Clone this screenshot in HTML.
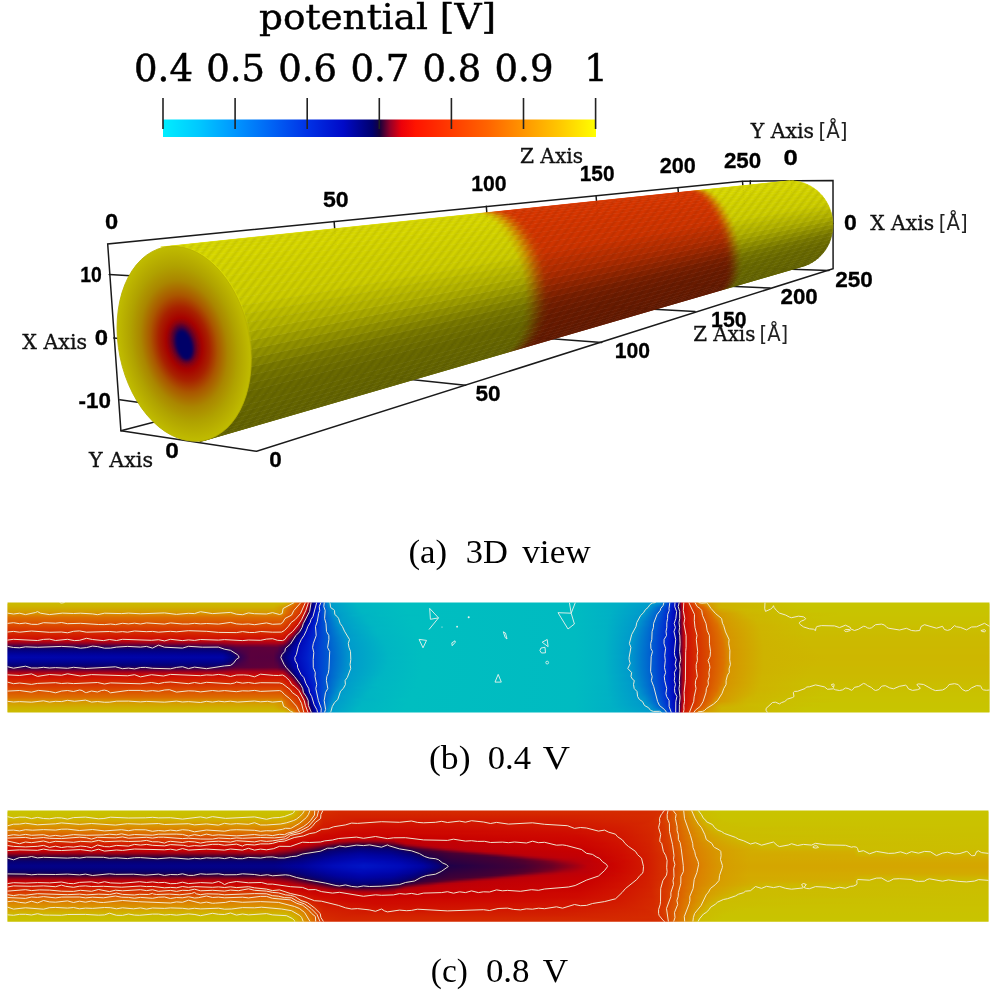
<!DOCTYPE html>
<html><head><meta charset="utf-8"><style>
html,body{margin:0;padding:0;background:#fff;}
body{width:996px;height:992px;overflow:hidden;position:relative;}
svg{position:absolute;left:0;top:0;}
.cap{font-family:"Liberation Serif",serif;}
.cap3{font-family:"Liberation Serif",serif;}
.ser{font-family:"DejaVu Serif",serif;}
.sans{font-family:"Liberation Sans",Arial,sans-serif;font-weight:bold;}
</style></head><body>
<svg width="996" height="992" viewBox="0 0 996 992">
<defs>
<linearGradient id="cb" x1="0" y1="0" x2="1" y2="0"><stop offset="0.00%" stop-color="#00eeff"/><stop offset="8.33%" stop-color="#00c8ff"/><stop offset="16.67%" stop-color="#0096ff"/><stop offset="25.00%" stop-color="#0064f5"/><stop offset="33.33%" stop-color="#0032e6"/><stop offset="41.67%" stop-color="#000ac8"/><stop offset="48.33%" stop-color="#00006e"/><stop offset="50.00%" stop-color="#14003c"/><stop offset="52.50%" stop-color="#960028"/><stop offset="55.00%" stop-color="#eb000a"/><stop offset="58.33%" stop-color="#ff1400"/><stop offset="66.67%" stop-color="#ff3c00"/><stop offset="75.00%" stop-color="#ff6400"/><stop offset="83.33%" stop-color="#ff9600"/><stop offset="91.67%" stop-color="#ffc800"/><stop offset="100.00%" stop-color="#ffff00"/></linearGradient>
<radialGradient id="capg" cx="0.5" cy="0.5" r="0.5">
<stop offset="0" stop-color="#800020"/>
<stop offset="0.18" stop-color="#8c0010"/>
<stop offset="0.27" stop-color="#a60200"/>
<stop offset="0.38" stop-color="#a82200"/>
<stop offset="0.5" stop-color="#aa5600"/>
<stop offset="0.65" stop-color="#aa8600"/>
<stop offset="0.8" stop-color="#b0a200"/>
<stop offset="1" stop-color="#c0bc00"/>
</radialGradient>
<filter id="blb" x="-1" y="-1" width="3" height="3"><feGaussianBlur stdDeviation="3"/></filter><filter id="blb2" x="-1" y="-1" width="3" height="3"><feGaussianBlur stdDeviation="1.6"/></filter>
<linearGradient id="s1" gradientUnits="userSpaceOnUse" x1="172.0" y1="246.0" x2="788.3" y2="181.0"><stop offset="0.0000" stop-color="#d9d900"/><stop offset="0.4884" stop-color="#d9d900"/><stop offset="0.5001" stop-color="#d9be00"/><stop offset="0.5116" stop-color="#d98400"/><stop offset="0.5229" stop-color="#d94d00"/><stop offset="0.5339" stop-color="#d93700"/><stop offset="0.8344" stop-color="#d93700"/><stop offset="0.8407" stop-color="#d93e00"/><stop offset="0.8469" stop-color="#d95e00"/><stop offset="0.8531" stop-color="#d99000"/><stop offset="0.8591" stop-color="#d9c000"/><stop offset="0.8651" stop-color="#d9d900"/><stop offset="1.0000" stop-color="#d9d900"/></linearGradient>
<linearGradient id="s2" gradientUnits="userSpaceOnUse" x1="177.8" y1="246.0" x2="791.9" y2="181.0"><stop offset="0.0000" stop-color="#dada00"/><stop offset="0.4770" stop-color="#dada00"/><stop offset="0.4889" stop-color="#dad800"/><stop offset="0.5006" stop-color="#dab200"/><stop offset="0.5121" stop-color="#da7500"/><stop offset="0.5234" stop-color="#da4400"/><stop offset="0.5345" stop-color="#da3700"/><stop offset="0.8284" stop-color="#da3700"/><stop offset="0.8347" stop-color="#da3800"/><stop offset="0.8410" stop-color="#da4d00"/><stop offset="0.8472" stop-color="#da7a00"/><stop offset="0.8533" stop-color="#daac00"/><stop offset="0.8594" stop-color="#dad300"/><stop offset="0.8653" stop-color="#dada00"/><stop offset="1.0000" stop-color="#dada00"/></linearGradient>
<linearGradient id="s3" gradientUnits="userSpaceOnUse" x1="183.7" y1="246.8" x2="795.5" y2="181.2"><stop offset="0.0000" stop-color="#dada00"/><stop offset="0.4775" stop-color="#dada00"/><stop offset="0.4894" stop-color="#dad400"/><stop offset="0.5011" stop-color="#daa400"/><stop offset="0.5126" stop-color="#da6700"/><stop offset="0.5239" stop-color="#da3e00"/><stop offset="0.5350" stop-color="#da3700"/><stop offset="0.8287" stop-color="#da3700"/><stop offset="0.8350" stop-color="#da4000"/><stop offset="0.8413" stop-color="#da6300"/><stop offset="0.8475" stop-color="#da9600"/><stop offset="0.8536" stop-color="#dac500"/><stop offset="0.8596" stop-color="#dada00"/><stop offset="1.0000" stop-color="#dada00"/></linearGradient>
<linearGradient id="s4" gradientUnits="userSpaceOnUse" x1="189.6" y1="248.4" x2="799.1" y2="181.8"><stop offset="0.0000" stop-color="#dada00"/><stop offset="0.4780" stop-color="#dada00"/><stop offset="0.4899" stop-color="#dacd00"/><stop offset="0.5016" stop-color="#da9700"/><stop offset="0.5131" stop-color="#da5a00"/><stop offset="0.5244" stop-color="#da3900"/><stop offset="0.5355" stop-color="#da3700"/><stop offset="0.8225" stop-color="#da3700"/><stop offset="0.8290" stop-color="#da3800"/><stop offset="0.8353" stop-color="#da4f00"/><stop offset="0.8416" stop-color="#da7e00"/><stop offset="0.8478" stop-color="#dab000"/><stop offset="0.8539" stop-color="#dad500"/><stop offset="0.8599" stop-color="#dada00"/><stop offset="1.0000" stop-color="#dada00"/></linearGradient>
<linearGradient id="s5" gradientUnits="userSpaceOnUse" x1="195.6" y1="250.7" x2="802.6" y2="182.7"><stop offset="0.0000" stop-color="#dbdb00"/><stop offset="0.4785" stop-color="#dbdb00"/><stop offset="0.4904" stop-color="#dbc300"/><stop offset="0.5021" stop-color="#db8a00"/><stop offset="0.5136" stop-color="#db5000"/><stop offset="0.5249" stop-color="#db3700"/><stop offset="0.8228" stop-color="#db3700"/><stop offset="0.8292" stop-color="#db4100"/><stop offset="0.8356" stop-color="#db6400"/><stop offset="0.8418" stop-color="#db9800"/><stop offset="0.8480" stop-color="#dbc600"/><stop offset="0.8541" stop-color="#dbdb00"/><stop offset="1.0000" stop-color="#dbdb00"/></linearGradient>
<linearGradient id="s6" gradientUnits="userSpaceOnUse" x1="201.4" y1="253.8" x2="806.0" y2="183.9"><stop offset="0.0000" stop-color="#dbdb00"/><stop offset="0.4790" stop-color="#dbdb00"/><stop offset="0.4909" stop-color="#dbb900"/><stop offset="0.5026" stop-color="#db7c00"/><stop offset="0.5141" stop-color="#db4800"/><stop offset="0.5254" stop-color="#db3700"/><stop offset="0.8166" stop-color="#db3700"/><stop offset="0.8231" stop-color="#db3800"/><stop offset="0.8295" stop-color="#db4e00"/><stop offset="0.8358" stop-color="#db7c00"/><stop offset="0.8421" stop-color="#dbaf00"/><stop offset="0.8483" stop-color="#dbd500"/><stop offset="0.8543" stop-color="#dbdb00"/><stop offset="1.0000" stop-color="#dbdb00"/></linearGradient>
<linearGradient id="s7" gradientUnits="userSpaceOnUse" x1="207.2" y1="257.6" x2="809.4" y2="185.5"><stop offset="0.0000" stop-color="#dbdb00"/><stop offset="0.4673" stop-color="#dbdb00"/><stop offset="0.4794" stop-color="#dbd800"/><stop offset="0.4914" stop-color="#dbad00"/><stop offset="0.5031" stop-color="#db7000"/><stop offset="0.5146" stop-color="#db4200"/><stop offset="0.5259" stop-color="#db3700"/><stop offset="0.8168" stop-color="#db3700"/><stop offset="0.8233" stop-color="#db3e00"/><stop offset="0.8298" stop-color="#db5f00"/><stop offset="0.8361" stop-color="#db9200"/><stop offset="0.8423" stop-color="#dbc200"/><stop offset="0.8485" stop-color="#dbdb00"/><stop offset="1.0000" stop-color="#dbdb00"/></linearGradient>
<linearGradient id="s8" gradientUnits="userSpaceOnUse" x1="212.8" y1="262.1" x2="812.6" y2="187.3"><stop offset="0.0000" stop-color="#d9d900"/><stop offset="0.4677" stop-color="#d9d900"/><stop offset="0.4799" stop-color="#d9d200"/><stop offset="0.4918" stop-color="#d9a100"/><stop offset="0.5035" stop-color="#d96400"/><stop offset="0.5150" stop-color="#d93c00"/><stop offset="0.5263" stop-color="#d93700"/><stop offset="0.8171" stop-color="#d93700"/><stop offset="0.8236" stop-color="#d94800"/><stop offset="0.8300" stop-color="#d97100"/><stop offset="0.8363" stop-color="#d9a400"/><stop offset="0.8426" stop-color="#d9ce00"/><stop offset="0.8487" stop-color="#d9d900"/><stop offset="1.0000" stop-color="#d9d900"/></linearGradient>
<linearGradient id="s9" gradientUnits="userSpaceOnUse" x1="218.2" y1="267.3" x2="815.6" y2="189.5"><stop offset="0.0000" stop-color="#d8d800"/><stop offset="0.4681" stop-color="#d8d800"/><stop offset="0.4803" stop-color="#d8cb00"/><stop offset="0.4922" stop-color="#d89600"/><stop offset="0.5039" stop-color="#d85a00"/><stop offset="0.5154" stop-color="#d83900"/><stop offset="0.5267" stop-color="#d83600"/><stop offset="0.8108" stop-color="#d83600"/><stop offset="0.8173" stop-color="#d83900"/><stop offset="0.8238" stop-color="#d85200"/><stop offset="0.8302" stop-color="#d88200"/><stop offset="0.8365" stop-color="#d8b400"/><stop offset="0.8428" stop-color="#d8d500"/><stop offset="0.8489" stop-color="#d8d800"/><stop offset="1.0000" stop-color="#d8d800"/></linearGradient>
<linearGradient id="s10" gradientUnits="userSpaceOnUse" x1="223.3" y1="273.1" x2="818.5" y2="191.9"><stop offset="0.0000" stop-color="#d7d700"/><stop offset="0.4685" stop-color="#d7d700"/><stop offset="0.4806" stop-color="#d7c300"/><stop offset="0.4925" stop-color="#d78b00"/><stop offset="0.5042" stop-color="#d75100"/><stop offset="0.5157" stop-color="#d73700"/><stop offset="0.5270" stop-color="#d73600"/><stop offset="0.8110" stop-color="#d73600"/><stop offset="0.8175" stop-color="#d73e00"/><stop offset="0.8240" stop-color="#d75f00"/><stop offset="0.8304" stop-color="#d79100"/><stop offset="0.8367" stop-color="#d7c000"/><stop offset="0.8430" stop-color="#d7d600"/><stop offset="0.8491" stop-color="#d7d700"/><stop offset="1.0000" stop-color="#d7d700"/></linearGradient>
<linearGradient id="s11" gradientUnits="userSpaceOnUse" x1="228.2" y1="279.4" x2="821.1" y2="194.6"><stop offset="0.0000" stop-color="#d5d500"/><stop offset="0.4688" stop-color="#d5d500"/><stop offset="0.4809" stop-color="#d5bb00"/><stop offset="0.4929" stop-color="#d58200"/><stop offset="0.5046" stop-color="#d54b00"/><stop offset="0.5161" stop-color="#d53600"/><stop offset="0.8112" stop-color="#d53600"/><stop offset="0.8177" stop-color="#d54400"/><stop offset="0.8242" stop-color="#d56a00"/><stop offset="0.8306" stop-color="#d59c00"/><stop offset="0.8369" stop-color="#d5c700"/><stop offset="0.8431" stop-color="#d5d500"/><stop offset="1.0000" stop-color="#d5d500"/></linearGradient>
<linearGradient id="s12" gradientUnits="userSpaceOnUse" x1="232.7" y1="286.4" x2="823.6" y2="197.5"><stop offset="0.0000" stop-color="#d4d400"/><stop offset="0.4690" stop-color="#d4d400"/><stop offset="0.4812" stop-color="#d4b400"/><stop offset="0.4931" stop-color="#d47a00"/><stop offset="0.5048" stop-color="#d44600"/><stop offset="0.5163" stop-color="#d43500"/><stop offset="0.8047" stop-color="#d43500"/><stop offset="0.8113" stop-color="#d43600"/><stop offset="0.8179" stop-color="#d44900"/><stop offset="0.8244" stop-color="#d47400"/><stop offset="0.8308" stop-color="#d4a500"/><stop offset="0.8370" stop-color="#d4cc00"/><stop offset="0.8433" stop-color="#d4d400"/><stop offset="1.0000" stop-color="#d4d400"/></linearGradient>
<linearGradient id="s13" gradientUnits="userSpaceOnUse" x1="236.8" y1="293.8" x2="825.7" y2="200.6"><stop offset="0.0000" stop-color="#d2d200"/><stop offset="0.4569" stop-color="#d2d200"/><stop offset="0.4693" stop-color="#d2d100"/><stop offset="0.4814" stop-color="#d2ad00"/><stop offset="0.4934" stop-color="#d27300"/><stop offset="0.5051" stop-color="#d24300"/><stop offset="0.5166" stop-color="#d23500"/><stop offset="0.8048" stop-color="#d23500"/><stop offset="0.8115" stop-color="#d23700"/><stop offset="0.8180" stop-color="#d24d00"/><stop offset="0.8245" stop-color="#d27b00"/><stop offset="0.8309" stop-color="#d2ab00"/><stop offset="0.8372" stop-color="#d2ce00"/><stop offset="0.8434" stop-color="#d2d200"/><stop offset="1.0000" stop-color="#d2d200"/></linearGradient>
<linearGradient id="s14" gradientUnits="userSpaceOnUse" x1="240.5" y1="301.6" x2="827.7" y2="203.9"><stop offset="0.0000" stop-color="#d0d000"/><stop offset="0.4571" stop-color="#d0d000"/><stop offset="0.4694" stop-color="#d0ce00"/><stop offset="0.4816" stop-color="#d0a600"/><stop offset="0.4935" stop-color="#d06c00"/><stop offset="0.5052" stop-color="#d03f00"/><stop offset="0.5167" stop-color="#d03400"/><stop offset="0.8049" stop-color="#d03400"/><stop offset="0.8116" stop-color="#d03700"/><stop offset="0.8181" stop-color="#d05000"/><stop offset="0.8246" stop-color="#d07f00"/><stop offset="0.8310" stop-color="#d0ae00"/><stop offset="0.8373" stop-color="#d0ce00"/><stop offset="0.8435" stop-color="#d0d000"/><stop offset="1.0000" stop-color="#d0d000"/></linearGradient>
<linearGradient id="s15" gradientUnits="userSpaceOnUse" x1="243.8" y1="309.8" x2="829.3" y2="207.4"><stop offset="0.0000" stop-color="#c8c800"/><stop offset="0.4572" stop-color="#c8c800"/><stop offset="0.4696" stop-color="#c8c400"/><stop offset="0.4817" stop-color="#c89c00"/><stop offset="0.4937" stop-color="#c86500"/><stop offset="0.5054" stop-color="#c83b00"/><stop offset="0.5169" stop-color="#c83200"/><stop offset="0.8050" stop-color="#c83200"/><stop offset="0.8117" stop-color="#c83600"/><stop offset="0.8182" stop-color="#c84e00"/><stop offset="0.8247" stop-color="#c87c00"/><stop offset="0.8311" stop-color="#c8a900"/><stop offset="0.8373" stop-color="#c8c600"/><stop offset="0.8435" stop-color="#c8c800"/><stop offset="1.0000" stop-color="#c8c800"/></linearGradient>
<linearGradient id="s16" gradientUnits="userSpaceOnUse" x1="246.6" y1="318.3" x2="830.6" y2="211.0"><stop offset="0.0000" stop-color="#bfbf00"/><stop offset="0.4573" stop-color="#bfbf00"/><stop offset="0.4697" stop-color="#bfbb00"/><stop offset="0.4818" stop-color="#bf9300"/><stop offset="0.4938" stop-color="#bf5e00"/><stop offset="0.5055" stop-color="#bf3800"/><stop offset="0.5170" stop-color="#bf3000"/><stop offset="0.8051" stop-color="#bf3000"/><stop offset="0.8117" stop-color="#bf3400"/><stop offset="0.8183" stop-color="#bf4b00"/><stop offset="0.8247" stop-color="#bf7700"/><stop offset="0.8311" stop-color="#bfa200"/><stop offset="0.8374" stop-color="#bfbd00"/><stop offset="0.8436" stop-color="#bfbf00"/><stop offset="1.0000" stop-color="#bfbf00"/></linearGradient>
<linearGradient id="s17" gradientUnits="userSpaceOnUse" x1="248.8" y1="327.0" x2="831.7" y2="214.7"><stop offset="0.0000" stop-color="#b7b700"/><stop offset="0.4573" stop-color="#b7b700"/><stop offset="0.4697" stop-color="#b7b300"/><stop offset="0.4819" stop-color="#b78c00"/><stop offset="0.4938" stop-color="#b75900"/><stop offset="0.5055" stop-color="#b73500"/><stop offset="0.5170" stop-color="#b72e00"/><stop offset="0.8051" stop-color="#b72e00"/><stop offset="0.8117" stop-color="#b73100"/><stop offset="0.8183" stop-color="#b74600"/><stop offset="0.8248" stop-color="#b76f00"/><stop offset="0.8311" stop-color="#b79900"/><stop offset="0.8374" stop-color="#b7b400"/><stop offset="0.8436" stop-color="#b7b700"/><stop offset="1.0000" stop-color="#b7b700"/></linearGradient>
<linearGradient id="s18" gradientUnits="userSpaceOnUse" x1="250.6" y1="335.8" x2="832.4" y2="218.5"><stop offset="0.0000" stop-color="#acac00"/><stop offset="0.4573" stop-color="#acac00"/><stop offset="0.4697" stop-color="#aca800"/><stop offset="0.4818" stop-color="#ac8400"/><stop offset="0.4938" stop-color="#ac5300"/><stop offset="0.5055" stop-color="#ac3200"/><stop offset="0.5170" stop-color="#ac2b00"/><stop offset="0.8051" stop-color="#ac2b00"/><stop offset="0.8117" stop-color="#ac2d00"/><stop offset="0.8183" stop-color="#ac3f00"/><stop offset="0.8247" stop-color="#ac6400"/><stop offset="0.8311" stop-color="#ac8c00"/><stop offset="0.8374" stop-color="#aca800"/><stop offset="0.8436" stop-color="#acac00"/><stop offset="1.0000" stop-color="#acac00"/></linearGradient>
<linearGradient id="s19" gradientUnits="userSpaceOnUse" x1="251.8" y1="344.7" x2="832.8" y2="222.3"><stop offset="0.0000" stop-color="#9f9f00"/><stop offset="0.4572" stop-color="#9f9f00"/><stop offset="0.4696" stop-color="#9f9b00"/><stop offset="0.4818" stop-color="#9f7a00"/><stop offset="0.4937" stop-color="#9f4e00"/><stop offset="0.5054" stop-color="#9f2e00"/><stop offset="0.5169" stop-color="#9f2800"/><stop offset="0.8117" stop-color="#9f2800"/><stop offset="0.8182" stop-color="#9f3700"/><stop offset="0.8247" stop-color="#9f5700"/><stop offset="0.8311" stop-color="#9f7c00"/><stop offset="0.8374" stop-color="#9f9900"/><stop offset="0.8436" stop-color="#9f9f00"/><stop offset="1.0000" stop-color="#9f9f00"/></linearGradient>
<linearGradient id="s20" gradientUnits="userSpaceOnUse" x1="252.4" y1="353.6" x2="832.9" y2="226.2"><stop offset="0.0000" stop-color="#929200"/><stop offset="0.4571" stop-color="#929200"/><stop offset="0.4695" stop-color="#928f00"/><stop offset="0.4817" stop-color="#927200"/><stop offset="0.4936" stop-color="#924900"/><stop offset="0.5053" stop-color="#922b00"/><stop offset="0.5168" stop-color="#922500"/><stop offset="0.8116" stop-color="#922500"/><stop offset="0.8182" stop-color="#922e00"/><stop offset="0.8246" stop-color="#924900"/><stop offset="0.8310" stop-color="#926b00"/><stop offset="0.8373" stop-color="#928800"/><stop offset="0.8435" stop-color="#929200"/><stop offset="1.0000" stop-color="#929200"/></linearGradient>
<linearGradient id="s21" gradientUnits="userSpaceOnUse" x1="252.5" y1="362.3" x2="832.6" y2="230.0"><stop offset="0.0000" stop-color="#868600"/><stop offset="0.4569" stop-color="#868600"/><stop offset="0.4693" stop-color="#868400"/><stop offset="0.4815" stop-color="#866b00"/><stop offset="0.4934" stop-color="#864600"/><stop offset="0.5051" stop-color="#862900"/><stop offset="0.5166" stop-color="#862200"/><stop offset="0.8115" stop-color="#862200"/><stop offset="0.8181" stop-color="#862700"/><stop offset="0.8245" stop-color="#863b00"/><stop offset="0.8309" stop-color="#865a00"/><stop offset="0.8372" stop-color="#867700"/><stop offset="0.8434" stop-color="#868600"/><stop offset="1.0000" stop-color="#868600"/></linearGradient>
<linearGradient id="s22" gradientUnits="userSpaceOnUse" x1="252.1" y1="370.9" x2="832.0" y2="233.8"><stop offset="0.0000" stop-color="#7a7a00"/><stop offset="0.4567" stop-color="#7a7a00"/><stop offset="0.4691" stop-color="#7a7900"/><stop offset="0.4813" stop-color="#7a6400"/><stop offset="0.4932" stop-color="#7a4200"/><stop offset="0.5049" stop-color="#7a2700"/><stop offset="0.5164" stop-color="#7a1f00"/><stop offset="0.8114" stop-color="#7a1f00"/><stop offset="0.8179" stop-color="#7a2000"/><stop offset="0.8244" stop-color="#7a2e00"/><stop offset="0.8308" stop-color="#7a4a00"/><stop offset="0.8371" stop-color="#7a6500"/><stop offset="0.8433" stop-color="#7a7800"/><stop offset="0.8494" stop-color="#7a7a00"/><stop offset="1.0000" stop-color="#7a7a00"/></linearGradient>
<linearGradient id="s23" gradientUnits="userSpaceOnUse" x1="251.1" y1="379.3" x2="831.2" y2="237.5"><stop offset="0.0000" stop-color="#747400"/><stop offset="0.4689" stop-color="#747400"/><stop offset="0.4810" stop-color="#746200"/><stop offset="0.4930" stop-color="#744300"/><stop offset="0.5047" stop-color="#742700"/><stop offset="0.5162" stop-color="#741d00"/><stop offset="0.8178" stop-color="#741d00"/><stop offset="0.8243" stop-color="#742600"/><stop offset="0.8307" stop-color="#743c00"/><stop offset="0.8370" stop-color="#745800"/><stop offset="0.8432" stop-color="#746e00"/><stop offset="0.8493" stop-color="#747400"/><stop offset="1.0000" stop-color="#747400"/></linearGradient>
<linearGradient id="s24" gradientUnits="userSpaceOnUse" x1="249.5" y1="387.4" x2="830.0" y2="241.1"><stop offset="0.0000" stop-color="#6f6f00"/><stop offset="0.4686" stop-color="#6f6f00"/><stop offset="0.4807" stop-color="#6f6200"/><stop offset="0.4927" stop-color="#6f4400"/><stop offset="0.5044" stop-color="#6f2700"/><stop offset="0.5159" stop-color="#6f1c00"/><stop offset="0.8176" stop-color="#6f1c00"/><stop offset="0.8241" stop-color="#6f2000"/><stop offset="0.8305" stop-color="#6f3000"/><stop offset="0.8368" stop-color="#6f4a00"/><stop offset="0.8430" stop-color="#6f6300"/><stop offset="0.8491" stop-color="#6f6f00"/><stop offset="1.0000" stop-color="#6f6f00"/></linearGradient>
<linearGradient id="s25" gradientUnits="userSpaceOnUse" x1="247.5" y1="395.1" x2="828.5" y2="244.6"><stop offset="0.0000" stop-color="#6b6b00"/><stop offset="0.4682" stop-color="#6b6b00"/><stop offset="0.4804" stop-color="#6b6100"/><stop offset="0.4923" stop-color="#6b4500"/><stop offset="0.5040" stop-color="#6b2900"/><stop offset="0.5155" stop-color="#6b1b00"/><stop offset="0.8239" stop-color="#6b1b00"/><stop offset="0.8303" stop-color="#6b2600"/><stop offset="0.8366" stop-color="#6b3c00"/><stop offset="0.8428" stop-color="#6b5500"/><stop offset="0.8490" stop-color="#6b6800"/><stop offset="0.8550" stop-color="#6b6b00"/><stop offset="1.0000" stop-color="#6b6b00"/></linearGradient>
<linearGradient id="s26" gradientUnits="userSpaceOnUse" x1="244.9" y1="402.3" x2="826.7" y2="247.9"><stop offset="0.0000" stop-color="#6a6a00"/><stop offset="0.4678" stop-color="#6a6a00"/><stop offset="0.4800" stop-color="#6a6300"/><stop offset="0.4919" stop-color="#6a4900"/><stop offset="0.5036" stop-color="#6a2c00"/><stop offset="0.5151" stop-color="#6a1c00"/><stop offset="0.5264" stop-color="#6a1b00"/><stop offset="0.8237" stop-color="#6a1b00"/><stop offset="0.8301" stop-color="#6a1f00"/><stop offset="0.8364" stop-color="#6a3000"/><stop offset="0.8426" stop-color="#6a4900"/><stop offset="0.8488" stop-color="#6a6000"/><stop offset="0.8548" stop-color="#6a6a00"/><stop offset="1.0000" stop-color="#6a6a00"/></linearGradient>
<linearGradient id="s27" gradientUnits="userSpaceOnUse" x1="241.9" y1="409.0" x2="824.7" y2="251.0"><stop offset="0.0000" stop-color="#696900"/><stop offset="0.4674" stop-color="#696900"/><stop offset="0.4796" stop-color="#696500"/><stop offset="0.4915" stop-color="#694d00"/><stop offset="0.5032" stop-color="#693000"/><stop offset="0.5147" stop-color="#691d00"/><stop offset="0.5260" stop-color="#691a00"/><stop offset="0.8234" stop-color="#691a00"/><stop offset="0.8298" stop-color="#691b00"/><stop offset="0.8362" stop-color="#692600"/><stop offset="0.8424" stop-color="#693c00"/><stop offset="0.8486" stop-color="#695400"/><stop offset="0.8546" stop-color="#696600"/><stop offset="0.8606" stop-color="#696900"/><stop offset="1.0000" stop-color="#696900"/></linearGradient>
<linearGradient id="s28" gradientUnits="userSpaceOnUse" x1="238.4" y1="415.2" x2="822.4" y2="253.9"><stop offset="0.0000" stop-color="#676700"/><stop offset="0.4670" stop-color="#676700"/><stop offset="0.4791" stop-color="#676600"/><stop offset="0.4911" stop-color="#675200"/><stop offset="0.5028" stop-color="#673500"/><stop offset="0.5143" stop-color="#671f00"/><stop offset="0.5256" stop-color="#671a00"/><stop offset="0.8296" stop-color="#671a00"/><stop offset="0.8359" stop-color="#671e00"/><stop offset="0.8422" stop-color="#672f00"/><stop offset="0.8483" stop-color="#674700"/><stop offset="0.8544" stop-color="#675d00"/><stop offset="0.8604" stop-color="#676700"/><stop offset="1.0000" stop-color="#676700"/></linearGradient>
<linearGradient id="s29" gradientUnits="userSpaceOnUse" x1="234.5" y1="420.8" x2="819.8" y2="256.6"><stop offset="0.0000" stop-color="#666600"/><stop offset="0.4787" stop-color="#666600"/><stop offset="0.4906" stop-color="#665600"/><stop offset="0.5023" stop-color="#663a00"/><stop offset="0.5138" stop-color="#662200"/><stop offset="0.5251" stop-color="#661a00"/><stop offset="0.8357" stop-color="#661a00"/><stop offset="0.8419" stop-color="#662400"/><stop offset="0.8481" stop-color="#663900"/><stop offset="0.8542" stop-color="#665100"/><stop offset="0.8602" stop-color="#666300"/><stop offset="0.8661" stop-color="#666600"/><stop offset="1.0000" stop-color="#666600"/></linearGradient>
<linearGradient id="s30" gradientUnits="userSpaceOnUse" x1="230.2" y1="425.8" x2="817.1" y2="259.0"><stop offset="0.0000" stop-color="#656500"/><stop offset="0.4782" stop-color="#656500"/><stop offset="0.4901" stop-color="#655a00"/><stop offset="0.5018" stop-color="#653f00"/><stop offset="0.5133" stop-color="#652500"/><stop offset="0.5246" stop-color="#651900"/><stop offset="0.8354" stop-color="#651900"/><stop offset="0.8417" stop-color="#651d00"/><stop offset="0.8478" stop-color="#652b00"/><stop offset="0.8539" stop-color="#654300"/><stop offset="0.8600" stop-color="#655900"/><stop offset="0.8659" stop-color="#656500"/><stop offset="1.0000" stop-color="#656500"/></linearGradient>
<linearGradient id="s31" gradientUnits="userSpaceOnUse" x1="225.6" y1="430.1" x2="814.1" y2="261.1"><stop offset="0.0000" stop-color="#646400"/><stop offset="0.4777" stop-color="#646400"/><stop offset="0.4896" stop-color="#645d00"/><stop offset="0.5013" stop-color="#644500"/><stop offset="0.5128" stop-color="#642900"/><stop offset="0.5241" stop-color="#641a00"/><stop offset="0.5352" stop-color="#641900"/><stop offset="0.8414" stop-color="#641900"/><stop offset="0.8476" stop-color="#642100"/><stop offset="0.8537" stop-color="#643400"/><stop offset="0.8597" stop-color="#644c00"/><stop offset="0.8657" stop-color="#645f00"/><stop offset="0.8715" stop-color="#646400"/><stop offset="1.0000" stop-color="#646400"/></linearGradient>
<linearGradient id="s32" gradientUnits="userSpaceOnUse" x1="220.7" y1="433.7" x2="811.0" y2="263.0"><stop offset="0.0000" stop-color="#636300"/><stop offset="0.4772" stop-color="#636300"/><stop offset="0.4891" stop-color="#636000"/><stop offset="0.5008" stop-color="#634a00"/><stop offset="0.5123" stop-color="#632f00"/><stop offset="0.5236" stop-color="#631c00"/><stop offset="0.5347" stop-color="#631900"/><stop offset="0.8411" stop-color="#631900"/><stop offset="0.8473" stop-color="#631b00"/><stop offset="0.8534" stop-color="#632700"/><stop offset="0.8595" stop-color="#633d00"/><stop offset="0.8654" stop-color="#635400"/><stop offset="0.8713" stop-color="#636200"/><stop offset="0.8771" stop-color="#636300"/><stop offset="1.0000" stop-color="#636300"/></linearGradient>
<linearGradient id="s33" gradientUnits="userSpaceOnUse" x1="215.6" y1="436.6" x2="807.8" y2="264.5"><stop offset="0.0000" stop-color="#616100"/><stop offset="0.4885" stop-color="#616100"/><stop offset="0.5002" stop-color="#615000"/><stop offset="0.5117" stop-color="#613400"/><stop offset="0.5230" stop-color="#611f00"/><stop offset="0.5341" stop-color="#611800"/><stop offset="0.8470" stop-color="#611800"/><stop offset="0.8532" stop-color="#611e00"/><stop offset="0.8592" stop-color="#612f00"/><stop offset="0.8652" stop-color="#614600"/><stop offset="0.8711" stop-color="#615a00"/><stop offset="0.8769" stop-color="#616100"/><stop offset="1.0000" stop-color="#616100"/></linearGradient>
<linearGradient id="s34" gradientUnits="userSpaceOnUse" x1="210.2" y1="438.8" x2="804.4" y2="265.8"><stop offset="0.0000" stop-color="#606000"/><stop offset="0.4880" stop-color="#606000"/><stop offset="0.4997" stop-color="#605400"/><stop offset="0.5112" stop-color="#603a00"/><stop offset="0.5225" stop-color="#602200"/><stop offset="0.5336" stop-color="#601800"/><stop offset="0.8467" stop-color="#601800"/><stop offset="0.8529" stop-color="#601900"/><stop offset="0.8589" stop-color="#602300"/><stop offset="0.8649" stop-color="#603700"/><stop offset="0.8708" stop-color="#604d00"/><stop offset="0.8766" stop-color="#605e00"/><stop offset="0.8824" stop-color="#606000"/><stop offset="1.0000" stop-color="#606000"/></linearGradient><linearGradient id="facg" x1="0" y1="0" x2="0" y2="1"><stop offset="0" stop-color="#000" stop-opacity="0"/><stop offset="0.5" stop-color="#000" stop-opacity="0.09"/><stop offset="1" stop-color="#000" stop-opacity="0"/></linearGradient><pattern id="fac" width="40" height="6.5" patternUnits="userSpaceOnUse" patternTransform="rotate(-52)"><rect width="40" height="6.5" fill="url(#facg)"/></pattern>
</defs>

<rect x="163" y="119.5" width="433" height="17.5" fill="url(#cb)"/>
<line x1="163.0" y1="98.0" x2="163.0" y2="129.0" stroke="#222" stroke-width="1.6"/>
<line x1="235.1" y1="98.0" x2="235.1" y2="129.0" stroke="#222" stroke-width="1.6"/>
<line x1="307.2" y1="98.0" x2="307.2" y2="129.0" stroke="#222" stroke-width="1.6"/>
<line x1="379.3" y1="98.0" x2="379.3" y2="129.0" stroke="#222" stroke-width="1.6"/>
<line x1="451.4" y1="98.0" x2="451.4" y2="129.0" stroke="#222" stroke-width="1.6"/>
<line x1="523.5" y1="98.0" x2="523.5" y2="129.0" stroke="#222" stroke-width="1.6"/>
<line x1="595.6" y1="98.0" x2="595.6" y2="129.0" stroke="#222" stroke-width="1.6"/>
<text class="ser" x="163.5" y="80.7" font-size="37" text-anchor="middle" fill="#000" stroke="#000" stroke-width="0.5">0.4</text>
<text class="ser" x="235.6" y="80.7" font-size="37" text-anchor="middle" fill="#000" stroke="#000" stroke-width="0.5">0.5</text>
<text class="ser" x="307.7" y="80.7" font-size="37" text-anchor="middle" fill="#000" stroke="#000" stroke-width="0.5">0.6</text>
<text class="ser" x="379.8" y="80.7" font-size="37" text-anchor="middle" fill="#000" stroke="#000" stroke-width="0.5">0.7</text>
<text class="ser" x="451.9" y="80.7" font-size="37" text-anchor="middle" fill="#000" stroke="#000" stroke-width="0.5">0.8</text>
<text class="ser" x="524.0" y="80.7" font-size="37" text-anchor="middle" fill="#000" stroke="#000" stroke-width="0.5">0.9</text>
<text class="ser" x="596.1" y="80.7" font-size="37" text-anchor="middle" fill="#000" stroke="#000" stroke-width="0.5">1</text>
<text class="ser" x="377.5" y="29" font-size="36" text-anchor="middle" fill="#000" stroke="#000" stroke-width="0.45" textLength="237" lengthAdjust="spacingAndGlyphs">potential [V]</text>
<g stroke="#1a1a1a" stroke-width="1.5" fill="none" stroke-linecap="round">
<polyline points="120.9,430.7 107.7,244 742.5,181.3 833,180.4 833.1,268.6 256.7,451.3 120.9,430.7"/>
<line x1="120.9" y1="430.7" x2="540.0" y2="321.3"/>
<line x1="465.5" y1="385.3" x2="342.0" y2="372.3"/>
<line x1="601.8" y1="342.5" x2="490.4" y2="334.1"/>
<line x1="695.0" y1="311.6" x2="594.3" y2="305.9"/>
<line x1="770.0" y1="288.0" x2="678.4" y2="283.9"/>
<line x1="829.0" y1="270.5" x2="745.2" y2="267.6"/>
<line x1="334.1" y1="221.4" x2="336.1" y2="246.4"/>
<line x1="486.3" y1="206.3" x2="488.3" y2="231.3"/>
<line x1="596.1" y1="196.2" x2="598.1" y2="221.2"/>
<line x1="678.0" y1="188.3" x2="680.0" y2="213.3"/>
<line x1="742.5" y1="181.5" x2="744.5" y2="206.5"/>
<line x1="750.3" y1="180.8" x2="750.3" y2="195"/>
<line x1="791.5" y1="180.8" x2="791.5" y2="195"/>
<line x1="109.2" y1="274.6" x2="177.5" y2="278.4"/>
<line x1="113.8" y1="338.0" x2="181.9" y2="344.7"/>
<line x1="119.8" y1="399.8" x2="187.6" y2="409.2"/>
<line x1="833" y1="223.5" x2="826" y2="223"/>
</g>
<polygon points="204.9,440.1 199.4,441.9 802.7,266.3 806.1,265.2" fill="url(#s34)" stroke="url(#s34)" stroke-width="0.7"/>
<polygon points="160.7,247.1 166.5,246.8 790.1,181.0 786.5,181.2" fill="url(#s1)" stroke="url(#s1)" stroke-width="0.7"/>
<polygon points="210.1,437.6 204.9,440.1 806.1,265.2 809.4,263.8" fill="url(#s33)" stroke="url(#s33)" stroke-width="0.7"/>
<polygon points="166.5,246.8 172.4,247.2 793.7,181.0 790.1,181.0" fill="url(#s2)" stroke="url(#s2)" stroke-width="0.7"/>
<polygon points="215.2,434.3 210.1,437.6 809.4,263.8 812.6,262.1" fill="url(#s32)" stroke="url(#s32)" stroke-width="0.7"/>
<polygon points="172.4,247.2 178.3,248.4 797.3,181.5 793.7,181.0" fill="url(#s3)" stroke="url(#s3)" stroke-width="0.7"/>
<polygon points="219.9,430.3 215.2,434.3 812.6,262.1 815.6,260.1" fill="url(#s31)" stroke="url(#s31)" stroke-width="0.7"/>
<polygon points="178.3,248.4 184.3,250.4 800.8,182.2 797.3,181.5" fill="url(#s4)" stroke="url(#s4)" stroke-width="0.7"/>
<polygon points="224.4,425.7 219.9,430.3 815.6,260.1 818.5,257.8" fill="url(#s30)" stroke="url(#s30)" stroke-width="0.7"/>
<polygon points="184.3,250.4 190.2,253.1 804.3,183.3 800.8,182.2" fill="url(#s5)" stroke="url(#s5)" stroke-width="0.7"/>
<polygon points="228.5,420.3 224.4,425.7 818.5,257.8 821.1,255.3" fill="url(#s29)" stroke="url(#s29)" stroke-width="0.7"/>
<polygon points="190.2,253.1 196.0,256.6 807.7,184.7 804.3,183.3" fill="url(#s6)" stroke="url(#s6)" stroke-width="0.7"/>
<polygon points="232.2,414.4 228.5,420.3 821.1,255.3 823.5,252.5" fill="url(#s28)" stroke="url(#s28)" stroke-width="0.7"/>
<polygon points="196.0,256.6 201.8,260.8 811.0,186.4 807.7,184.7" fill="url(#s7)" stroke="url(#s7)" stroke-width="0.7"/>
<polygon points="235.4,407.9 232.2,414.4 823.5,252.5 825.7,249.5" fill="url(#s27)" stroke="url(#s27)" stroke-width="0.7"/>
<polygon points="201.8,260.8 207.3,265.6 814.1,188.4 811.0,186.4" fill="url(#s8)" stroke="url(#s8)" stroke-width="0.7"/>
<polygon points="238.2,400.8 235.4,407.9 825.7,249.5 827.6,246.3" fill="url(#s26)" stroke="url(#s26)" stroke-width="0.7"/>
<polygon points="207.3,265.6 212.6,271.2 817.1,190.6 814.1,188.4" fill="url(#s9)" stroke="url(#s9)" stroke-width="0.7"/>
<polygon points="240.6,393.3 238.2,400.8 827.6,246.3 829.3,242.9" fill="url(#s25)" stroke="url(#s25)" stroke-width="0.7"/>
<polygon points="212.6,271.2 217.6,277.3 819.8,193.2 817.1,190.6" fill="url(#s10)" stroke="url(#s10)" stroke-width="0.7"/>
<polygon points="242.4,385.4 240.6,393.3 829.3,242.9 830.6,239.3" fill="url(#s24)" stroke="url(#s24)" stroke-width="0.7"/>
<polygon points="217.6,277.3 222.3,284.0 822.4,196.0 819.8,193.2" fill="url(#s11)" stroke="url(#s11)" stroke-width="0.7"/>
<polygon points="243.6,377.1 242.4,385.4 830.6,239.3 831.6,235.7" fill="url(#s23)" stroke="url(#s23)" stroke-width="0.7"/>
<polygon points="222.3,284.0 226.7,291.3 824.7,199.0 822.4,196.0" fill="url(#s12)" stroke="url(#s12)" stroke-width="0.7"/>
<polygon points="244.4,368.5 243.6,377.1 831.6,235.7 832.4,231.9" fill="url(#s22)" stroke="url(#s22)" stroke-width="0.7"/>
<polygon points="226.7,291.3 230.6,299.0 826.7,202.2 824.7,199.0" fill="url(#s13)" stroke="url(#s13)" stroke-width="0.7"/>
<polygon points="244.5,359.8 244.4,368.5 832.4,231.9 832.8,228.1" fill="url(#s21)" stroke="url(#s21)" stroke-width="0.7"/>
<polygon points="230.6,299.0 234.1,307.1 828.5,205.6 826.7,202.2" fill="url(#s14)" stroke="url(#s14)" stroke-width="0.7"/>
<polygon points="244.1,350.9 244.5,359.8 832.8,228.1 832.9,224.3" fill="url(#s20)" stroke="url(#s20)" stroke-width="0.7"/>
<polygon points="234.1,307.1 237.1,315.5 830.0,209.2 828.5,205.6" fill="url(#s15)" stroke="url(#s15)" stroke-width="0.7"/>
<polygon points="243.2,341.9 244.1,350.9 832.9,224.3 832.6,220.4" fill="url(#s19)" stroke="url(#s19)" stroke-width="0.7"/>
<polygon points="237.1,315.5 239.7,324.1 831.2,212.8 830.0,209.2" fill="url(#s16)" stroke="url(#s16)" stroke-width="0.7"/>
<polygon points="241.7,333.0 243.2,341.9 832.6,220.4 832.1,216.6" fill="url(#s18)" stroke="url(#s18)" stroke-width="0.7"/>
<polygon points="239.7,324.1 241.7,333.0 832.1,216.6 831.2,212.8" fill="url(#s17)" stroke="url(#s17)" stroke-width="0.7"/>
<path d="M783.0,181.8 L785.2,181.4 L787.3,181.1 L789.5,181.0 L791.7,181.0 L793.9,181.1 L796.1,181.3 L798.2,181.6 L800.4,182.1 L802.6,182.7 L804.7,183.4 L806.7,184.2 L808.8,185.2 L810.8,186.2 L812.7,187.4 L814.6,188.7 L816.4,190.1 L818.1,191.6 L819.8,193.1 L821.4,194.8 L822.9,196.6 L824.3,198.4 L825.6,200.3 L826.8,202.3 L827.9,204.4 L828.9,206.5 L829.8,208.7 L830.6,210.9 L831.3,213.2 L831.8,215.4 L832.3,217.8 L832.6,220.1 L832.8,222.4 L832.9,224.8 L832.8,227.1 L832.7,229.5 L832.4,231.8 L832.0,234.1 L831.5,236.4 L830.8,238.6 L830.1,240.8 L829.2,242.9 L828.3,245.0 L827.2,247.0 L826.0,249.0 L824.7,250.9 L823.4,252.7 L821.9,254.4 L820.4,256.0 L818.7,257.6 L817.0,259.0 L815.3,260.3 L813.4,261.6 L811.5,262.7 L809.6,263.7 L807.6,264.6 L805.5,265.4 L803.5,266.1 L801.4,266.6 L799.2,267.0 L201.8,440.6 L205.3,440.1 L208.7,439.2 L212.0,438.1 L215.2,436.8 L218.4,435.1 L221.5,433.2 L224.5,431.0 L227.4,428.5 L230.2,425.8 L232.8,422.9 L235.3,419.7 L237.7,416.3 L239.9,412.6 L242.0,408.8 L243.9,404.7 L245.6,400.4 L247.2,396.0 L248.5,391.4 L249.7,386.6 L250.7,381.7 L251.4,376.7 L252.0,371.6 L252.4,366.4 L252.6,361.1 L252.5,355.7 L252.3,350.3 L251.8,344.9 L251.2,339.5 L250.3,334.1 L249.2,328.7 L248.0,323.4 L246.5,318.1 L244.9,312.9 L243.0,307.8 L241.0,302.8 L238.9,297.9 L236.5,293.2 L234.0,288.7 L231.4,284.3 L228.6,280.1 L225.7,276.1 L222.7,272.3 L219.6,268.7 L216.3,265.4 L213.0,262.3 L209.6,259.4 L206.2,256.9 L202.7,254.5 L199.1,252.5 L195.5,250.7 L191.9,249.2 L188.3,248.0 L184.6,247.0 L181.0,246.4 L177.4,246.0 L173.9,245.9 L170.3,246.1 L166.9,246.6 L163.5,247.3Z" fill="url(#fac)"/>
<ellipse cx="184.1" cy="343.8" rx="98.6" ry="65.4" transform="rotate(78.39 184.1 343.8)" fill="url(#capg)" stroke="#b8b000" stroke-width="0.8"/>
<ellipse cx="183.8" cy="343.5" rx="10.5" ry="19" transform="rotate(-14 183.8 343.5)" fill="#200050" filter="url(#blb)"/>
<ellipse cx="184.2" cy="345" rx="8" ry="15" transform="rotate(-14 184.2 345)" fill="#000068" filter="url(#blb2)"/>
<g class="sans" font-size="22" fill="#000" stroke="#000" stroke-width="0.3">
<text x="104.9" y="228.7" textLength="13.2" lengthAdjust="spacingAndGlyphs">0</text>
<text x="322.9" y="206.5" textLength="25.7" lengthAdjust="spacingAndGlyphs">50</text>
<text x="471.2" y="191.3" textLength="35.4" lengthAdjust="spacingAndGlyphs">100</text>
<text x="579.7" y="180.5" textLength="34.8" lengthAdjust="spacingAndGlyphs">150</text>
<text x="659.7" y="172.5" textLength="36.1" lengthAdjust="spacingAndGlyphs">200</text>
<text x="723.9" y="167.6" textLength="37.3" lengthAdjust="spacingAndGlyphs">250</text>
<text x="783.5" y="164.8" textLength="14.3" lengthAdjust="spacingAndGlyphs">0</text>
<text x="844.0" y="229.5" textLength="12.8" lengthAdjust="spacingAndGlyphs">0</text>
<text x="835.2" y="287.3" textLength="37.6" lengthAdjust="spacingAndGlyphs">250</text>
<text x="780.5" y="304.4" textLength="37.3" lengthAdjust="spacingAndGlyphs">200</text>
<text x="711.1" y="326.9" textLength="35.4" lengthAdjust="spacingAndGlyphs">150</text>
<text x="614.7" y="357.8" textLength="35.3" lengthAdjust="spacingAndGlyphs">100</text>
<text x="475.4" y="400.8" textLength="25.1" lengthAdjust="spacingAndGlyphs">50</text>
<text x="269.2" y="466.6" textLength="12.5" lengthAdjust="spacingAndGlyphs">0</text>
<text x="80.3" y="282.2" textLength="21.6" lengthAdjust="spacingAndGlyphs">10</text>
<text x="94.8" y="344.6" textLength="13.3" lengthAdjust="spacingAndGlyphs">0</text>
<text x="78.6" y="407.6" textLength="32.4" lengthAdjust="spacingAndGlyphs">-10</text>
<text x="165.2" y="458.0" textLength="13.6" lengthAdjust="spacingAndGlyphs">0</text>
</g>
<g font-family="DejaVu Serif, serif" font-size="20" fill="#111" stroke="#111" stroke-width="0.35">
<text x="22.3" y="349.3" textLength="64.8" lengthAdjust="spacingAndGlyphs">X Axis</text>
<text x="89.0" y="466.5" textLength="64.0" lengthAdjust="spacingAndGlyphs">Y Axis</text>
<text x="520.0" y="163.4" textLength="63.0" lengthAdjust="spacingAndGlyphs">Z Axis</text>
<text x="750.8" y="137.7" textLength="63.3" lengthAdjust="spacingAndGlyphs">Y Axis</text>
<text x="870.2" y="229.5" textLength="63.9" lengthAdjust="spacingAndGlyphs">X Axis</text>
<text x="693.3" y="341.1" textLength="62.0" lengthAdjust="spacingAndGlyphs">Z Axis</text>
</g>
<g font-family="DejaVu Sans, sans-serif" font-size="21" fill="#222">
<text x="818.5" y="137.7" textLength="29.1" lengthAdjust="spacingAndGlyphs">[Å]</text>
<text x="938.8" y="229.5" textLength="28.8" lengthAdjust="spacingAndGlyphs">[Å]</text>
<text x="759.5" y="341.1" textLength="28.7" lengthAdjust="spacingAndGlyphs">[Å]</text>
</g>
<text class="cap" x="408.5" y="563.3" font-size="33" textLength="38.7" lengthAdjust="spacingAndGlyphs">(a)</text>
<text class="cap" x="465.8" y="563.3" font-size="33" textLength="42.1" lengthAdjust="spacingAndGlyphs">3D</text>
<text class="cap" x="522.2" y="563.3" font-size="33" textLength="68.6" lengthAdjust="spacingAndGlyphs">view</text>
<text class="cap" x="429.0" y="769.3" font-size="33" textLength="41.5" lengthAdjust="spacingAndGlyphs">(b)</text>
<text class="cap" x="487.7" y="769.3" font-size="33" textLength="43.3" lengthAdjust="spacingAndGlyphs">0.4</text>
<text class="cap" x="542.8" y="769.3" font-size="33" textLength="27.2" lengthAdjust="spacingAndGlyphs">V</text>
<text class="cap" x="430.8" y="982.4" font-size="33" textLength="37.0" lengthAdjust="spacingAndGlyphs">(c)</text>
<text class="cap" x="485.9" y="982.4" font-size="33" textLength="43.7" lengthAdjust="spacingAndGlyphs">0.8</text>
<text class="cap" x="542.8" y="982.4" font-size="33" textLength="25.3" lengthAdjust="spacingAndGlyphs">V</text>
<defs><linearGradient id="b0"><stop offset="0.0000" stop-color="#ccba00"/><stop offset="0.2800" stop-color="#cdb800"/><stop offset="0.2831" stop-color="#cfb100"/><stop offset="0.2902" stop-color="#d79200"/><stop offset="0.2933" stop-color="#dc6e00"/><stop offset="0.3014" stop-color="#d73600"/><stop offset="0.3035" stop-color="#d42600"/><stop offset="0.3055" stop-color="#cf1003"/><stop offset="0.3065" stop-color="#c2070c"/><stop offset="0.3075" stop-color="#9b0020"/><stop offset="0.3086" stop-color="#57003f"/><stop offset="0.3096" stop-color="#1f0062"/><stop offset="0.3106" stop-color="#04007a"/><stop offset="0.3126" stop-color="#00029d"/><stop offset="0.3157" stop-color="#000cbb"/><stop offset="0.3167" stop-color="#0015c6"/><stop offset="0.3187" stop-color="#002fd0"/><stop offset="0.3228" stop-color="#0067cf"/><stop offset="0.3259" stop-color="#0089cd"/><stop offset="0.3269" stop-color="#0095cc"/><stop offset="0.3330" stop-color="#00a1c9"/><stop offset="0.3554" stop-color="#00b6c3"/><stop offset="0.4033" stop-color="#00bec0"/><stop offset="0.5774" stop-color="#00bbc1"/><stop offset="0.6242" stop-color="#00aec6"/><stop offset="0.6568" stop-color="#009bcb"/><stop offset="0.6650" stop-color="#008bcc"/><stop offset="0.6752" stop-color="#0031d0"/><stop offset="0.6782" stop-color="#0017c8"/><stop offset="0.6802" stop-color="#000cbb"/><stop offset="0.6813" stop-color="#0007b0"/><stop offset="0.6823" stop-color="#00029c"/><stop offset="0.6833" stop-color="#04007c"/><stop offset="0.6843" stop-color="#380051"/><stop offset="0.6853" stop-color="#750030"/><stop offset="0.6864" stop-color="#ae0217"/><stop offset="0.6874" stop-color="#cb0a06"/><stop offset="0.6925" stop-color="#d42700"/><stop offset="0.6996" stop-color="#db4e00"/><stop offset="0.7026" stop-color="#dc6b00"/><stop offset="0.7037" stop-color="#da7c00"/><stop offset="0.7098" stop-color="#d69700"/><stop offset="0.7271" stop-color="#ceb300"/><stop offset="0.8147" stop-color="#c8c500"/><stop offset="1.0000" stop-color="#c8c500"/></linearGradient><linearGradient id="b1"><stop offset="0.0000" stop-color="#cdb600"/><stop offset="0.2719" stop-color="#ceb400"/><stop offset="0.2821" stop-color="#d2a500"/><stop offset="0.2862" stop-color="#d69500"/><stop offset="0.2902" stop-color="#dc7100"/><stop offset="0.2953" stop-color="#dc5900"/><stop offset="0.3024" stop-color="#d42800"/><stop offset="0.3055" stop-color="#c90907"/><stop offset="0.3065" stop-color="#ad0218"/><stop offset="0.3086" stop-color="#3c004f"/><stop offset="0.3096" stop-color="#0c0071"/><stop offset="0.3106" stop-color="#030184"/><stop offset="0.3126" stop-color="#0003a4"/><stop offset="0.3157" stop-color="#0011c1"/><stop offset="0.3177" stop-color="#0027ce"/><stop offset="0.3218" stop-color="#0059d1"/><stop offset="0.3269" stop-color="#008bcc"/><stop offset="0.3299" stop-color="#009ccb"/><stop offset="0.3564" stop-color="#00b6c3"/><stop offset="0.4053" stop-color="#00bec0"/><stop offset="0.5774" stop-color="#00bbc1"/><stop offset="0.6202" stop-color="#00afc5"/><stop offset="0.6538" stop-color="#009ccb"/><stop offset="0.6650" stop-color="#0076ce"/><stop offset="0.6741" stop-color="#0033d0"/><stop offset="0.6782" stop-color="#0014c6"/><stop offset="0.6802" stop-color="#000bb9"/><stop offset="0.6813" stop-color="#0006ad"/><stop offset="0.6823" stop-color="#010299"/><stop offset="0.6833" stop-color="#04007b"/><stop offset="0.6843" stop-color="#360052"/><stop offset="0.6853" stop-color="#6c0034"/><stop offset="0.6864" stop-color="#a7001b"/><stop offset="0.6874" stop-color="#c2070b"/><stop offset="0.6884" stop-color="#ce0d04"/><stop offset="0.6955" stop-color="#d63200"/><stop offset="0.7006" stop-color="#db4b00"/><stop offset="0.7037" stop-color="#dc6100"/><stop offset="0.7088" stop-color="#dc7300"/><stop offset="0.7138" stop-color="#d69700"/><stop offset="0.7261" stop-color="#ceb200"/><stop offset="0.8126" stop-color="#c8c500"/><stop offset="1.0000" stop-color="#c8c500"/></linearGradient><linearGradient id="b2"><stop offset="0.0000" stop-color="#cfaf00"/><stop offset="0.2709" stop-color="#d0ae00"/><stop offset="0.2821" stop-color="#d69500"/><stop offset="0.2872" stop-color="#dc6e00"/><stop offset="0.2953" stop-color="#dc5000"/><stop offset="0.3014" stop-color="#d52b00"/><stop offset="0.3045" stop-color="#cd0c05"/><stop offset="0.3055" stop-color="#b50413"/><stop offset="0.3065" stop-color="#8a0027"/><stop offset="0.3075" stop-color="#4f0044"/><stop offset="0.3086" stop-color="#210061"/><stop offset="0.3096" stop-color="#04007c"/><stop offset="0.3116" stop-color="#0002a0"/><stop offset="0.3147" stop-color="#000fbf"/><stop offset="0.3167" stop-color="#0020cc"/><stop offset="0.3208" stop-color="#004cd2"/><stop offset="0.3238" stop-color="#0069cf"/><stop offset="0.3299" stop-color="#009bcb"/><stop offset="0.3574" stop-color="#00b5c3"/><stop offset="0.4053" stop-color="#00bec0"/><stop offset="0.5774" stop-color="#00bbc1"/><stop offset="0.6171" stop-color="#00b0c5"/><stop offset="0.6527" stop-color="#009bcb"/><stop offset="0.6660" stop-color="#005fd0"/><stop offset="0.6741" stop-color="#002bcf"/><stop offset="0.6782" stop-color="#0012c3"/><stop offset="0.6802" stop-color="#0009b8"/><stop offset="0.6813" stop-color="#0005aa"/><stop offset="0.6823" stop-color="#010296"/><stop offset="0.6833" stop-color="#05007a"/><stop offset="0.6843" stop-color="#350053"/><stop offset="0.6853" stop-color="#630037"/><stop offset="0.6864" stop-color="#9a0020"/><stop offset="0.6874" stop-color="#b90510"/><stop offset="0.6884" stop-color="#cd0b05"/><stop offset="0.6965" stop-color="#d63100"/><stop offset="0.7047" stop-color="#dc5400"/><stop offset="0.7118" stop-color="#dc7300"/><stop offset="0.7149" stop-color="#d79100"/><stop offset="0.7179" stop-color="#d49d00"/><stop offset="0.7261" stop-color="#ceb200"/><stop offset="0.8086" stop-color="#c8c400"/><stop offset="1.0000" stop-color="#c8c400"/></linearGradient><linearGradient id="b3"><stop offset="0.0000" stop-color="#d1a700"/><stop offset="0.2719" stop-color="#d2a400"/><stop offset="0.2800" stop-color="#d69600"/><stop offset="0.2851" stop-color="#dc6e00"/><stop offset="0.2963" stop-color="#da4300"/><stop offset="0.3004" stop-color="#d52d00"/><stop offset="0.3035" stop-color="#ce0e04"/><stop offset="0.3045" stop-color="#be060e"/><stop offset="0.3055" stop-color="#a0001e"/><stop offset="0.3065" stop-color="#650037"/><stop offset="0.3086" stop-color="#090073"/><stop offset="0.3106" stop-color="#00029a"/><stop offset="0.3136" stop-color="#000cbb"/><stop offset="0.3167" stop-color="#0025cd"/><stop offset="0.3218" stop-color="#0056d1"/><stop offset="0.3299" stop-color="#0095cc"/><stop offset="0.3350" stop-color="#00a0ca"/><stop offset="0.3605" stop-color="#00b6c3"/><stop offset="0.4063" stop-color="#00bec0"/><stop offset="0.5774" stop-color="#00bbc1"/><stop offset="0.6151" stop-color="#00b1c5"/><stop offset="0.6497" stop-color="#009acb"/><stop offset="0.6538" stop-color="#0090cc"/><stop offset="0.6670" stop-color="#0050d1"/><stop offset="0.6741" stop-color="#0028ce"/><stop offset="0.6782" stop-color="#0011c1"/><stop offset="0.6802" stop-color="#0009b7"/><stop offset="0.6813" stop-color="#0005a8"/><stop offset="0.6823" stop-color="#010294"/><stop offset="0.6833" stop-color="#050079"/><stop offset="0.6843" stop-color="#340054"/><stop offset="0.6853" stop-color="#60003a"/><stop offset="0.6864" stop-color="#920024"/><stop offset="0.6874" stop-color="#b40413"/><stop offset="0.6884" stop-color="#cb0a06"/><stop offset="0.6955" stop-color="#d52900"/><stop offset="0.7118" stop-color="#dc6a00"/><stop offset="0.7138" stop-color="#db7700"/><stop offset="0.7169" stop-color="#d79200"/><stop offset="0.7240" stop-color="#d1a800"/><stop offset="0.7475" stop-color="#cdb800"/><stop offset="0.8228" stop-color="#c8c400"/><stop offset="1.0000" stop-color="#c8c400"/></linearGradient><linearGradient id="b4"><stop offset="0.0000" stop-color="#d49e00"/><stop offset="0.2729" stop-color="#d49c00"/><stop offset="0.2790" stop-color="#d69700"/><stop offset="0.2800" stop-color="#d69300"/><stop offset="0.2841" stop-color="#dc6e00"/><stop offset="0.2984" stop-color="#d73500"/><stop offset="0.3004" stop-color="#d42500"/><stop offset="0.3024" stop-color="#cf1003"/><stop offset="0.3035" stop-color="#c4080a"/><stop offset="0.3045" stop-color="#ab0119"/><stop offset="0.3065" stop-color="#480048"/><stop offset="0.3075" stop-color="#1d0064"/><stop offset="0.3086" stop-color="#04007f"/><stop offset="0.3106" stop-color="#0003a3"/><stop offset="0.3136" stop-color="#0010c0"/><stop offset="0.3157" stop-color="#001fcb"/><stop offset="0.3198" stop-color="#0043d2"/><stop offset="0.3238" stop-color="#0065d0"/><stop offset="0.3310" stop-color="#0092cc"/><stop offset="0.3330" stop-color="#009ccb"/><stop offset="0.3605" stop-color="#00b6c3"/><stop offset="0.4084" stop-color="#00bec0"/><stop offset="0.5774" stop-color="#00bbc1"/><stop offset="0.6141" stop-color="#00b1c5"/><stop offset="0.6487" stop-color="#0099cb"/><stop offset="0.6548" stop-color="#0082cd"/><stop offset="0.6660" stop-color="#0052d1"/><stop offset="0.6741" stop-color="#0025cd"/><stop offset="0.6782" stop-color="#0010c0"/><stop offset="0.6802" stop-color="#0008b6"/><stop offset="0.6813" stop-color="#0004a7"/><stop offset="0.6823" stop-color="#010193"/><stop offset="0.6833" stop-color="#050079"/><stop offset="0.6843" stop-color="#330054"/><stop offset="0.6853" stop-color="#5d003b"/><stop offset="0.6864" stop-color="#8d0026"/><stop offset="0.6874" stop-color="#b10315"/><stop offset="0.6884" stop-color="#c70908"/><stop offset="0.6894" stop-color="#ce0d04"/><stop offset="0.6996" stop-color="#d73600"/><stop offset="0.7149" stop-color="#dc7000"/><stop offset="0.7200" stop-color="#d69700"/><stop offset="0.7281" stop-color="#d2a500"/><stop offset="0.7536" stop-color="#cdb800"/><stop offset="0.8208" stop-color="#c8c400"/><stop offset="1.0000" stop-color="#c8c400"/></linearGradient><linearGradient id="b5"><stop offset="0.0000" stop-color="#d69500"/><stop offset="0.2780" stop-color="#d79200"/><stop offset="0.2790" stop-color="#d79200"/><stop offset="0.2800" stop-color="#d88c00"/><stop offset="0.2831" stop-color="#dc6e00"/><stop offset="0.2974" stop-color="#d73400"/><stop offset="0.2994" stop-color="#d52900"/><stop offset="0.3014" stop-color="#cf1203"/><stop offset="0.3024" stop-color="#c70908"/><stop offset="0.3035" stop-color="#af0316"/><stop offset="0.3045" stop-color="#880028"/><stop offset="0.3055" stop-color="#57003f"/><stop offset="0.3065" stop-color="#2b005a"/><stop offset="0.3075" stop-color="#050077"/><stop offset="0.3096" stop-color="#00029f"/><stop offset="0.3116" stop-color="#0008b6"/><stop offset="0.3147" stop-color="#001aca"/><stop offset="0.3177" stop-color="#0034d1"/><stop offset="0.3238" stop-color="#0063d0"/><stop offset="0.3320" stop-color="#0094cc"/><stop offset="0.3330" stop-color="#009acb"/><stop offset="0.3615" stop-color="#00b5c3"/><stop offset="0.4073" stop-color="#00bec0"/><stop offset="0.5774" stop-color="#00bbc1"/><stop offset="0.6130" stop-color="#00b2c5"/><stop offset="0.6477" stop-color="#009acb"/><stop offset="0.6609" stop-color="#0065d0"/><stop offset="0.6721" stop-color="#002fd0"/><stop offset="0.6772" stop-color="#0013c4"/><stop offset="0.6802" stop-color="#0008b6"/><stop offset="0.6823" stop-color="#020192"/><stop offset="0.6833" stop-color="#050078"/><stop offset="0.6843" stop-color="#330054"/><stop offset="0.6853" stop-color="#5b003c"/><stop offset="0.6864" stop-color="#890028"/><stop offset="0.6874" stop-color="#ae0217"/><stop offset="0.6884" stop-color="#c4080a"/><stop offset="0.6894" stop-color="#ce0c04"/><stop offset="0.6986" stop-color="#d63100"/><stop offset="0.7159" stop-color="#dc6e00"/><stop offset="0.7189" stop-color="#d98400"/><stop offset="0.7210" stop-color="#d69500"/><stop offset="0.7515" stop-color="#ceb500"/><stop offset="0.7912" stop-color="#cabf00"/><stop offset="0.8483" stop-color="#c9c300"/><stop offset="1.0000" stop-color="#c9c300"/></linearGradient><linearGradient id="b6"><stop offset="0.0000" stop-color="#da8000"/><stop offset="0.2790" stop-color="#da7e00"/><stop offset="0.2821" stop-color="#dc6a00"/><stop offset="0.2953" stop-color="#d73400"/><stop offset="0.2984" stop-color="#d42700"/><stop offset="0.3014" stop-color="#cc0a05"/><stop offset="0.3024" stop-color="#b10315"/><stop offset="0.3035" stop-color="#8f0025"/><stop offset="0.3045" stop-color="#5f003a"/><stop offset="0.3055" stop-color="#350053"/><stop offset="0.3065" stop-color="#080073"/><stop offset="0.3086" stop-color="#01029a"/><stop offset="0.3116" stop-color="#000bba"/><stop offset="0.3147" stop-color="#001ecb"/><stop offset="0.3187" stop-color="#003dd1"/><stop offset="0.3248" stop-color="#0067cf"/><stop offset="0.3320" stop-color="#008fcc"/><stop offset="0.3340" stop-color="#0098cb"/><stop offset="0.3534" stop-color="#00afc6"/><stop offset="0.3798" stop-color="#00bac1"/><stop offset="0.4267" stop-color="#00bec0"/><stop offset="0.5784" stop-color="#00bbc1"/><stop offset="0.6130" stop-color="#00b1c5"/><stop offset="0.6456" stop-color="#0099cb"/><stop offset="0.6487" stop-color="#0091cc"/><stop offset="0.6650" stop-color="#0050d1"/><stop offset="0.6731" stop-color="#0028ce"/><stop offset="0.6772" stop-color="#0013c4"/><stop offset="0.6802" stop-color="#0008b5"/><stop offset="0.6813" stop-color="#0004a6"/><stop offset="0.6823" stop-color="#020191"/><stop offset="0.6833" stop-color="#050078"/><stop offset="0.6843" stop-color="#330055"/><stop offset="0.6853" stop-color="#5a003d"/><stop offset="0.6864" stop-color="#860029"/><stop offset="0.6874" stop-color="#ac0218"/><stop offset="0.6884" stop-color="#c1070c"/><stop offset="0.6894" stop-color="#cd0c05"/><stop offset="0.6996" stop-color="#d73300"/><stop offset="0.7169" stop-color="#dc6d00"/><stop offset="0.7200" stop-color="#d98300"/><stop offset="0.7220" stop-color="#d78f00"/><stop offset="0.7271" stop-color="#d59b00"/><stop offset="0.7536" stop-color="#ceb400"/><stop offset="0.7933" stop-color="#cabe00"/><stop offset="0.8442" stop-color="#c9c300"/><stop offset="1.0000" stop-color="#c9c300"/></linearGradient><linearGradient id="b7"><stop offset="0.0000" stop-color="#dc6e00"/><stop offset="0.2790" stop-color="#dc6d00"/><stop offset="0.2953" stop-color="#d52d00"/><stop offset="0.2994" stop-color="#d01502"/><stop offset="0.3004" stop-color="#cd0b05"/><stop offset="0.3014" stop-color="#b40413"/><stop offset="0.3024" stop-color="#910024"/><stop offset="0.3035" stop-color="#620038"/><stop offset="0.3045" stop-color="#3b0050"/><stop offset="0.3055" stop-color="#11006d"/><stop offset="0.3065" stop-color="#030186"/><stop offset="0.3075" stop-color="#010298"/><stop offset="0.3106" stop-color="#0009b8"/><stop offset="0.3147" stop-color="#0021cc"/><stop offset="0.3198" stop-color="#0044d2"/><stop offset="0.3259" stop-color="#006acf"/><stop offset="0.3340" stop-color="#0093cc"/><stop offset="0.3411" stop-color="#00a1c9"/><stop offset="0.3656" stop-color="#00b5c3"/><stop offset="0.4094" stop-color="#00bec0"/><stop offset="0.5774" stop-color="#00bbc1"/><stop offset="0.6120" stop-color="#00b2c5"/><stop offset="0.6436" stop-color="#0099cb"/><stop offset="0.6487" stop-color="#008ccc"/><stop offset="0.6650" stop-color="#004dd1"/><stop offset="0.6731" stop-color="#0027ce"/><stop offset="0.6772" stop-color="#0012c3"/><stop offset="0.6802" stop-color="#0008b4"/><stop offset="0.6813" stop-color="#0004a5"/><stop offset="0.6833" stop-color="#050078"/><stop offset="0.6843" stop-color="#320055"/><stop offset="0.6864" stop-color="#84002a"/><stop offset="0.6874" stop-color="#aa0119"/><stop offset="0.6884" stop-color="#bf070d"/><stop offset="0.6894" stop-color="#cd0b05"/><stop offset="0.6996" stop-color="#d63200"/><stop offset="0.7179" stop-color="#dc6e00"/><stop offset="0.7220" stop-color="#d88700"/><stop offset="0.7271" stop-color="#d59900"/><stop offset="0.7566" stop-color="#ceb500"/><stop offset="0.8218" stop-color="#c9c200"/><stop offset="1.0000" stop-color="#c9c200"/></linearGradient><linearGradient id="b8"><stop offset="0.0000" stop-color="#dc6500"/><stop offset="0.2790" stop-color="#dc6400"/><stop offset="0.2963" stop-color="#d31f00"/><stop offset="0.2994" stop-color="#cd0b05"/><stop offset="0.3004" stop-color="#b60412"/><stop offset="0.3014" stop-color="#930023"/><stop offset="0.3024" stop-color="#620038"/><stop offset="0.3045" stop-color="#15006a"/><stop offset="0.3055" stop-color="#030183"/><stop offset="0.3065" stop-color="#010297"/><stop offset="0.3086" stop-color="#0006ae"/><stop offset="0.3116" stop-color="#0011c2"/><stop offset="0.3157" stop-color="#002bcf"/><stop offset="0.3248" stop-color="#0063d0"/><stop offset="0.3350" stop-color="#0092cc"/><stop offset="0.3401" stop-color="#009fca"/><stop offset="0.3676" stop-color="#00b6c3"/><stop offset="0.4124" stop-color="#00bec0"/><stop offset="0.5774" stop-color="#00bbc1"/><stop offset="0.6110" stop-color="#00b2c4"/><stop offset="0.6426" stop-color="#0099cb"/><stop offset="0.6497" stop-color="#0084cd"/><stop offset="0.6629" stop-color="#0055d1"/><stop offset="0.6731" stop-color="#0025cd"/><stop offset="0.6772" stop-color="#0012c2"/><stop offset="0.6802" stop-color="#0007b3"/><stop offset="0.6813" stop-color="#0004a4"/><stop offset="0.6833" stop-color="#050077"/><stop offset="0.6843" stop-color="#320055"/><stop offset="0.6864" stop-color="#81002b"/><stop offset="0.6874" stop-color="#a9011a"/><stop offset="0.6894" stop-color="#cd0b05"/><stop offset="0.6996" stop-color="#d63100"/><stop offset="0.7179" stop-color="#dc6a00"/><stop offset="0.7200" stop-color="#dc7200"/><stop offset="0.7261" stop-color="#d69300"/><stop offset="0.7312" stop-color="#d49c00"/><stop offset="0.7627" stop-color="#cdb700"/><stop offset="0.8320" stop-color="#c9c200"/><stop offset="1.0000" stop-color="#c9c200"/></linearGradient><linearGradient id="b9"><stop offset="0.0000" stop-color="#dc5c00"/><stop offset="0.2790" stop-color="#dc5a00"/><stop offset="0.2933" stop-color="#d42400"/><stop offset="0.2984" stop-color="#cb0906"/><stop offset="0.2994" stop-color="#b50413"/><stop offset="0.3004" stop-color="#940023"/><stop offset="0.3014" stop-color="#600039"/><stop offset="0.3035" stop-color="#15006a"/><stop offset="0.3045" stop-color="#040182"/><stop offset="0.3065" stop-color="#0004a4"/><stop offset="0.3086" stop-color="#0008b6"/><stop offset="0.3126" stop-color="#001ac9"/><stop offset="0.3177" stop-color="#0039d1"/><stop offset="0.3259" stop-color="#0066d0"/><stop offset="0.3381" stop-color="#009bcb"/><stop offset="0.3666" stop-color="#00b5c3"/><stop offset="0.4114" stop-color="#00bec0"/><stop offset="0.5774" stop-color="#00bbc1"/><stop offset="0.6110" stop-color="#00b2c4"/><stop offset="0.6415" stop-color="#009acb"/><stop offset="0.6619" stop-color="#0056d1"/><stop offset="0.6721" stop-color="#0029cf"/><stop offset="0.6772" stop-color="#0011c2"/><stop offset="0.6802" stop-color="#0007b2"/><stop offset="0.6813" stop-color="#0003a4"/><stop offset="0.6833" stop-color="#050077"/><stop offset="0.6843" stop-color="#320055"/><stop offset="0.6864" stop-color="#7f002c"/><stop offset="0.6874" stop-color="#a7011b"/><stop offset="0.6894" stop-color="#cd0a05"/><stop offset="0.6996" stop-color="#d63000"/><stop offset="0.7179" stop-color="#dc6700"/><stop offset="0.7220" stop-color="#db7700"/><stop offset="0.7281" stop-color="#d69800"/><stop offset="0.7637" stop-color="#cdb600"/><stop offset="0.8310" stop-color="#c9c100"/><stop offset="1.0000" stop-color="#c9c100"/></linearGradient><linearGradient id="b10"><stop offset="0.0000" stop-color="#dc5300"/><stop offset="0.2790" stop-color="#dc5100"/><stop offset="0.2902" stop-color="#d52a00"/><stop offset="0.2963" stop-color="#ce0e04"/><stop offset="0.2974" stop-color="#c60809"/><stop offset="0.2984" stop-color="#b10315"/><stop offset="0.2994" stop-color="#8f0025"/><stop offset="0.3004" stop-color="#5f003a"/><stop offset="0.3024" stop-color="#11006d"/><stop offset="0.3035" stop-color="#030182"/><stop offset="0.3055" stop-color="#0003a3"/><stop offset="0.3075" stop-color="#0009b7"/><stop offset="0.3126" stop-color="#001ecb"/><stop offset="0.3198" stop-color="#0045d2"/><stop offset="0.3269" stop-color="#0068cf"/><stop offset="0.3391" stop-color="#009ccb"/><stop offset="0.3697" stop-color="#00b6c3"/><stop offset="0.4134" stop-color="#00bec0"/><stop offset="0.5774" stop-color="#00bbc1"/><stop offset="0.6100" stop-color="#00b3c4"/><stop offset="0.6415" stop-color="#0098cb"/><stop offset="0.6578" stop-color="#0063d0"/><stop offset="0.6711" stop-color="#002dd0"/><stop offset="0.6762" stop-color="#0014c5"/><stop offset="0.6802" stop-color="#0007b1"/><stop offset="0.6813" stop-color="#0003a3"/><stop offset="0.6833" stop-color="#050077"/><stop offset="0.6843" stop-color="#310055"/><stop offset="0.6864" stop-color="#7c002d"/><stop offset="0.6874" stop-color="#a6001c"/><stop offset="0.6894" stop-color="#cc0a06"/><stop offset="0.6986" stop-color="#d52b00"/><stop offset="0.7179" stop-color="#dc6400"/><stop offset="0.7230" stop-color="#db7500"/><stop offset="0.7281" stop-color="#d69600"/><stop offset="0.7637" stop-color="#ceb500"/><stop offset="0.8299" stop-color="#c9c100"/><stop offset="1.0000" stop-color="#c9c100"/></linearGradient><linearGradient id="b11"><stop offset="0.0000" stop-color="#db4a00"/><stop offset="0.2790" stop-color="#da4900"/><stop offset="0.2892" stop-color="#d42600"/><stop offset="0.2953" stop-color="#cc0a05"/><stop offset="0.2974" stop-color="#af0316"/><stop offset="0.2984" stop-color="#8e0026"/><stop offset="0.2994" stop-color="#610039"/><stop offset="0.3004" stop-color="#3a0050"/><stop offset="0.3014" stop-color="#11006d"/><stop offset="0.3024" stop-color="#040182"/><stop offset="0.3045" stop-color="#0003a2"/><stop offset="0.3065" stop-color="#0008b5"/><stop offset="0.3116" stop-color="#001bca"/><stop offset="0.3187" stop-color="#0040d1"/><stop offset="0.3269" stop-color="#0067cf"/><stop offset="0.3371" stop-color="#0091cc"/><stop offset="0.3411" stop-color="#009ccb"/><stop offset="0.3707" stop-color="#00b5c3"/><stop offset="0.4134" stop-color="#00bec0"/><stop offset="0.5774" stop-color="#00bbc1"/><stop offset="0.6100" stop-color="#00b2c4"/><stop offset="0.6405" stop-color="#0099cb"/><stop offset="0.6548" stop-color="#006bcf"/><stop offset="0.6619" stop-color="#0052d1"/><stop offset="0.6721" stop-color="#0027ce"/><stop offset="0.6772" stop-color="#0010c1"/><stop offset="0.6802" stop-color="#0007b1"/><stop offset="0.6813" stop-color="#0003a3"/><stop offset="0.6833" stop-color="#050077"/><stop offset="0.6843" stop-color="#310055"/><stop offset="0.6864" stop-color="#7a002e"/><stop offset="0.6874" stop-color="#a4001d"/><stop offset="0.6894" stop-color="#ca0906"/><stop offset="0.6976" stop-color="#d42600"/><stop offset="0.7179" stop-color="#dc6200"/><stop offset="0.7230" stop-color="#dc7000"/><stop offset="0.7281" stop-color="#d79100"/><stop offset="0.7363" stop-color="#d49d00"/><stop offset="0.7648" stop-color="#ceb400"/><stop offset="0.8289" stop-color="#cac000"/><stop offset="1.0000" stop-color="#cac000"/></linearGradient><linearGradient id="b12"><stop offset="0.0000" stop-color="#d94000"/><stop offset="0.2790" stop-color="#d93f00"/><stop offset="0.2882" stop-color="#d32100"/><stop offset="0.2933" stop-color="#cd0b05"/><stop offset="0.2963" stop-color="#a8011a"/><stop offset="0.2974" stop-color="#8a0027"/><stop offset="0.2984" stop-color="#600039"/><stop offset="0.3004" stop-color="#160069"/><stop offset="0.3014" stop-color="#040181"/><stop offset="0.3035" stop-color="#0003a2"/><stop offset="0.3065" stop-color="#000ab9"/><stop offset="0.3116" stop-color="#001dca"/><stop offset="0.3187" stop-color="#0040d2"/><stop offset="0.3269" stop-color="#0066d0"/><stop offset="0.3401" stop-color="#0097cb"/><stop offset="0.3534" stop-color="#00a7c8"/><stop offset="0.3768" stop-color="#00b7c3"/><stop offset="0.4175" stop-color="#00bec0"/><stop offset="0.5774" stop-color="#00bbc1"/><stop offset="0.6100" stop-color="#00b2c4"/><stop offset="0.6395" stop-color="#0098cb"/><stop offset="0.6609" stop-color="#0055d1"/><stop offset="0.6721" stop-color="#0026ce"/><stop offset="0.6772" stop-color="#0010c1"/><stop offset="0.6792" stop-color="#000ab8"/><stop offset="0.6802" stop-color="#0007b0"/><stop offset="0.6813" stop-color="#0003a2"/><stop offset="0.6833" stop-color="#050077"/><stop offset="0.6843" stop-color="#310056"/><stop offset="0.6864" stop-color="#79002e"/><stop offset="0.6874" stop-color="#a2001d"/><stop offset="0.6894" stop-color="#c90907"/><stop offset="0.6914" stop-color="#cf1003"/><stop offset="0.7026" stop-color="#d73500"/><stop offset="0.7230" stop-color="#dc6e00"/><stop offset="0.7291" stop-color="#d79000"/><stop offset="0.7332" stop-color="#d59900"/><stop offset="0.7658" stop-color="#ceb400"/><stop offset="0.8269" stop-color="#cabf00"/><stop offset="1.0000" stop-color="#cabf00"/></linearGradient><linearGradient id="b13"><stop offset="0.0000" stop-color="#d83700"/><stop offset="0.2800" stop-color="#d73500"/><stop offset="0.2902" stop-color="#cf1103"/><stop offset="0.2912" stop-color="#cd0c05"/><stop offset="0.2933" stop-color="#b80511"/><stop offset="0.2943" stop-color="#ab0119"/><stop offset="0.2953" stop-color="#950023"/><stop offset="0.2974" stop-color="#5b003c"/><stop offset="0.2994" stop-color="#160069"/><stop offset="0.3004" stop-color="#040080"/><stop offset="0.3024" stop-color="#0003a1"/><stop offset="0.3045" stop-color="#0007b2"/><stop offset="0.3106" stop-color="#001bca"/><stop offset="0.3187" stop-color="#0040d2"/><stop offset="0.3279" stop-color="#0068cf"/><stop offset="0.3422" stop-color="#009bcb"/><stop offset="0.3737" stop-color="#00b6c3"/><stop offset="0.4165" stop-color="#00bec0"/><stop offset="0.5774" stop-color="#00bbc1"/><stop offset="0.6090" stop-color="#00b3c4"/><stop offset="0.6385" stop-color="#0099cb"/><stop offset="0.6599" stop-color="#0057d1"/><stop offset="0.6721" stop-color="#0026cd"/><stop offset="0.6762" stop-color="#0013c4"/><stop offset="0.6792" stop-color="#000ab8"/><stop offset="0.6802" stop-color="#0006b0"/><stop offset="0.6813" stop-color="#0003a2"/><stop offset="0.6833" stop-color="#050076"/><stop offset="0.6843" stop-color="#310056"/><stop offset="0.6864" stop-color="#78002f"/><stop offset="0.6874" stop-color="#a0001e"/><stop offset="0.6894" stop-color="#c80908"/><stop offset="0.6904" stop-color="#ce0c04"/><stop offset="0.7016" stop-color="#d63200"/><stop offset="0.7220" stop-color="#dc6a00"/><stop offset="0.7251" stop-color="#db7400"/><stop offset="0.7312" stop-color="#d69600"/><stop offset="0.7668" stop-color="#ceb400"/><stop offset="0.8187" stop-color="#cabe00"/><stop offset="1.0000" stop-color="#cabe00"/></linearGradient><linearGradient id="b14"><stop offset="0.0000" stop-color="#d63100"/><stop offset="0.2800" stop-color="#d62f00"/><stop offset="0.2892" stop-color="#ce0d04"/><stop offset="0.2902" stop-color="#c90907"/><stop offset="0.2923" stop-color="#ae0217"/><stop offset="0.2933" stop-color="#9d001f"/><stop offset="0.2953" stop-color="#630037"/><stop offset="0.2974" stop-color="#320055"/><stop offset="0.2984" stop-color="#11006d"/><stop offset="0.2994" stop-color="#040181"/><stop offset="0.3014" stop-color="#0003a1"/><stop offset="0.3035" stop-color="#0008b4"/><stop offset="0.3096" stop-color="#0019c9"/><stop offset="0.3187" stop-color="#0041d2"/><stop offset="0.3279" stop-color="#0067cf"/><stop offset="0.3411" stop-color="#0095cc"/><stop offset="0.3452" stop-color="#009dca"/><stop offset="0.3758" stop-color="#00b6c3"/><stop offset="0.4165" stop-color="#00bec0"/><stop offset="0.5774" stop-color="#00bbc1"/><stop offset="0.6090" stop-color="#00b3c4"/><stop offset="0.6375" stop-color="#009bcb"/><stop offset="0.6538" stop-color="#0069cf"/><stop offset="0.6629" stop-color="#004ad2"/><stop offset="0.6721" stop-color="#0025cd"/><stop offset="0.6762" stop-color="#0013c4"/><stop offset="0.6792" stop-color="#000ab8"/><stop offset="0.6802" stop-color="#0006af"/><stop offset="0.6813" stop-color="#0003a2"/><stop offset="0.6833" stop-color="#050076"/><stop offset="0.6843" stop-color="#310056"/><stop offset="0.6864" stop-color="#76002f"/><stop offset="0.6874" stop-color="#9e001f"/><stop offset="0.6894" stop-color="#c60809"/><stop offset="0.6904" stop-color="#ce0c04"/><stop offset="0.7016" stop-color="#d63200"/><stop offset="0.7220" stop-color="#dc6800"/><stop offset="0.7261" stop-color="#db7500"/><stop offset="0.7322" stop-color="#d69700"/><stop offset="0.7678" stop-color="#ceb500"/><stop offset="0.8126" stop-color="#cbbc00"/><stop offset="1.0000" stop-color="#cbbd00"/></linearGradient><linearGradient id="b15"><stop offset="0.0000" stop-color="#d42700"/><stop offset="0.2800" stop-color="#d42600"/><stop offset="0.2872" stop-color="#ce0c04"/><stop offset="0.2892" stop-color="#be060e"/><stop offset="0.2912" stop-color="#a6001b"/><stop offset="0.2943" stop-color="#550040"/><stop offset="0.2963" stop-color="#25005e"/><stop offset="0.2974" stop-color="#0b0071"/><stop offset="0.2984" stop-color="#030182"/><stop offset="0.3004" stop-color="#0002a0"/><stop offset="0.3035" stop-color="#000ab8"/><stop offset="0.3106" stop-color="#001fcb"/><stop offset="0.3208" stop-color="#0049d2"/><stop offset="0.3289" stop-color="#0069cf"/><stop offset="0.3411" stop-color="#0092cc"/><stop offset="0.3462" stop-color="#009dca"/><stop offset="0.3768" stop-color="#00b6c3"/><stop offset="0.4175" stop-color="#00bec0"/><stop offset="0.5774" stop-color="#00bbc1"/><stop offset="0.6090" stop-color="#00b3c4"/><stop offset="0.6375" stop-color="#0099cb"/><stop offset="0.6527" stop-color="#006bcf"/><stop offset="0.6609" stop-color="#0051d1"/><stop offset="0.6721" stop-color="#0024cd"/><stop offset="0.6772" stop-color="#0010c0"/><stop offset="0.6792" stop-color="#0009b8"/><stop offset="0.6813" stop-color="#0003a1"/><stop offset="0.6833" stop-color="#050076"/><stop offset="0.6843" stop-color="#310056"/><stop offset="0.6864" stop-color="#750030"/><stop offset="0.6874" stop-color="#9d0020"/><stop offset="0.6894" stop-color="#c5080a"/><stop offset="0.6904" stop-color="#ce0c04"/><stop offset="0.7016" stop-color="#d63100"/><stop offset="0.7230" stop-color="#dc6900"/><stop offset="0.7271" stop-color="#db7800"/><stop offset="0.7322" stop-color="#d69500"/><stop offset="0.7668" stop-color="#ceb400"/><stop offset="0.8106" stop-color="#cbbc00"/><stop offset="1.0000" stop-color="#cbbc00"/></linearGradient><linearGradient id="b16"><stop offset="0.0000" stop-color="#d21d00"/><stop offset="0.2800" stop-color="#d21c00"/><stop offset="0.2851" stop-color="#cd0b05"/><stop offset="0.2892" stop-color="#a8011a"/><stop offset="0.2902" stop-color="#940023"/><stop offset="0.2933" stop-color="#480048"/><stop offset="0.2953" stop-color="#180068"/><stop offset="0.2963" stop-color="#050079"/><stop offset="0.2994" stop-color="#0003a1"/><stop offset="0.3035" stop-color="#000cbb"/><stop offset="0.3096" stop-color="#001ecb"/><stop offset="0.3198" stop-color="#0045d2"/><stop offset="0.3289" stop-color="#0068cf"/><stop offset="0.3452" stop-color="#009acb"/><stop offset="0.3768" stop-color="#00b5c3"/><stop offset="0.4175" stop-color="#00bec0"/><stop offset="0.5774" stop-color="#00bbc1"/><stop offset="0.6090" stop-color="#00b3c4"/><stop offset="0.6365" stop-color="#0099cb"/><stop offset="0.6538" stop-color="#0067cf"/><stop offset="0.6680" stop-color="#0035d1"/><stop offset="0.6752" stop-color="#0015c7"/><stop offset="0.6792" stop-color="#0009b8"/><stop offset="0.6813" stop-color="#0003a1"/><stop offset="0.6833" stop-color="#050076"/><stop offset="0.6843" stop-color="#310056"/><stop offset="0.6864" stop-color="#750030"/><stop offset="0.6874" stop-color="#9b0020"/><stop offset="0.6884" stop-color="#b20314"/><stop offset="0.6894" stop-color="#c4080a"/><stop offset="0.6904" stop-color="#cd0c05"/><stop offset="0.7016" stop-color="#d63100"/><stop offset="0.7230" stop-color="#dc6800"/><stop offset="0.7271" stop-color="#db7500"/><stop offset="0.7332" stop-color="#d69600"/><stop offset="0.7678" stop-color="#ceb400"/><stop offset="0.8126" stop-color="#cbbb00"/><stop offset="1.0000" stop-color="#cbbb00"/></linearGradient><linearGradient id="b17"><stop offset="0.0000" stop-color="#d01402"/><stop offset="0.2800" stop-color="#d01402"/><stop offset="0.2831" stop-color="#cd0a05"/><stop offset="0.2872" stop-color="#a6001c"/><stop offset="0.2902" stop-color="#640037"/><stop offset="0.2933" stop-color="#210061"/><stop offset="0.2943" stop-color="#090073"/><stop offset="0.2974" stop-color="#010299"/><stop offset="0.3004" stop-color="#0007b1"/><stop offset="0.3065" stop-color="#0015c7"/><stop offset="0.3167" stop-color="#003ad1"/><stop offset="0.3299" stop-color="#0069cf"/><stop offset="0.3473" stop-color="#009dcb"/><stop offset="0.3809" stop-color="#00b6c3"/><stop offset="0.4206" stop-color="#00bec0"/><stop offset="0.5774" stop-color="#00bbc1"/><stop offset="0.6090" stop-color="#00b3c4"/><stop offset="0.6365" stop-color="#0098cb"/><stop offset="0.6527" stop-color="#0069cf"/><stop offset="0.6619" stop-color="#004bd2"/><stop offset="0.6721" stop-color="#0023cd"/><stop offset="0.6772" stop-color="#000fbf"/><stop offset="0.6792" stop-color="#0009b8"/><stop offset="0.6813" stop-color="#0003a1"/><stop offset="0.6833" stop-color="#050076"/><stop offset="0.6843" stop-color="#310056"/><stop offset="0.6864" stop-color="#740030"/><stop offset="0.6874" stop-color="#9a0021"/><stop offset="0.6884" stop-color="#b20315"/><stop offset="0.6894" stop-color="#c3080b"/><stop offset="0.6904" stop-color="#cd0b05"/><stop offset="0.7016" stop-color="#d63000"/><stop offset="0.7230" stop-color="#dc6700"/><stop offset="0.7271" stop-color="#dc7200"/><stop offset="0.7332" stop-color="#d69400"/><stop offset="0.7678" stop-color="#ceb400"/><stop offset="0.8136" stop-color="#ccba00"/><stop offset="1.0000" stop-color="#ccba00"/></linearGradient><linearGradient id="b18"><stop offset="0.0000" stop-color="#cd0b05"/><stop offset="0.2811" stop-color="#cb0a06"/><stop offset="0.2851" stop-color="#a3001d"/><stop offset="0.2892" stop-color="#500043"/><stop offset="0.2912" stop-color="#29005b"/><stop offset="0.2923" stop-color="#12006d"/><stop offset="0.2933" stop-color="#04007c"/><stop offset="0.2963" stop-color="#00029e"/><stop offset="0.3004" stop-color="#0009b8"/><stop offset="0.3086" stop-color="#001ecb"/><stop offset="0.3198" stop-color="#0046d2"/><stop offset="0.3299" stop-color="#0068cf"/><stop offset="0.3473" stop-color="#009ccb"/><stop offset="0.3819" stop-color="#00b6c3"/><stop offset="0.4206" stop-color="#00bec0"/><stop offset="0.5774" stop-color="#00bbc1"/><stop offset="0.6090" stop-color="#00b3c4"/><stop offset="0.6354" stop-color="#009acb"/><stop offset="0.6517" stop-color="#006bcf"/><stop offset="0.6599" stop-color="#0052d1"/><stop offset="0.6711" stop-color="#0028ce"/><stop offset="0.6762" stop-color="#0012c3"/><stop offset="0.6792" stop-color="#0009b8"/><stop offset="0.6813" stop-color="#0003a1"/><stop offset="0.6833" stop-color="#050076"/><stop offset="0.6843" stop-color="#300056"/><stop offset="0.6864" stop-color="#730031"/><stop offset="0.6874" stop-color="#990021"/><stop offset="0.6884" stop-color="#b10315"/><stop offset="0.6894" stop-color="#c2070b"/><stop offset="0.6904" stop-color="#cd0b05"/><stop offset="0.7026" stop-color="#d73200"/><stop offset="0.7240" stop-color="#dc6900"/><stop offset="0.7281" stop-color="#db7500"/><stop offset="0.7342" stop-color="#d69600"/><stop offset="0.7688" stop-color="#ceb400"/><stop offset="0.8157" stop-color="#ccba00"/><stop offset="1.0000" stop-color="#ccba00"/></linearGradient><linearGradient id="b19"><stop offset="0.0000" stop-color="#b50413"/><stop offset="0.2200" stop-color="#b80511"/><stop offset="0.2749" stop-color="#bc060f"/><stop offset="0.2800" stop-color="#b80511"/><stop offset="0.2821" stop-color="#ab0218"/><stop offset="0.2831" stop-color="#a1001e"/><stop offset="0.2872" stop-color="#540041"/><stop offset="0.2902" stop-color="#1d0064"/><stop offset="0.2912" stop-color="#080074"/><stop offset="0.2953" stop-color="#0002a0"/><stop offset="0.2994" stop-color="#000ab8"/><stop offset="0.3075" stop-color="#001dca"/><stop offset="0.3187" stop-color="#0043d2"/><stop offset="0.3299" stop-color="#0068cf"/><stop offset="0.3442" stop-color="#0091cc"/><stop offset="0.3493" stop-color="#009dcb"/><stop offset="0.3829" stop-color="#00b6c3"/><stop offset="0.4206" stop-color="#00bec0"/><stop offset="0.5774" stop-color="#00bbc1"/><stop offset="0.6079" stop-color="#00b3c4"/><stop offset="0.6354" stop-color="#0099cb"/><stop offset="0.6517" stop-color="#006acf"/><stop offset="0.6599" stop-color="#0051d1"/><stop offset="0.6711" stop-color="#0027ce"/><stop offset="0.6762" stop-color="#0012c3"/><stop offset="0.6792" stop-color="#0009b7"/><stop offset="0.6813" stop-color="#0003a0"/><stop offset="0.6833" stop-color="#050076"/><stop offset="0.6843" stop-color="#300056"/><stop offset="0.6864" stop-color="#720031"/><stop offset="0.6874" stop-color="#980021"/><stop offset="0.6884" stop-color="#b00315"/><stop offset="0.6894" stop-color="#c2070b"/><stop offset="0.6904" stop-color="#cd0b05"/><stop offset="0.7026" stop-color="#d63200"/><stop offset="0.7240" stop-color="#dc6800"/><stop offset="0.7281" stop-color="#dc7300"/><stop offset="0.7342" stop-color="#d69500"/><stop offset="0.7688" stop-color="#ceb300"/><stop offset="0.8167" stop-color="#ccb900"/><stop offset="1.0000" stop-color="#ccb900"/></linearGradient><linearGradient id="b20"><stop offset="0.0000" stop-color="#8c0027"/><stop offset="0.2128" stop-color="#8e0026"/><stop offset="0.2332" stop-color="#a6001c"/><stop offset="0.2760" stop-color="#a6001c"/><stop offset="0.2800" stop-color="#9a0021"/><stop offset="0.2811" stop-color="#910024"/><stop offset="0.2851" stop-color="#59003d"/><stop offset="0.2882" stop-color="#24005f"/><stop offset="0.2892" stop-color="#11006d"/><stop offset="0.2902" stop-color="#050079"/><stop offset="0.2943" stop-color="#0003a1"/><stop offset="0.2994" stop-color="#000bba"/><stop offset="0.3075" stop-color="#001ecb"/><stop offset="0.3198" stop-color="#0046d2"/><stop offset="0.3310" stop-color="#006acf"/><stop offset="0.3493" stop-color="#009ccb"/><stop offset="0.3839" stop-color="#00b6c3"/><stop offset="0.4216" stop-color="#00bec0"/><stop offset="0.5774" stop-color="#00bbc1"/><stop offset="0.6079" stop-color="#00b3c4"/><stop offset="0.6354" stop-color="#0098cb"/><stop offset="0.6517" stop-color="#006acf"/><stop offset="0.6599" stop-color="#0050d1"/><stop offset="0.6711" stop-color="#0027ce"/><stop offset="0.6762" stop-color="#0012c3"/><stop offset="0.6792" stop-color="#0009b7"/><stop offset="0.6813" stop-color="#0003a0"/><stop offset="0.6833" stop-color="#050076"/><stop offset="0.6843" stop-color="#300056"/><stop offset="0.6864" stop-color="#720031"/><stop offset="0.6874" stop-color="#970022"/><stop offset="0.6884" stop-color="#b00316"/><stop offset="0.6894" stop-color="#c1070c"/><stop offset="0.6904" stop-color="#cd0b05"/><stop offset="0.7026" stop-color="#d63200"/><stop offset="0.7240" stop-color="#dc6700"/><stop offset="0.7281" stop-color="#dc7100"/><stop offset="0.7352" stop-color="#d69600"/><stop offset="0.7688" stop-color="#ceb300"/><stop offset="0.8177" stop-color="#ccb900"/><stop offset="1.0000" stop-color="#ccb900"/></linearGradient><linearGradient id="b21"><stop offset="0.0000" stop-color="#520042"/><stop offset="0.2118" stop-color="#530041"/><stop offset="0.2332" stop-color="#79002e"/><stop offset="0.2739" stop-color="#7f002c"/><stop offset="0.2811" stop-color="#5f003a"/><stop offset="0.2841" stop-color="#470048"/><stop offset="0.2862" stop-color="#2a005b"/><stop offset="0.2882" stop-color="#050076"/><stop offset="0.2933" stop-color="#0003a3"/><stop offset="0.2974" stop-color="#0009b7"/><stop offset="0.3065" stop-color="#001dca"/><stop offset="0.3198" stop-color="#0047d2"/><stop offset="0.3320" stop-color="#006ccf"/><stop offset="0.3493" stop-color="#009ccb"/><stop offset="0.3849" stop-color="#00b6c3"/><stop offset="0.4216" stop-color="#00bec0"/><stop offset="0.5774" stop-color="#00bbc1"/><stop offset="0.6079" stop-color="#00b3c4"/><stop offset="0.6344" stop-color="#0099cb"/><stop offset="0.6507" stop-color="#006ccf"/><stop offset="0.6589" stop-color="#0054d1"/><stop offset="0.6711" stop-color="#0027ce"/><stop offset="0.6762" stop-color="#0012c2"/><stop offset="0.6792" stop-color="#0009b7"/><stop offset="0.6813" stop-color="#0003a0"/><stop offset="0.6833" stop-color="#060076"/><stop offset="0.6843" stop-color="#300056"/><stop offset="0.6864" stop-color="#710031"/><stop offset="0.6874" stop-color="#970022"/><stop offset="0.6884" stop-color="#b00316"/><stop offset="0.6904" stop-color="#cd0b05"/><stop offset="0.7026" stop-color="#d63200"/><stop offset="0.7240" stop-color="#dc6700"/><stop offset="0.7291" stop-color="#db7500"/><stop offset="0.7352" stop-color="#d69600"/><stop offset="0.7699" stop-color="#ceb300"/><stop offset="0.8198" stop-color="#ccb900"/><stop offset="1.0000" stop-color="#ccb900"/></linearGradient><linearGradient id="b22"><stop offset="0.0000" stop-color="#25005e"/><stop offset="0.2118" stop-color="#28005c"/><stop offset="0.2332" stop-color="#58003e"/><stop offset="0.2658" stop-color="#620038"/><stop offset="0.2749" stop-color="#5f003a"/><stop offset="0.2841" stop-color="#2d0058"/><stop offset="0.2851" stop-color="#210061"/><stop offset="0.2862" stop-color="#0f006f"/><stop offset="0.2872" stop-color="#04007a"/><stop offset="0.2912" stop-color="#00029e"/><stop offset="0.2963" stop-color="#0009b7"/><stop offset="0.3055" stop-color="#001bca"/><stop offset="0.3187" stop-color="#0044d2"/><stop offset="0.3320" stop-color="#006bcf"/><stop offset="0.3493" stop-color="#009bcb"/><stop offset="0.3859" stop-color="#00b6c3"/><stop offset="0.4216" stop-color="#00bec0"/><stop offset="0.5774" stop-color="#00bbc1"/><stop offset="0.6079" stop-color="#00b3c4"/><stop offset="0.6344" stop-color="#0099cb"/><stop offset="0.6507" stop-color="#006bcf"/><stop offset="0.6599" stop-color="#0050d1"/><stop offset="0.6711" stop-color="#0027ce"/><stop offset="0.6762" stop-color="#0012c2"/><stop offset="0.6792" stop-color="#0009b7"/><stop offset="0.6813" stop-color="#0003a0"/><stop offset="0.6833" stop-color="#060075"/><stop offset="0.6843" stop-color="#300056"/><stop offset="0.6864" stop-color="#710032"/><stop offset="0.6874" stop-color="#960022"/><stop offset="0.6884" stop-color="#af0316"/><stop offset="0.6904" stop-color="#cd0b05"/><stop offset="0.7026" stop-color="#d63100"/><stop offset="0.7240" stop-color="#dc6600"/><stop offset="0.7291" stop-color="#db7400"/><stop offset="0.7352" stop-color="#d69500"/><stop offset="0.7699" stop-color="#ceb300"/><stop offset="0.8208" stop-color="#ccb800"/><stop offset="1.0000" stop-color="#ccb800"/></linearGradient><linearGradient id="b23"><stop offset="0.0000" stop-color="#050078"/><stop offset="0.2118" stop-color="#070075"/><stop offset="0.2189" stop-color="#15006a"/><stop offset="0.2312" stop-color="#44004a"/><stop offset="0.2393" stop-color="#530041"/><stop offset="0.2505" stop-color="#5c003c"/><stop offset="0.2719" stop-color="#5d003b"/><stop offset="0.2749" stop-color="#57003f"/><stop offset="0.2811" stop-color="#330055"/><stop offset="0.2841" stop-color="#1c0065"/><stop offset="0.2862" stop-color="#050079"/><stop offset="0.2912" stop-color="#0003a2"/><stop offset="0.2963" stop-color="#000ab9"/><stop offset="0.3055" stop-color="#001cca"/><stop offset="0.3187" stop-color="#0044d2"/><stop offset="0.3330" stop-color="#006dcf"/><stop offset="0.3503" stop-color="#009ccb"/><stop offset="0.3859" stop-color="#00b6c3"/><stop offset="0.4216" stop-color="#00bec0"/><stop offset="0.5774" stop-color="#00bbc1"/><stop offset="0.6079" stop-color="#00b3c4"/><stop offset="0.6344" stop-color="#0098cb"/><stop offset="0.6507" stop-color="#006bcf"/><stop offset="0.6589" stop-color="#0053d1"/><stop offset="0.6711" stop-color="#0026ce"/><stop offset="0.6762" stop-color="#0012c2"/><stop offset="0.6792" stop-color="#0009b7"/><stop offset="0.6813" stop-color="#0003a0"/><stop offset="0.6833" stop-color="#060075"/><stop offset="0.6843" stop-color="#300056"/><stop offset="0.6864" stop-color="#710032"/><stop offset="0.6874" stop-color="#960022"/><stop offset="0.6884" stop-color="#af0316"/><stop offset="0.6904" stop-color="#cd0b05"/><stop offset="0.7026" stop-color="#d63100"/><stop offset="0.7251" stop-color="#dc6800"/><stop offset="0.7291" stop-color="#dc7300"/><stop offset="0.7352" stop-color="#d69400"/><stop offset="0.7699" stop-color="#ceb300"/><stop offset="0.8228" stop-color="#cdb800"/><stop offset="1.0000" stop-color="#cdb800"/></linearGradient><linearGradient id="b24"><stop offset="0.0000" stop-color="#030189"/><stop offset="0.2149" stop-color="#030183"/><stop offset="0.2200" stop-color="#04007c"/><stop offset="0.2220" stop-color="#050077"/><stop offset="0.2322" stop-color="#390051"/><stop offset="0.2373" stop-color="#490047"/><stop offset="0.2485" stop-color="#5b003c"/><stop offset="0.2709" stop-color="#5c003c"/><stop offset="0.2749" stop-color="#510042"/><stop offset="0.2790" stop-color="#3a0050"/><stop offset="0.2851" stop-color="#050079"/><stop offset="0.2902" stop-color="#0003a0"/><stop offset="0.2963" stop-color="#000bba"/><stop offset="0.3055" stop-color="#001dca"/><stop offset="0.3198" stop-color="#0047d2"/><stop offset="0.3330" stop-color="#006dcf"/><stop offset="0.3503" stop-color="#009ccb"/><stop offset="0.3870" stop-color="#00b6c3"/><stop offset="0.4216" stop-color="#00bec0"/><stop offset="0.5774" stop-color="#00bbc1"/><stop offset="0.6079" stop-color="#00b3c4"/><stop offset="0.6344" stop-color="#0098cb"/><stop offset="0.6507" stop-color="#006bcf"/><stop offset="0.6589" stop-color="#0053d1"/><stop offset="0.6711" stop-color="#0026ce"/><stop offset="0.6762" stop-color="#0012c2"/><stop offset="0.6792" stop-color="#0009b7"/><stop offset="0.6813" stop-color="#0002a0"/><stop offset="0.6833" stop-color="#060075"/><stop offset="0.6843" stop-color="#300056"/><stop offset="0.6864" stop-color="#710032"/><stop offset="0.6874" stop-color="#960022"/><stop offset="0.6884" stop-color="#af0216"/><stop offset="0.6904" stop-color="#cd0b05"/><stop offset="0.7026" stop-color="#d63100"/><stop offset="0.7251" stop-color="#dc6800"/><stop offset="0.7291" stop-color="#dc7200"/><stop offset="0.7363" stop-color="#d69700"/><stop offset="0.7699" stop-color="#ceb300"/><stop offset="0.8259" stop-color="#cdb800"/><stop offset="1.0000" stop-color="#cdb800"/></linearGradient><linearGradient id="b25"><stop offset="0.0000" stop-color="#00029a"/><stop offset="0.2169" stop-color="#020192"/><stop offset="0.2210" stop-color="#030189"/><stop offset="0.2261" stop-color="#050078"/><stop offset="0.2342" stop-color="#360053"/><stop offset="0.2383" stop-color="#44004a"/><stop offset="0.2475" stop-color="#5a003d"/><stop offset="0.2709" stop-color="#5a003d"/><stop offset="0.2770" stop-color="#41004c"/><stop offset="0.2790" stop-color="#330054"/><stop offset="0.2831" stop-color="#080074"/><stop offset="0.2902" stop-color="#0004a4"/><stop offset="0.2953" stop-color="#000ab9"/><stop offset="0.3055" stop-color="#001ecb"/><stop offset="0.3198" stop-color="#0047d2"/><stop offset="0.3340" stop-color="#006fcf"/><stop offset="0.3503" stop-color="#009ccb"/><stop offset="0.3880" stop-color="#00b6c3"/><stop offset="0.4216" stop-color="#00bec0"/><stop offset="0.5774" stop-color="#00bbc1"/><stop offset="0.6079" stop-color="#00b3c4"/><stop offset="0.6344" stop-color="#0097cb"/><stop offset="0.6507" stop-color="#006acf"/><stop offset="0.6589" stop-color="#0053d1"/><stop offset="0.6711" stop-color="#0026ce"/><stop offset="0.6762" stop-color="#0012c2"/><stop offset="0.6792" stop-color="#0009b7"/><stop offset="0.6813" stop-color="#0002a0"/><stop offset="0.6833" stop-color="#060075"/><stop offset="0.6843" stop-color="#300056"/><stop offset="0.6864" stop-color="#700032"/><stop offset="0.6874" stop-color="#950023"/><stop offset="0.6884" stop-color="#af0216"/><stop offset="0.6904" stop-color="#cd0b05"/><stop offset="0.7026" stop-color="#d63100"/><stop offset="0.7251" stop-color="#dc6800"/><stop offset="0.7291" stop-color="#dc7200"/><stop offset="0.7363" stop-color="#d69600"/><stop offset="0.7699" stop-color="#ceb300"/><stop offset="0.8289" stop-color="#cdb800"/><stop offset="1.0000" stop-color="#cdb800"/></linearGradient><linearGradient id="b26"><stop offset="0.0000" stop-color="#0004a6"/><stop offset="0.2189" stop-color="#00029f"/><stop offset="0.2291" stop-color="#050077"/><stop offset="0.2352" stop-color="#320055"/><stop offset="0.2475" stop-color="#5a003d"/><stop offset="0.2709" stop-color="#58003e"/><stop offset="0.2780" stop-color="#350053"/><stop offset="0.2800" stop-color="#200062"/><stop offset="0.2821" stop-color="#070075"/><stop offset="0.2892" stop-color="#0003a3"/><stop offset="0.2943" stop-color="#0009b8"/><stop offset="0.3045" stop-color="#001cca"/><stop offset="0.3198" stop-color="#0047d2"/><stop offset="0.3350" stop-color="#0071cf"/><stop offset="0.3503" stop-color="#009ccb"/><stop offset="0.3880" stop-color="#00b6c3"/><stop offset="0.4216" stop-color="#00bec0"/><stop offset="0.5774" stop-color="#00bbc1"/><stop offset="0.6079" stop-color="#00b3c4"/><stop offset="0.6334" stop-color="#009acb"/><stop offset="0.6507" stop-color="#006acf"/><stop offset="0.6589" stop-color="#0052d1"/><stop offset="0.6711" stop-color="#0026ce"/><stop offset="0.6762" stop-color="#0011c2"/><stop offset="0.6792" stop-color="#0009b7"/><stop offset="0.6813" stop-color="#0002a0"/><stop offset="0.6833" stop-color="#060075"/><stop offset="0.6843" stop-color="#300056"/><stop offset="0.6864" stop-color="#700032"/><stop offset="0.6874" stop-color="#950023"/><stop offset="0.6884" stop-color="#af0216"/><stop offset="0.6904" stop-color="#cd0b05"/><stop offset="0.7026" stop-color="#d63100"/><stop offset="0.7251" stop-color="#dc6700"/><stop offset="0.7301" stop-color="#db7700"/><stop offset="0.7363" stop-color="#d69600"/><stop offset="0.7699" stop-color="#ceb300"/><stop offset="0.8320" stop-color="#cdb700"/><stop offset="1.0000" stop-color="#cdb700"/></linearGradient><linearGradient id="b27"><stop offset="0.0000" stop-color="#0006ac"/><stop offset="0.2189" stop-color="#0004a5"/><stop offset="0.2251" stop-color="#02018f"/><stop offset="0.2301" stop-color="#050079"/><stop offset="0.2322" stop-color="#11006d"/><stop offset="0.2363" stop-color="#320055"/><stop offset="0.2475" stop-color="#59003d"/><stop offset="0.2709" stop-color="#57003f"/><stop offset="0.2780" stop-color="#320055"/><stop offset="0.2800" stop-color="#1b0066"/><stop offset="0.2811" stop-color="#0d0070"/><stop offset="0.2821" stop-color="#050079"/><stop offset="0.2882" stop-color="#0003a1"/><stop offset="0.2943" stop-color="#000ab9"/><stop offset="0.3045" stop-color="#001dca"/><stop offset="0.3198" stop-color="#0047d2"/><stop offset="0.3350" stop-color="#0071cf"/><stop offset="0.3503" stop-color="#009ccb"/><stop offset="0.3890" stop-color="#00b7c3"/><stop offset="0.4216" stop-color="#00bec0"/><stop offset="0.5774" stop-color="#00bbc1"/><stop offset="0.6079" stop-color="#00b3c4"/><stop offset="0.6334" stop-color="#009acb"/><stop offset="0.6507" stop-color="#006acf"/><stop offset="0.6589" stop-color="#0052d1"/><stop offset="0.6711" stop-color="#0026ce"/><stop offset="0.6762" stop-color="#0011c2"/><stop offset="0.6792" stop-color="#0009b7"/><stop offset="0.6813" stop-color="#0002a0"/><stop offset="0.6833" stop-color="#060075"/><stop offset="0.6843" stop-color="#300056"/><stop offset="0.6864" stop-color="#700032"/><stop offset="0.6874" stop-color="#950023"/><stop offset="0.6884" stop-color="#af0217"/><stop offset="0.6904" stop-color="#cd0b05"/><stop offset="0.7026" stop-color="#d63100"/><stop offset="0.7251" stop-color="#dc6700"/><stop offset="0.7291" stop-color="#dc7100"/><stop offset="0.7363" stop-color="#d69600"/><stop offset="0.7699" stop-color="#ceb300"/><stop offset="0.8350" stop-color="#cdb700"/><stop offset="1.0000" stop-color="#cdb700"/></linearGradient><linearGradient id="b28"><stop offset="0.0000" stop-color="#0004a5"/><stop offset="0.2189" stop-color="#00029e"/><stop offset="0.2291" stop-color="#050076"/><stop offset="0.2352" stop-color="#330055"/><stop offset="0.2475" stop-color="#5a003d"/><stop offset="0.2709" stop-color="#58003e"/><stop offset="0.2780" stop-color="#360053"/><stop offset="0.2800" stop-color="#210061"/><stop offset="0.2821" stop-color="#080074"/><stop offset="0.2892" stop-color="#0003a3"/><stop offset="0.2953" stop-color="#000bba"/><stop offset="0.3055" stop-color="#001fcb"/><stop offset="0.3208" stop-color="#004ad2"/><stop offset="0.3360" stop-color="#0074ce"/><stop offset="0.3503" stop-color="#009ccb"/><stop offset="0.3880" stop-color="#00b6c3"/><stop offset="0.4216" stop-color="#00bec0"/><stop offset="0.5774" stop-color="#00bbc1"/><stop offset="0.6079" stop-color="#00b3c4"/><stop offset="0.6344" stop-color="#0097cb"/><stop offset="0.6507" stop-color="#006acf"/><stop offset="0.6589" stop-color="#0052d1"/><stop offset="0.6711" stop-color="#0026ce"/><stop offset="0.6762" stop-color="#0011c2"/><stop offset="0.6792" stop-color="#0009b7"/><stop offset="0.6813" stop-color="#0002a0"/><stop offset="0.6833" stop-color="#060075"/><stop offset="0.6843" stop-color="#300056"/><stop offset="0.6864" stop-color="#700032"/><stop offset="0.6874" stop-color="#950023"/><stop offset="0.6884" stop-color="#af0216"/><stop offset="0.6904" stop-color="#cd0b05"/><stop offset="0.7026" stop-color="#d63100"/><stop offset="0.7251" stop-color="#dc6800"/><stop offset="0.7301" stop-color="#db7700"/><stop offset="0.7363" stop-color="#d69600"/><stop offset="0.7699" stop-color="#ceb300"/><stop offset="0.8320" stop-color="#cdb700"/><stop offset="1.0000" stop-color="#cdb700"/></linearGradient><linearGradient id="b29"><stop offset="0.0000" stop-color="#010299"/><stop offset="0.2159" stop-color="#020191"/><stop offset="0.2200" stop-color="#02018a"/><stop offset="0.2261" stop-color="#050076"/><stop offset="0.2342" stop-color="#370052"/><stop offset="0.2383" stop-color="#45004a"/><stop offset="0.2475" stop-color="#5a003d"/><stop offset="0.2709" stop-color="#5a003d"/><stop offset="0.2760" stop-color="#460049"/><stop offset="0.2790" stop-color="#340054"/><stop offset="0.2831" stop-color="#090073"/><stop offset="0.2862" stop-color="#030188"/><stop offset="0.2902" stop-color="#0003a4"/><stop offset="0.2953" stop-color="#000ab8"/><stop offset="0.3055" stop-color="#001ecb"/><stop offset="0.3198" stop-color="#0047d2"/><stop offset="0.3340" stop-color="#006fcf"/><stop offset="0.3503" stop-color="#009ccb"/><stop offset="0.3880" stop-color="#00b6c3"/><stop offset="0.4216" stop-color="#00bec0"/><stop offset="0.5774" stop-color="#00bbc1"/><stop offset="0.6079" stop-color="#00b3c4"/><stop offset="0.6344" stop-color="#0098cb"/><stop offset="0.6507" stop-color="#006bcf"/><stop offset="0.6589" stop-color="#0053d1"/><stop offset="0.6711" stop-color="#0026ce"/><stop offset="0.6762" stop-color="#0012c2"/><stop offset="0.6792" stop-color="#0009b7"/><stop offset="0.6813" stop-color="#0002a0"/><stop offset="0.6833" stop-color="#060075"/><stop offset="0.6843" stop-color="#300056"/><stop offset="0.6864" stop-color="#700032"/><stop offset="0.6874" stop-color="#950022"/><stop offset="0.6884" stop-color="#af0216"/><stop offset="0.6904" stop-color="#cd0b05"/><stop offset="0.7026" stop-color="#d63100"/><stop offset="0.7251" stop-color="#dc6800"/><stop offset="0.7291" stop-color="#dc7200"/><stop offset="0.7363" stop-color="#d69600"/><stop offset="0.7699" stop-color="#ceb300"/><stop offset="0.8279" stop-color="#cdb800"/><stop offset="1.0000" stop-color="#cdb800"/></linearGradient><linearGradient id="b30"><stop offset="0.0000" stop-color="#030187"/><stop offset="0.2149" stop-color="#040181"/><stop offset="0.2210" stop-color="#050078"/><stop offset="0.2251" stop-color="#170069"/><stop offset="0.2322" stop-color="#3a0050"/><stop offset="0.2383" stop-color="#4c0046"/><stop offset="0.2485" stop-color="#5b003c"/><stop offset="0.2709" stop-color="#5c003c"/><stop offset="0.2749" stop-color="#510042"/><stop offset="0.2790" stop-color="#3b0050"/><stop offset="0.2841" stop-color="#0e006f"/><stop offset="0.2851" stop-color="#050078"/><stop offset="0.2902" stop-color="#0003a0"/><stop offset="0.2963" stop-color="#000bba"/><stop offset="0.3055" stop-color="#001dca"/><stop offset="0.3198" stop-color="#0047d2"/><stop offset="0.3330" stop-color="#006dcf"/><stop offset="0.3503" stop-color="#009ccb"/><stop offset="0.3870" stop-color="#00b6c3"/><stop offset="0.4216" stop-color="#00bec0"/><stop offset="0.5774" stop-color="#00bbc1"/><stop offset="0.6079" stop-color="#00b3c4"/><stop offset="0.6344" stop-color="#0098cb"/><stop offset="0.6507" stop-color="#006bcf"/><stop offset="0.6589" stop-color="#0053d1"/><stop offset="0.6711" stop-color="#0026ce"/><stop offset="0.6762" stop-color="#0012c2"/><stop offset="0.6792" stop-color="#0009b7"/><stop offset="0.6813" stop-color="#0002a0"/><stop offset="0.6833" stop-color="#060075"/><stop offset="0.6843" stop-color="#300056"/><stop offset="0.6864" stop-color="#710032"/><stop offset="0.6874" stop-color="#960022"/><stop offset="0.6884" stop-color="#af0216"/><stop offset="0.6904" stop-color="#cd0b05"/><stop offset="0.7026" stop-color="#d63100"/><stop offset="0.7251" stop-color="#dc6800"/><stop offset="0.7291" stop-color="#dc7200"/><stop offset="0.7363" stop-color="#d69700"/><stop offset="0.7699" stop-color="#ceb300"/><stop offset="0.8248" stop-color="#cdb800"/><stop offset="1.0000" stop-color="#cdb800"/></linearGradient><linearGradient id="b31"><stop offset="0.0000" stop-color="#050076"/><stop offset="0.2118" stop-color="#0a0072"/><stop offset="0.2200" stop-color="#1c0065"/><stop offset="0.2322" stop-color="#480048"/><stop offset="0.2444" stop-color="#59003e"/><stop offset="0.2709" stop-color="#5e003b"/><stop offset="0.2749" stop-color="#57003f"/><stop offset="0.2811" stop-color="#340054"/><stop offset="0.2841" stop-color="#1e0064"/><stop offset="0.2862" stop-color="#050079"/><stop offset="0.2912" stop-color="#0003a2"/><stop offset="0.2963" stop-color="#000ab9"/><stop offset="0.3055" stop-color="#001cca"/><stop offset="0.3187" stop-color="#0044d2"/><stop offset="0.3330" stop-color="#006dcf"/><stop offset="0.3503" stop-color="#009ccb"/><stop offset="0.3859" stop-color="#00b6c3"/><stop offset="0.4216" stop-color="#00bec0"/><stop offset="0.5774" stop-color="#00bbc1"/><stop offset="0.6079" stop-color="#00b3c4"/><stop offset="0.6344" stop-color="#0098cb"/><stop offset="0.6507" stop-color="#006bcf"/><stop offset="0.6599" stop-color="#004fd1"/><stop offset="0.6711" stop-color="#0026ce"/><stop offset="0.6762" stop-color="#0012c2"/><stop offset="0.6792" stop-color="#0009b7"/><stop offset="0.6813" stop-color="#0003a0"/><stop offset="0.6833" stop-color="#060075"/><stop offset="0.6843" stop-color="#300056"/><stop offset="0.6864" stop-color="#710032"/><stop offset="0.6874" stop-color="#960022"/><stop offset="0.6884" stop-color="#af0316"/><stop offset="0.6904" stop-color="#cd0b05"/><stop offset="0.7026" stop-color="#d63100"/><stop offset="0.7251" stop-color="#dc6800"/><stop offset="0.7291" stop-color="#dc7300"/><stop offset="0.7352" stop-color="#d69500"/><stop offset="0.7699" stop-color="#ceb300"/><stop offset="0.8228" stop-color="#cdb800"/><stop offset="1.0000" stop-color="#cdb800"/></linearGradient><linearGradient id="b32"><stop offset="0.0000" stop-color="#29005b"/><stop offset="0.2118" stop-color="#2b0059"/><stop offset="0.2332" stop-color="#5a003d"/><stop offset="0.2699" stop-color="#640037"/><stop offset="0.2749" stop-color="#600039"/><stop offset="0.2841" stop-color="#2f0057"/><stop offset="0.2851" stop-color="#230060"/><stop offset="0.2862" stop-color="#11006d"/><stop offset="0.2872" stop-color="#050079"/><stop offset="0.2912" stop-color="#00029d"/><stop offset="0.2963" stop-color="#0009b7"/><stop offset="0.3055" stop-color="#001bca"/><stop offset="0.3187" stop-color="#0044d2"/><stop offset="0.3320" stop-color="#006bcf"/><stop offset="0.3493" stop-color="#009bcb"/><stop offset="0.3859" stop-color="#00b6c3"/><stop offset="0.4216" stop-color="#00bec0"/><stop offset="0.5774" stop-color="#00bbc1"/><stop offset="0.6079" stop-color="#00b3c4"/><stop offset="0.6344" stop-color="#0099cb"/><stop offset="0.6507" stop-color="#006bcf"/><stop offset="0.6589" stop-color="#0053d1"/><stop offset="0.6711" stop-color="#0027ce"/><stop offset="0.6762" stop-color="#0012c2"/><stop offset="0.6792" stop-color="#0009b7"/><stop offset="0.6813" stop-color="#0003a0"/><stop offset="0.6833" stop-color="#060076"/><stop offset="0.6843" stop-color="#300056"/><stop offset="0.6864" stop-color="#710032"/><stop offset="0.6874" stop-color="#960022"/><stop offset="0.6884" stop-color="#af0316"/><stop offset="0.6904" stop-color="#cd0b05"/><stop offset="0.7026" stop-color="#d63100"/><stop offset="0.7240" stop-color="#dc6600"/><stop offset="0.7291" stop-color="#db7400"/><stop offset="0.7352" stop-color="#d69500"/><stop offset="0.7699" stop-color="#ceb300"/><stop offset="0.8208" stop-color="#ccb900"/><stop offset="1.0000" stop-color="#ccb900"/></linearGradient><linearGradient id="b33"><stop offset="0.0000" stop-color="#57003f"/><stop offset="0.2118" stop-color="#58003e"/><stop offset="0.2332" stop-color="#7d002c"/><stop offset="0.2739" stop-color="#84002a"/><stop offset="0.2811" stop-color="#630038"/><stop offset="0.2841" stop-color="#4a0046"/><stop offset="0.2862" stop-color="#2d0058"/><stop offset="0.2882" stop-color="#080074"/><stop offset="0.2933" stop-color="#0003a2"/><stop offset="0.2974" stop-color="#0009b7"/><stop offset="0.3065" stop-color="#001dca"/><stop offset="0.3198" stop-color="#0047d2"/><stop offset="0.3320" stop-color="#006ccf"/><stop offset="0.3493" stop-color="#009ccb"/><stop offset="0.3849" stop-color="#00b6c3"/><stop offset="0.4216" stop-color="#00bec0"/><stop offset="0.5774" stop-color="#00bbc1"/><stop offset="0.6079" stop-color="#00b3c4"/><stop offset="0.6344" stop-color="#0099cb"/><stop offset="0.6507" stop-color="#006ccf"/><stop offset="0.6589" stop-color="#0054d1"/><stop offset="0.6711" stop-color="#0027ce"/><stop offset="0.6762" stop-color="#0012c2"/><stop offset="0.6792" stop-color="#0009b7"/><stop offset="0.6813" stop-color="#0003a0"/><stop offset="0.6833" stop-color="#060076"/><stop offset="0.6843" stop-color="#300056"/><stop offset="0.6864" stop-color="#710031"/><stop offset="0.6874" stop-color="#970022"/><stop offset="0.6884" stop-color="#b00316"/><stop offset="0.6904" stop-color="#cd0b05"/><stop offset="0.7026" stop-color="#d63200"/><stop offset="0.7240" stop-color="#dc6700"/><stop offset="0.7281" stop-color="#dc7000"/><stop offset="0.7352" stop-color="#d69600"/><stop offset="0.7699" stop-color="#ceb300"/><stop offset="0.8198" stop-color="#ccb900"/><stop offset="1.0000" stop-color="#ccb900"/></linearGradient><linearGradient id="b34"><stop offset="0.0000" stop-color="#920024"/><stop offset="0.2128" stop-color="#940023"/><stop offset="0.2312" stop-color="#a8011b"/><stop offset="0.2760" stop-color="#a8011a"/><stop offset="0.2800" stop-color="#9f001f"/><stop offset="0.2811" stop-color="#960022"/><stop offset="0.2851" stop-color="#5c003c"/><stop offset="0.2882" stop-color="#27005c"/><stop offset="0.2902" stop-color="#050078"/><stop offset="0.2943" stop-color="#0002a0"/><stop offset="0.2994" stop-color="#000bba"/><stop offset="0.3075" stop-color="#001ecb"/><stop offset="0.3198" stop-color="#0046d2"/><stop offset="0.3310" stop-color="#006acf"/><stop offset="0.3493" stop-color="#009ccb"/><stop offset="0.3839" stop-color="#00b6c3"/><stop offset="0.4216" stop-color="#00bec0"/><stop offset="0.5774" stop-color="#00bbc1"/><stop offset="0.6079" stop-color="#00b3c4"/><stop offset="0.6354" stop-color="#0098cb"/><stop offset="0.6517" stop-color="#006acf"/><stop offset="0.6599" stop-color="#0051d1"/><stop offset="0.6711" stop-color="#0027ce"/><stop offset="0.6762" stop-color="#0012c3"/><stop offset="0.6792" stop-color="#0009b7"/><stop offset="0.6813" stop-color="#0003a0"/><stop offset="0.6833" stop-color="#050076"/><stop offset="0.6843" stop-color="#300056"/><stop offset="0.6864" stop-color="#720031"/><stop offset="0.6874" stop-color="#970022"/><stop offset="0.6884" stop-color="#b00316"/><stop offset="0.6894" stop-color="#c1070c"/><stop offset="0.6904" stop-color="#cd0b05"/><stop offset="0.7026" stop-color="#d63200"/><stop offset="0.7240" stop-color="#dc6700"/><stop offset="0.7281" stop-color="#dc7100"/><stop offset="0.7352" stop-color="#d69600"/><stop offset="0.7688" stop-color="#ceb300"/><stop offset="0.8177" stop-color="#ccb900"/><stop offset="1.0000" stop-color="#ccb900"/></linearGradient><linearGradient id="b35"><stop offset="0.0000" stop-color="#b80511"/><stop offset="0.2210" stop-color="#ba0510"/><stop offset="0.2780" stop-color="#bc060f"/><stop offset="0.2800" stop-color="#bb0510"/><stop offset="0.2821" stop-color="#ae0217"/><stop offset="0.2831" stop-color="#a5001c"/><stop offset="0.2872" stop-color="#57003f"/><stop offset="0.2902" stop-color="#200062"/><stop offset="0.2912" stop-color="#0b0072"/><stop offset="0.2923" stop-color="#04007e"/><stop offset="0.2953" stop-color="#00029f"/><stop offset="0.2994" stop-color="#0009b8"/><stop offset="0.3075" stop-color="#001dca"/><stop offset="0.3187" stop-color="#0043d2"/><stop offset="0.3299" stop-color="#0068cf"/><stop offset="0.3442" stop-color="#0091cc"/><stop offset="0.3493" stop-color="#009dcb"/><stop offset="0.3829" stop-color="#00b6c3"/><stop offset="0.4206" stop-color="#00bec0"/><stop offset="0.5774" stop-color="#00bbc1"/><stop offset="0.6079" stop-color="#00b3c4"/><stop offset="0.6354" stop-color="#0099cb"/><stop offset="0.6517" stop-color="#006acf"/><stop offset="0.6599" stop-color="#0051d1"/><stop offset="0.6711" stop-color="#0027ce"/><stop offset="0.6762" stop-color="#0012c3"/><stop offset="0.6792" stop-color="#0009b7"/><stop offset="0.6813" stop-color="#0003a0"/><stop offset="0.6833" stop-color="#050076"/><stop offset="0.6843" stop-color="#300056"/><stop offset="0.6864" stop-color="#720031"/><stop offset="0.6874" stop-color="#980021"/><stop offset="0.6884" stop-color="#b00315"/><stop offset="0.6894" stop-color="#c2070b"/><stop offset="0.6904" stop-color="#cd0b05"/><stop offset="0.7026" stop-color="#d63200"/><stop offset="0.7240" stop-color="#dc6800"/><stop offset="0.7281" stop-color="#dc7300"/><stop offset="0.7342" stop-color="#d69500"/><stop offset="0.7688" stop-color="#ceb300"/><stop offset="0.8167" stop-color="#ccb900"/><stop offset="1.0000" stop-color="#ccb900"/></linearGradient><linearGradient id="b36"><stop offset="0.0000" stop-color="#ce0c04"/><stop offset="0.2811" stop-color="#cd0a05"/><stop offset="0.2851" stop-color="#a6001b"/><stop offset="0.2892" stop-color="#540041"/><stop offset="0.2912" stop-color="#2d0058"/><stop offset="0.2923" stop-color="#15006a"/><stop offset="0.2933" stop-color="#05007a"/><stop offset="0.2963" stop-color="#00029d"/><stop offset="0.3004" stop-color="#0009b7"/><stop offset="0.3086" stop-color="#001ecb"/><stop offset="0.3198" stop-color="#0046d2"/><stop offset="0.3299" stop-color="#0068cf"/><stop offset="0.3473" stop-color="#009ccb"/><stop offset="0.3819" stop-color="#00b6c3"/><stop offset="0.4206" stop-color="#00bec0"/><stop offset="0.5774" stop-color="#00bbc1"/><stop offset="0.6090" stop-color="#00b3c4"/><stop offset="0.6354" stop-color="#009acb"/><stop offset="0.6517" stop-color="#006bcf"/><stop offset="0.6599" stop-color="#0052d1"/><stop offset="0.6711" stop-color="#0028ce"/><stop offset="0.6762" stop-color="#0012c3"/><stop offset="0.6792" stop-color="#0009b8"/><stop offset="0.6813" stop-color="#0003a1"/><stop offset="0.6833" stop-color="#050076"/><stop offset="0.6843" stop-color="#300056"/><stop offset="0.6864" stop-color="#730031"/><stop offset="0.6874" stop-color="#990021"/><stop offset="0.6884" stop-color="#b10315"/><stop offset="0.6894" stop-color="#c3070b"/><stop offset="0.6904" stop-color="#cd0b05"/><stop offset="0.7026" stop-color="#d73200"/><stop offset="0.7240" stop-color="#dc6900"/><stop offset="0.7281" stop-color="#db7500"/><stop offset="0.7342" stop-color="#d69600"/><stop offset="0.7688" stop-color="#ceb400"/><stop offset="0.8157" stop-color="#ccba00"/><stop offset="1.0000" stop-color="#ccba00"/></linearGradient><linearGradient id="b37"><stop offset="0.0000" stop-color="#d01502"/><stop offset="0.2800" stop-color="#d01502"/><stop offset="0.2831" stop-color="#cd0b05"/><stop offset="0.2872" stop-color="#a8011a"/><stop offset="0.2892" stop-color="#80002b"/><stop offset="0.2923" stop-color="#3c004f"/><stop offset="0.2943" stop-color="#0d0070"/><stop offset="0.2953" stop-color="#04007e"/><stop offset="0.2984" stop-color="#0003a2"/><stop offset="0.3024" stop-color="#000bba"/><stop offset="0.3086" stop-color="#001cca"/><stop offset="0.3187" stop-color="#0042d2"/><stop offset="0.3299" stop-color="#0069cf"/><stop offset="0.3473" stop-color="#009dcb"/><stop offset="0.3798" stop-color="#00b6c3"/><stop offset="0.4206" stop-color="#00bec0"/><stop offset="0.5774" stop-color="#00bbc1"/><stop offset="0.6090" stop-color="#00b3c4"/><stop offset="0.6365" stop-color="#0098cb"/><stop offset="0.6527" stop-color="#0069cf"/><stop offset="0.6619" stop-color="#004bd2"/><stop offset="0.6721" stop-color="#0023cd"/><stop offset="0.6772" stop-color="#000fbf"/><stop offset="0.6792" stop-color="#0009b8"/><stop offset="0.6813" stop-color="#0003a1"/><stop offset="0.6833" stop-color="#050076"/><stop offset="0.6843" stop-color="#310056"/><stop offset="0.6864" stop-color="#740030"/><stop offset="0.6874" stop-color="#9a0020"/><stop offset="0.6884" stop-color="#b20315"/><stop offset="0.6894" stop-color="#c3080b"/><stop offset="0.6904" stop-color="#cd0b05"/><stop offset="0.7016" stop-color="#d63100"/><stop offset="0.7230" stop-color="#dc6700"/><stop offset="0.7271" stop-color="#dc7200"/><stop offset="0.7332" stop-color="#d69400"/><stop offset="0.7678" stop-color="#ceb400"/><stop offset="0.8136" stop-color="#ccba00"/><stop offset="1.0000" stop-color="#ccba00"/></linearGradient><linearGradient id="b38"><stop offset="0.0000" stop-color="#d21e00"/><stop offset="0.2800" stop-color="#d21d00"/><stop offset="0.2851" stop-color="#ce0c04"/><stop offset="0.2872" stop-color="#be060e"/><stop offset="0.2892" stop-color="#aa0119"/><stop offset="0.2902" stop-color="#980021"/><stop offset="0.2933" stop-color="#4c0046"/><stop offset="0.2953" stop-color="#1c0065"/><stop offset="0.2963" stop-color="#050077"/><stop offset="0.2994" stop-color="#0002a0"/><stop offset="0.3035" stop-color="#000cbb"/><stop offset="0.3096" stop-color="#001dcb"/><stop offset="0.3187" stop-color="#0041d2"/><stop offset="0.3289" stop-color="#0068cf"/><stop offset="0.3452" stop-color="#009bcb"/><stop offset="0.3768" stop-color="#00b5c3"/><stop offset="0.4175" stop-color="#00bec0"/><stop offset="0.5774" stop-color="#00bbc1"/><stop offset="0.6090" stop-color="#00b3c4"/><stop offset="0.6375" stop-color="#0097cb"/><stop offset="0.6527" stop-color="#006acf"/><stop offset="0.6609" stop-color="#0050d1"/><stop offset="0.6721" stop-color="#0024cd"/><stop offset="0.6772" stop-color="#000fc0"/><stop offset="0.6792" stop-color="#0009b8"/><stop offset="0.6813" stop-color="#0003a1"/><stop offset="0.6833" stop-color="#050076"/><stop offset="0.6843" stop-color="#310056"/><stop offset="0.6864" stop-color="#750030"/><stop offset="0.6874" stop-color="#9b0020"/><stop offset="0.6884" stop-color="#b20314"/><stop offset="0.6894" stop-color="#c4080a"/><stop offset="0.6904" stop-color="#cd0c05"/><stop offset="0.7016" stop-color="#d63100"/><stop offset="0.7230" stop-color="#dc6800"/><stop offset="0.7271" stop-color="#db7500"/><stop offset="0.7332" stop-color="#d69600"/><stop offset="0.7678" stop-color="#ceb400"/><stop offset="0.8126" stop-color="#cbbb00"/><stop offset="1.0000" stop-color="#cbbb00"/></linearGradient><linearGradient id="b39"><stop offset="0.0000" stop-color="#d42800"/><stop offset="0.2800" stop-color="#d42700"/><stop offset="0.2882" stop-color="#ca0907"/><stop offset="0.2912" stop-color="#a8011a"/><stop offset="0.2953" stop-color="#41004c"/><stop offset="0.2974" stop-color="#0f006e"/><stop offset="0.2984" stop-color="#040181"/><stop offset="0.3004" stop-color="#00029f"/><stop offset="0.3035" stop-color="#000ab8"/><stop offset="0.3096" stop-color="#001bca"/><stop offset="0.3187" stop-color="#0041d2"/><stop offset="0.3279" stop-color="#0066d0"/><stop offset="0.3401" stop-color="#008fcc"/><stop offset="0.3452" stop-color="#009ccb"/><stop offset="0.3768" stop-color="#00b6c3"/><stop offset="0.4175" stop-color="#00bec0"/><stop offset="0.5774" stop-color="#00bbc1"/><stop offset="0.6090" stop-color="#00b3c4"/><stop offset="0.6375" stop-color="#0099cb"/><stop offset="0.6527" stop-color="#006bcf"/><stop offset="0.6609" stop-color="#0051d1"/><stop offset="0.6721" stop-color="#0024cd"/><stop offset="0.6762" stop-color="#0013c4"/><stop offset="0.6792" stop-color="#0009b8"/><stop offset="0.6813" stop-color="#0003a1"/><stop offset="0.6833" stop-color="#050076"/><stop offset="0.6843" stop-color="#310056"/><stop offset="0.6864" stop-color="#760030"/><stop offset="0.6874" stop-color="#9d001f"/><stop offset="0.6894" stop-color="#c50809"/><stop offset="0.6904" stop-color="#ce0c04"/><stop offset="0.7016" stop-color="#d63100"/><stop offset="0.7230" stop-color="#dc6900"/><stop offset="0.7271" stop-color="#db7800"/><stop offset="0.7322" stop-color="#d69500"/><stop offset="0.7678" stop-color="#ceb400"/><stop offset="0.8116" stop-color="#cbbc00"/><stop offset="1.0000" stop-color="#cbbc00"/></linearGradient><linearGradient id="b40"><stop offset="0.0000" stop-color="#d63100"/><stop offset="0.2800" stop-color="#d63000"/><stop offset="0.2892" stop-color="#ce0d04"/><stop offset="0.2902" stop-color="#cb0a06"/><stop offset="0.2933" stop-color="#a1001d"/><stop offset="0.2953" stop-color="#680035"/><stop offset="0.2974" stop-color="#360052"/><stop offset="0.2984" stop-color="#15006a"/><stop offset="0.2994" stop-color="#04007f"/><stop offset="0.3014" stop-color="#0002a0"/><stop offset="0.3035" stop-color="#0007b3"/><stop offset="0.3096" stop-color="#0019c9"/><stop offset="0.3187" stop-color="#0041d2"/><stop offset="0.3279" stop-color="#0067cf"/><stop offset="0.3411" stop-color="#0095cc"/><stop offset="0.3452" stop-color="#009eca"/><stop offset="0.3758" stop-color="#00b6c3"/><stop offset="0.4165" stop-color="#00bec0"/><stop offset="0.5774" stop-color="#00bbc1"/><stop offset="0.6090" stop-color="#00b3c4"/><stop offset="0.6375" stop-color="#009bcb"/><stop offset="0.6538" stop-color="#0069cf"/><stop offset="0.6629" stop-color="#004ad2"/><stop offset="0.6721" stop-color="#0025cd"/><stop offset="0.6762" stop-color="#0013c4"/><stop offset="0.6792" stop-color="#000ab8"/><stop offset="0.6802" stop-color="#0006af"/><stop offset="0.6813" stop-color="#0003a2"/><stop offset="0.6833" stop-color="#050076"/><stop offset="0.6843" stop-color="#310056"/><stop offset="0.6864" stop-color="#77002f"/><stop offset="0.6874" stop-color="#9e001f"/><stop offset="0.6894" stop-color="#c60809"/><stop offset="0.6904" stop-color="#ce0c04"/><stop offset="0.7016" stop-color="#d63200"/><stop offset="0.7220" stop-color="#dc6800"/><stop offset="0.7251" stop-color="#dc7000"/><stop offset="0.7312" stop-color="#d69400"/><stop offset="0.7668" stop-color="#ceb400"/><stop offset="0.8116" stop-color="#cbbd00"/><stop offset="1.0000" stop-color="#cbbd00"/></linearGradient><linearGradient id="b41"><stop offset="0.0000" stop-color="#d83800"/><stop offset="0.2800" stop-color="#d73600"/><stop offset="0.2902" stop-color="#cf1103"/><stop offset="0.2912" stop-color="#ce0d04"/><stop offset="0.2923" stop-color="#c70908"/><stop offset="0.2943" stop-color="#ad0217"/><stop offset="0.2953" stop-color="#9a0021"/><stop offset="0.2974" stop-color="#5f003a"/><stop offset="0.2994" stop-color="#1a0066"/><stop offset="0.3004" stop-color="#04007e"/><stop offset="0.3024" stop-color="#0002a0"/><stop offset="0.3055" stop-color="#0009b8"/><stop offset="0.3106" stop-color="#001aca"/><stop offset="0.3177" stop-color="#003cd1"/><stop offset="0.3279" stop-color="#0068cf"/><stop offset="0.3422" stop-color="#009bcb"/><stop offset="0.3737" stop-color="#00b6c3"/><stop offset="0.4165" stop-color="#00bec0"/><stop offset="0.5774" stop-color="#00bbc1"/><stop offset="0.6100" stop-color="#00b2c4"/><stop offset="0.6385" stop-color="#0099cb"/><stop offset="0.6609" stop-color="#0053d1"/><stop offset="0.6721" stop-color="#0026cd"/><stop offset="0.6762" stop-color="#0013c4"/><stop offset="0.6792" stop-color="#000ab8"/><stop offset="0.6802" stop-color="#0006b0"/><stop offset="0.6813" stop-color="#0003a2"/><stop offset="0.6833" stop-color="#050076"/><stop offset="0.6843" stop-color="#310056"/><stop offset="0.6864" stop-color="#78002f"/><stop offset="0.6874" stop-color="#a0001e"/><stop offset="0.6894" stop-color="#c80908"/><stop offset="0.6904" stop-color="#ce0c04"/><stop offset="0.7016" stop-color="#d63200"/><stop offset="0.7220" stop-color="#dc6a00"/><stop offset="0.7251" stop-color="#db7400"/><stop offset="0.7312" stop-color="#d69600"/><stop offset="0.7668" stop-color="#ceb500"/><stop offset="0.8198" stop-color="#cabe00"/><stop offset="1.0000" stop-color="#cabe00"/></linearGradient><linearGradient id="b42"><stop offset="0.0000" stop-color="#d94100"/><stop offset="0.2790" stop-color="#d94000"/><stop offset="0.2882" stop-color="#d32200"/><stop offset="0.2933" stop-color="#cd0b05"/><stop offset="0.2963" stop-color="#aa0119"/><stop offset="0.2974" stop-color="#8f0025"/><stop offset="0.2984" stop-color="#640037"/><stop offset="0.3004" stop-color="#1a0066"/><stop offset="0.3014" stop-color="#04007f"/><stop offset="0.3035" stop-color="#0003a1"/><stop offset="0.3065" stop-color="#000ab9"/><stop offset="0.3116" stop-color="#001dca"/><stop offset="0.3187" stop-color="#0040d2"/><stop offset="0.3269" stop-color="#0066d0"/><stop offset="0.3401" stop-color="#0098cb"/><stop offset="0.3574" stop-color="#00abc7"/><stop offset="0.3809" stop-color="#00b8c2"/><stop offset="0.4196" stop-color="#00bec0"/><stop offset="0.5774" stop-color="#00bbc1"/><stop offset="0.6100" stop-color="#00b2c4"/><stop offset="0.6395" stop-color="#0099cb"/><stop offset="0.6609" stop-color="#0055d1"/><stop offset="0.6721" stop-color="#0027ce"/><stop offset="0.6772" stop-color="#0010c1"/><stop offset="0.6792" stop-color="#000ab8"/><stop offset="0.6802" stop-color="#0007b0"/><stop offset="0.6813" stop-color="#0003a2"/><stop offset="0.6833" stop-color="#050077"/><stop offset="0.6843" stop-color="#310056"/><stop offset="0.6864" stop-color="#79002e"/><stop offset="0.6874" stop-color="#a2001d"/><stop offset="0.6894" stop-color="#c90907"/><stop offset="0.6925" stop-color="#d01402"/><stop offset="0.7026" stop-color="#d73500"/><stop offset="0.7230" stop-color="#dc6e00"/><stop offset="0.7291" stop-color="#d79100"/><stop offset="0.7332" stop-color="#d59900"/><stop offset="0.7658" stop-color="#ceb400"/><stop offset="0.8279" stop-color="#cabf00"/><stop offset="1.0000" stop-color="#cabf00"/></linearGradient><linearGradient id="b43"><stop offset="0.0000" stop-color="#db4b00"/><stop offset="0.2790" stop-color="#db4900"/><stop offset="0.2892" stop-color="#d42700"/><stop offset="0.2953" stop-color="#cd0b05"/><stop offset="0.2963" stop-color="#c2070b"/><stop offset="0.2974" stop-color="#b20315"/><stop offset="0.2984" stop-color="#920024"/><stop offset="0.2994" stop-color="#640037"/><stop offset="0.3014" stop-color="#14006a"/><stop offset="0.3024" stop-color="#040180"/><stop offset="0.3045" stop-color="#0003a1"/><stop offset="0.3065" stop-color="#0008b5"/><stop offset="0.3116" stop-color="#001bca"/><stop offset="0.3187" stop-color="#0040d1"/><stop offset="0.3269" stop-color="#0067cf"/><stop offset="0.3371" stop-color="#0091cc"/><stop offset="0.3411" stop-color="#009ccb"/><stop offset="0.3707" stop-color="#00b5c3"/><stop offset="0.4134" stop-color="#00bec0"/><stop offset="0.5774" stop-color="#00bbc1"/><stop offset="0.6100" stop-color="#00b2c4"/><stop offset="0.6405" stop-color="#0099cb"/><stop offset="0.6548" stop-color="#006bcf"/><stop offset="0.6619" stop-color="#0052d1"/><stop offset="0.6721" stop-color="#0027ce"/><stop offset="0.6772" stop-color="#0010c1"/><stop offset="0.6802" stop-color="#0007b1"/><stop offset="0.6813" stop-color="#0003a3"/><stop offset="0.6833" stop-color="#050077"/><stop offset="0.6843" stop-color="#310055"/><stop offset="0.6864" stop-color="#7b002e"/><stop offset="0.6874" stop-color="#a4001c"/><stop offset="0.6894" stop-color="#cb0906"/><stop offset="0.6976" stop-color="#d42600"/><stop offset="0.7179" stop-color="#dc6200"/><stop offset="0.7230" stop-color="#dc7000"/><stop offset="0.7281" stop-color="#d79200"/><stop offset="0.7403" stop-color="#d3a100"/><stop offset="0.7648" stop-color="#ceb400"/><stop offset="0.8289" stop-color="#cac000"/><stop offset="1.0000" stop-color="#cac000"/></linearGradient><linearGradient id="b44"><stop offset="0.0000" stop-color="#dc5400"/><stop offset="0.2790" stop-color="#dc5200"/><stop offset="0.2902" stop-color="#d52b00"/><stop offset="0.2963" stop-color="#ce0f04"/><stop offset="0.2974" stop-color="#c90907"/><stop offset="0.2984" stop-color="#b30414"/><stop offset="0.2994" stop-color="#940023"/><stop offset="0.3004" stop-color="#630037"/><stop offset="0.3024" stop-color="#15006a"/><stop offset="0.3035" stop-color="#040180"/><stop offset="0.3055" stop-color="#0003a2"/><stop offset="0.3075" stop-color="#0008b6"/><stop offset="0.3126" stop-color="#001dcb"/><stop offset="0.3198" stop-color="#0045d2"/><stop offset="0.3269" stop-color="#0068cf"/><stop offset="0.3391" stop-color="#009ccb"/><stop offset="0.3697" stop-color="#00b6c3"/><stop offset="0.4134" stop-color="#00bec0"/><stop offset="0.5774" stop-color="#00bbc1"/><stop offset="0.6100" stop-color="#00b3c4"/><stop offset="0.6415" stop-color="#0098cb"/><stop offset="0.6609" stop-color="#0058d1"/><stop offset="0.6721" stop-color="#0028ce"/><stop offset="0.6772" stop-color="#0011c1"/><stop offset="0.6802" stop-color="#0007b2"/><stop offset="0.6813" stop-color="#0003a3"/><stop offset="0.6833" stop-color="#050077"/><stop offset="0.6843" stop-color="#310055"/><stop offset="0.6864" stop-color="#7c002d"/><stop offset="0.6874" stop-color="#a6001c"/><stop offset="0.6894" stop-color="#cc0a06"/><stop offset="0.6986" stop-color="#d52b00"/><stop offset="0.7179" stop-color="#dc6500"/><stop offset="0.7220" stop-color="#dc7000"/><stop offset="0.7281" stop-color="#d69600"/><stop offset="0.7637" stop-color="#ceb500"/><stop offset="0.8299" stop-color="#c9c100"/><stop offset="1.0000" stop-color="#c9c100"/></linearGradient><linearGradient id="b45"><stop offset="0.0000" stop-color="#dc5d00"/><stop offset="0.2790" stop-color="#dc5b00"/><stop offset="0.2933" stop-color="#d42500"/><stop offset="0.2984" stop-color="#cd0a05"/><stop offset="0.2994" stop-color="#b80511"/><stop offset="0.3004" stop-color="#990021"/><stop offset="0.3014" stop-color="#650037"/><stop offset="0.3035" stop-color="#190067"/><stop offset="0.3045" stop-color="#040080"/><stop offset="0.3065" stop-color="#0003a3"/><stop offset="0.3086" stop-color="#0008b6"/><stop offset="0.3126" stop-color="#0019c9"/><stop offset="0.3177" stop-color="#0039d1"/><stop offset="0.3259" stop-color="#0066d0"/><stop offset="0.3381" stop-color="#009bcb"/><stop offset="0.3666" stop-color="#00b5c3"/><stop offset="0.4114" stop-color="#00bec0"/><stop offset="0.5774" stop-color="#00bbc1"/><stop offset="0.6110" stop-color="#00b2c4"/><stop offset="0.6415" stop-color="#009acb"/><stop offset="0.6619" stop-color="#0057d1"/><stop offset="0.6721" stop-color="#002acf"/><stop offset="0.6772" stop-color="#0011c2"/><stop offset="0.6802" stop-color="#0007b2"/><stop offset="0.6813" stop-color="#0003a4"/><stop offset="0.6833" stop-color="#050077"/><stop offset="0.6843" stop-color="#320055"/><stop offset="0.6864" stop-color="#7f002c"/><stop offset="0.6874" stop-color="#a7011b"/><stop offset="0.6894" stop-color="#cd0a05"/><stop offset="0.6996" stop-color="#d63000"/><stop offset="0.7179" stop-color="#dc6800"/><stop offset="0.7220" stop-color="#db7700"/><stop offset="0.7281" stop-color="#d69800"/><stop offset="0.7637" stop-color="#cdb600"/><stop offset="0.8310" stop-color="#c9c200"/><stop offset="1.0000" stop-color="#c9c200"/></linearGradient><linearGradient id="b46"><stop offset="0.0000" stop-color="#dc6600"/><stop offset="0.2790" stop-color="#dc6500"/><stop offset="0.2963" stop-color="#d32000"/><stop offset="0.2994" stop-color="#ce0c04"/><stop offset="0.3004" stop-color="#b90511"/><stop offset="0.3014" stop-color="#980021"/><stop offset="0.3024" stop-color="#670036"/><stop offset="0.3045" stop-color="#190067"/><stop offset="0.3055" stop-color="#040181"/><stop offset="0.3065" stop-color="#010295"/><stop offset="0.3086" stop-color="#0006ad"/><stop offset="0.3116" stop-color="#0011c1"/><stop offset="0.3157" stop-color="#002acf"/><stop offset="0.3238" stop-color="#005ed0"/><stop offset="0.3340" stop-color="#008fcc"/><stop offset="0.3391" stop-color="#009eca"/><stop offset="0.3666" stop-color="#00b5c3"/><stop offset="0.4114" stop-color="#00bec0"/><stop offset="0.5774" stop-color="#00bbc1"/><stop offset="0.6110" stop-color="#00b2c4"/><stop offset="0.6426" stop-color="#0099cb"/><stop offset="0.6497" stop-color="#0084cd"/><stop offset="0.6629" stop-color="#0055d1"/><stop offset="0.6731" stop-color="#0025cd"/><stop offset="0.6772" stop-color="#0012c2"/><stop offset="0.6802" stop-color="#0007b3"/><stop offset="0.6813" stop-color="#0004a4"/><stop offset="0.6833" stop-color="#050077"/><stop offset="0.6843" stop-color="#320055"/><stop offset="0.6864" stop-color="#81002b"/><stop offset="0.6874" stop-color="#a9011a"/><stop offset="0.6894" stop-color="#cd0b05"/><stop offset="0.6996" stop-color="#d63100"/><stop offset="0.7179" stop-color="#dc6b00"/><stop offset="0.7200" stop-color="#dc7200"/><stop offset="0.7261" stop-color="#d69400"/><stop offset="0.7332" stop-color="#d49e00"/><stop offset="0.7627" stop-color="#cdb700"/><stop offset="0.8320" stop-color="#c9c200"/><stop offset="1.0000" stop-color="#c9c200"/></linearGradient><linearGradient id="b47"><stop offset="0.0000" stop-color="#dc6e00"/><stop offset="0.2790" stop-color="#dc6e00"/><stop offset="0.2953" stop-color="#d62e00"/><stop offset="0.2994" stop-color="#d01602"/><stop offset="0.3004" stop-color="#ce0c04"/><stop offset="0.3014" stop-color="#b70412"/><stop offset="0.3024" stop-color="#960022"/><stop offset="0.3035" stop-color="#670036"/><stop offset="0.3045" stop-color="#3e004e"/><stop offset="0.3055" stop-color="#15006a"/><stop offset="0.3065" stop-color="#030184"/><stop offset="0.3086" stop-color="#0003a4"/><stop offset="0.3116" stop-color="#000ebe"/><stop offset="0.3147" stop-color="#0020cc"/><stop offset="0.3198" stop-color="#0044d2"/><stop offset="0.3259" stop-color="#006acf"/><stop offset="0.3340" stop-color="#0094cc"/><stop offset="0.3411" stop-color="#00a1c9"/><stop offset="0.3656" stop-color="#00b5c3"/><stop offset="0.4094" stop-color="#00bec0"/><stop offset="0.5774" stop-color="#00bbc1"/><stop offset="0.6120" stop-color="#00b2c5"/><stop offset="0.6436" stop-color="#0099cb"/><stop offset="0.6487" stop-color="#008dcc"/><stop offset="0.6650" stop-color="#004ed1"/><stop offset="0.6731" stop-color="#0027ce"/><stop offset="0.6772" stop-color="#0012c3"/><stop offset="0.6802" stop-color="#0008b4"/><stop offset="0.6813" stop-color="#0004a5"/><stop offset="0.6833" stop-color="#050078"/><stop offset="0.6843" stop-color="#320055"/><stop offset="0.6864" stop-color="#84002a"/><stop offset="0.6874" stop-color="#ab0119"/><stop offset="0.6884" stop-color="#bf070d"/><stop offset="0.6894" stop-color="#cd0b05"/><stop offset="0.6996" stop-color="#d63200"/><stop offset="0.7179" stop-color="#dc6e00"/><stop offset="0.7220" stop-color="#d88800"/><stop offset="0.7271" stop-color="#d59900"/><stop offset="0.7566" stop-color="#ceb500"/><stop offset="0.8218" stop-color="#c9c300"/><stop offset="1.0000" stop-color="#c9c300"/></linearGradient><linearGradient id="b48"><stop offset="0.0000" stop-color="#d98200"/><stop offset="0.2790" stop-color="#d98100"/><stop offset="0.2811" stop-color="#dc7000"/><stop offset="0.2953" stop-color="#d73500"/><stop offset="0.2984" stop-color="#d42800"/><stop offset="0.3014" stop-color="#cd0b05"/><stop offset="0.3024" stop-color="#b40414"/><stop offset="0.3035" stop-color="#930023"/><stop offset="0.3045" stop-color="#620038"/><stop offset="0.3055" stop-color="#380051"/><stop offset="0.3065" stop-color="#0c0071"/><stop offset="0.3075" stop-color="#030186"/><stop offset="0.3086" stop-color="#010298"/><stop offset="0.3116" stop-color="#000bba"/><stop offset="0.3147" stop-color="#001dcb"/><stop offset="0.3187" stop-color="#003dd1"/><stop offset="0.3248" stop-color="#0067cf"/><stop offset="0.3320" stop-color="#0090cc"/><stop offset="0.3340" stop-color="#0098cb"/><stop offset="0.3564" stop-color="#00b1c5"/><stop offset="0.4022" stop-color="#00bec0"/><stop offset="0.5774" stop-color="#00bbc1"/><stop offset="0.6120" stop-color="#00b2c4"/><stop offset="0.6456" stop-color="#0099cb"/><stop offset="0.6487" stop-color="#0091cc"/><stop offset="0.6650" stop-color="#0050d1"/><stop offset="0.6731" stop-color="#0028ce"/><stop offset="0.6772" stop-color="#0013c4"/><stop offset="0.6802" stop-color="#0008b5"/><stop offset="0.6813" stop-color="#0004a6"/><stop offset="0.6823" stop-color="#020191"/><stop offset="0.6833" stop-color="#050078"/><stop offset="0.6843" stop-color="#330055"/><stop offset="0.6853" stop-color="#5a003d"/><stop offset="0.6864" stop-color="#860029"/><stop offset="0.6874" stop-color="#ac0218"/><stop offset="0.6884" stop-color="#c2070c"/><stop offset="0.6894" stop-color="#cd0c05"/><stop offset="0.6996" stop-color="#d73300"/><stop offset="0.7169" stop-color="#dc6e00"/><stop offset="0.7210" stop-color="#d88c00"/><stop offset="0.7261" stop-color="#d59900"/><stop offset="0.7536" stop-color="#ceb500"/><stop offset="0.7933" stop-color="#cabf00"/><stop offset="0.8442" stop-color="#c9c300"/><stop offset="1.0000" stop-color="#c9c300"/></linearGradient><linearGradient id="b49"><stop offset="0.0000" stop-color="#d69600"/><stop offset="0.2780" stop-color="#d69400"/><stop offset="0.2790" stop-color="#d69300"/><stop offset="0.2800" stop-color="#d78d00"/><stop offset="0.2831" stop-color="#dc6f00"/><stop offset="0.2984" stop-color="#d63100"/><stop offset="0.3014" stop-color="#d01302"/><stop offset="0.3024" stop-color="#c90907"/><stop offset="0.3035" stop-color="#b10315"/><stop offset="0.3045" stop-color="#8c0026"/><stop offset="0.3055" stop-color="#5a003d"/><stop offset="0.3075" stop-color="#050076"/><stop offset="0.3096" stop-color="#00029e"/><stop offset="0.3116" stop-color="#0008b5"/><stop offset="0.3147" stop-color="#001ac9"/><stop offset="0.3177" stop-color="#0034d1"/><stop offset="0.3238" stop-color="#0063d0"/><stop offset="0.3330" stop-color="#009bcb"/><stop offset="0.3615" stop-color="#00b5c3"/><stop offset="0.4073" stop-color="#00bec0"/><stop offset="0.5774" stop-color="#00bbc1"/><stop offset="0.6130" stop-color="#00b2c5"/><stop offset="0.6477" stop-color="#009acb"/><stop offset="0.6650" stop-color="#0053d1"/><stop offset="0.6731" stop-color="#002acf"/><stop offset="0.6772" stop-color="#0013c4"/><stop offset="0.6802" stop-color="#0008b6"/><stop offset="0.6823" stop-color="#010192"/><stop offset="0.6833" stop-color="#050078"/><stop offset="0.6843" stop-color="#330054"/><stop offset="0.6853" stop-color="#5b003c"/><stop offset="0.6864" stop-color="#890028"/><stop offset="0.6874" stop-color="#ae0217"/><stop offset="0.6884" stop-color="#c4080a"/><stop offset="0.6894" stop-color="#ce0c04"/><stop offset="0.6986" stop-color="#d63100"/><stop offset="0.7149" stop-color="#dc6b00"/><stop offset="0.7169" stop-color="#db7400"/><stop offset="0.7210" stop-color="#d69600"/><stop offset="0.7515" stop-color="#cdb500"/><stop offset="0.7923" stop-color="#cabf00"/><stop offset="0.8483" stop-color="#c9c300"/><stop offset="1.0000" stop-color="#c9c300"/></linearGradient><linearGradient id="b50"><stop offset="0.0000" stop-color="#d49f00"/><stop offset="0.2729" stop-color="#d49d00"/><stop offset="0.2800" stop-color="#d69400"/><stop offset="0.2841" stop-color="#dc6e00"/><stop offset="0.2984" stop-color="#d73500"/><stop offset="0.3004" stop-color="#d42600"/><stop offset="0.3024" stop-color="#cf1103"/><stop offset="0.3035" stop-color="#c60809"/><stop offset="0.3045" stop-color="#ad0218"/><stop offset="0.3055" stop-color="#7e002c"/><stop offset="0.3065" stop-color="#4b0046"/><stop offset="0.3075" stop-color="#1f0062"/><stop offset="0.3086" stop-color="#04007e"/><stop offset="0.3106" stop-color="#0003a2"/><stop offset="0.3126" stop-color="#000ab8"/><stop offset="0.3157" stop-color="#001fcb"/><stop offset="0.3198" stop-color="#0043d2"/><stop offset="0.3238" stop-color="#0065d0"/><stop offset="0.3310" stop-color="#0093cc"/><stop offset="0.3340" stop-color="#009dca"/><stop offset="0.3615" stop-color="#00b6c3"/><stop offset="0.4084" stop-color="#00bec0"/><stop offset="0.5774" stop-color="#00bbc1"/><stop offset="0.6141" stop-color="#00b1c5"/><stop offset="0.6487" stop-color="#0099cb"/><stop offset="0.6548" stop-color="#0083cd"/><stop offset="0.6660" stop-color="#0052d1"/><stop offset="0.6741" stop-color="#0026cd"/><stop offset="0.6782" stop-color="#0010c0"/><stop offset="0.6802" stop-color="#0008b6"/><stop offset="0.6813" stop-color="#0004a7"/><stop offset="0.6823" stop-color="#010193"/><stop offset="0.6833" stop-color="#050079"/><stop offset="0.6843" stop-color="#330054"/><stop offset="0.6853" stop-color="#5d003b"/><stop offset="0.6864" stop-color="#8e0026"/><stop offset="0.6874" stop-color="#b10315"/><stop offset="0.6884" stop-color="#c80908"/><stop offset="0.6894" stop-color="#ce0d04"/><stop offset="0.6996" stop-color="#d73600"/><stop offset="0.7149" stop-color="#dc7200"/><stop offset="0.7200" stop-color="#d59800"/><stop offset="0.7281" stop-color="#d2a600"/><stop offset="0.7536" stop-color="#cdb800"/><stop offset="0.8208" stop-color="#c8c400"/><stop offset="1.0000" stop-color="#c8c400"/></linearGradient><linearGradient id="b51"><stop offset="0.0000" stop-color="#d1a800"/><stop offset="0.2709" stop-color="#d1a700"/><stop offset="0.2800" stop-color="#d69600"/><stop offset="0.2851" stop-color="#dc6e00"/><stop offset="0.2953" stop-color="#db4a00"/><stop offset="0.3004" stop-color="#d62e00"/><stop offset="0.3035" stop-color="#ce0f04"/><stop offset="0.3045" stop-color="#c0070d"/><stop offset="0.3055" stop-color="#a3001d"/><stop offset="0.3065" stop-color="#680035"/><stop offset="0.3086" stop-color="#0b0072"/><stop offset="0.3096" stop-color="#030186"/><stop offset="0.3106" stop-color="#010299"/><stop offset="0.3136" stop-color="#000bba"/><stop offset="0.3157" stop-color="#001ac9"/><stop offset="0.3187" stop-color="#0039d1"/><stop offset="0.3238" stop-color="#0067cf"/><stop offset="0.3289" stop-color="#008dcc"/><stop offset="0.3299" stop-color="#0096cb"/><stop offset="0.3360" stop-color="#00a1c9"/><stop offset="0.3605" stop-color="#00b6c3"/><stop offset="0.4063" stop-color="#00bec0"/><stop offset="0.5774" stop-color="#00bbc1"/><stop offset="0.6151" stop-color="#00b1c5"/><stop offset="0.6507" stop-color="#0099cb"/><stop offset="0.6538" stop-color="#0091cc"/><stop offset="0.6670" stop-color="#0051d1"/><stop offset="0.6741" stop-color="#0028ce"/><stop offset="0.6782" stop-color="#0011c1"/><stop offset="0.6802" stop-color="#0009b7"/><stop offset="0.6813" stop-color="#0005a9"/><stop offset="0.6823" stop-color="#010294"/><stop offset="0.6833" stop-color="#050079"/><stop offset="0.6843" stop-color="#340054"/><stop offset="0.6853" stop-color="#60003a"/><stop offset="0.6864" stop-color="#930024"/><stop offset="0.6874" stop-color="#b40413"/><stop offset="0.6884" stop-color="#cb0a06"/><stop offset="0.6955" stop-color="#d52900"/><stop offset="0.7108" stop-color="#dc6600"/><stop offset="0.7128" stop-color="#dc6f00"/><stop offset="0.7169" stop-color="#d69300"/><stop offset="0.7251" stop-color="#d0ab00"/><stop offset="0.7546" stop-color="#ccba00"/><stop offset="0.8310" stop-color="#c8c400"/><stop offset="1.0000" stop-color="#c8c400"/></linearGradient><linearGradient id="b52"><stop offset="0.0000" stop-color="#cfb000"/><stop offset="0.2709" stop-color="#cfaf00"/><stop offset="0.2821" stop-color="#d69700"/><stop offset="0.2872" stop-color="#dc6f00"/><stop offset="0.2953" stop-color="#dc5100"/><stop offset="0.3014" stop-color="#d52c00"/><stop offset="0.3045" stop-color="#ce0c04"/><stop offset="0.3055" stop-color="#b70412"/><stop offset="0.3065" stop-color="#8e0026"/><stop offset="0.3075" stop-color="#520042"/><stop offset="0.3086" stop-color="#24005f"/><stop offset="0.3096" stop-color="#04007b"/><stop offset="0.3116" stop-color="#00029f"/><stop offset="0.3147" stop-color="#000ebe"/><stop offset="0.3167" stop-color="#0020cb"/><stop offset="0.3208" stop-color="#004cd2"/><stop offset="0.3238" stop-color="#006acf"/><stop offset="0.3299" stop-color="#009bcb"/><stop offset="0.3574" stop-color="#00b6c3"/><stop offset="0.4053" stop-color="#00bec0"/><stop offset="0.5774" stop-color="#00bbc1"/><stop offset="0.6171" stop-color="#00b0c5"/><stop offset="0.6527" stop-color="#009bcb"/><stop offset="0.6660" stop-color="#0060d0"/><stop offset="0.6741" stop-color="#002cd0"/><stop offset="0.6782" stop-color="#0012c3"/><stop offset="0.6802" stop-color="#0009b8"/><stop offset="0.6813" stop-color="#0005aa"/><stop offset="0.6823" stop-color="#010296"/><stop offset="0.6833" stop-color="#05007a"/><stop offset="0.6843" stop-color="#350053"/><stop offset="0.6853" stop-color="#640037"/><stop offset="0.6864" stop-color="#9c0020"/><stop offset="0.6874" stop-color="#ba0510"/><stop offset="0.6884" stop-color="#cd0b05"/><stop offset="0.6965" stop-color="#d63200"/><stop offset="0.7047" stop-color="#dc5500"/><stop offset="0.7118" stop-color="#db7500"/><stop offset="0.7149" stop-color="#d69300"/><stop offset="0.7230" stop-color="#d0ab00"/><stop offset="0.7281" stop-color="#ceb300"/><stop offset="0.8116" stop-color="#c8c400"/><stop offset="1.0000" stop-color="#c8c400"/></linearGradient><linearGradient id="b53"><stop offset="0.0000" stop-color="#cdb600"/><stop offset="0.2719" stop-color="#ceb500"/><stop offset="0.2821" stop-color="#d2a600"/><stop offset="0.2862" stop-color="#d69700"/><stop offset="0.2912" stop-color="#dc6e00"/><stop offset="0.2963" stop-color="#dc5200"/><stop offset="0.3024" stop-color="#d52900"/><stop offset="0.3055" stop-color="#cb0a06"/><stop offset="0.3065" stop-color="#af0216"/><stop offset="0.3086" stop-color="#3f004d"/><stop offset="0.3096" stop-color="#0e006f"/><stop offset="0.3106" stop-color="#030183"/><stop offset="0.3126" stop-color="#0003a3"/><stop offset="0.3157" stop-color="#0010c1"/><stop offset="0.3177" stop-color="#0026ce"/><stop offset="0.3218" stop-color="#005ad0"/><stop offset="0.3269" stop-color="#008ccc"/><stop offset="0.3299" stop-color="#009dcb"/><stop offset="0.3564" stop-color="#00b6c3"/><stop offset="0.4053" stop-color="#00bec0"/><stop offset="0.5774" stop-color="#00bbc1"/><stop offset="0.6202" stop-color="#00b0c5"/><stop offset="0.6538" stop-color="#009ccb"/><stop offset="0.6650" stop-color="#0077ce"/><stop offset="0.6741" stop-color="#0033d1"/><stop offset="0.6782" stop-color="#0014c6"/><stop offset="0.6802" stop-color="#000bb9"/><stop offset="0.6813" stop-color="#0006ad"/><stop offset="0.6823" stop-color="#010299"/><stop offset="0.6833" stop-color="#04007b"/><stop offset="0.6843" stop-color="#370052"/><stop offset="0.6853" stop-color="#6d0033"/><stop offset="0.6864" stop-color="#a8011a"/><stop offset="0.6874" stop-color="#c3070b"/><stop offset="0.6884" stop-color="#ce0e04"/><stop offset="0.6955" stop-color="#d73300"/><stop offset="0.7006" stop-color="#db4c00"/><stop offset="0.7037" stop-color="#dc6300"/><stop offset="0.7077" stop-color="#dc7000"/><stop offset="0.7138" stop-color="#d59800"/><stop offset="0.7271" stop-color="#ceb300"/><stop offset="0.8136" stop-color="#c8c500"/><stop offset="1.0000" stop-color="#c8c500"/></linearGradient><linearGradient id="b54"><stop offset="0.0000" stop-color="#ccbb00"/><stop offset="0.2811" stop-color="#cdb800"/><stop offset="0.2902" stop-color="#d69500"/><stop offset="0.2923" stop-color="#da7e00"/><stop offset="0.2933" stop-color="#dc6f00"/><stop offset="0.3014" stop-color="#d73600"/><stop offset="0.3035" stop-color="#d42600"/><stop offset="0.3055" stop-color="#cf1103"/><stop offset="0.3065" stop-color="#c3080b"/><stop offset="0.3075" stop-color="#9e001f"/><stop offset="0.3086" stop-color="#59003d"/><stop offset="0.3096" stop-color="#210061"/><stop offset="0.3106" stop-color="#050079"/><stop offset="0.3126" stop-color="#00029c"/><stop offset="0.3157" stop-color="#000cbb"/><stop offset="0.3177" stop-color="#0021cc"/><stop offset="0.3208" stop-color="#004cd2"/><stop offset="0.3228" stop-color="#0067cf"/><stop offset="0.3259" stop-color="#0089cd"/><stop offset="0.3269" stop-color="#0096cb"/><stop offset="0.3340" stop-color="#00a2c9"/><stop offset="0.3564" stop-color="#00b6c3"/><stop offset="0.4033" stop-color="#00bec0"/><stop offset="0.5774" stop-color="#00bbc1"/><stop offset="0.6253" stop-color="#00aec6"/><stop offset="0.6578" stop-color="#009acb"/><stop offset="0.6650" stop-color="#008dcc"/><stop offset="0.6701" stop-color="#0060d0"/><stop offset="0.6752" stop-color="#0032d0"/><stop offset="0.6782" stop-color="#0017c8"/><stop offset="0.6802" stop-color="#000cbb"/><stop offset="0.6813" stop-color="#0007b1"/><stop offset="0.6823" stop-color="#00029c"/><stop offset="0.6833" stop-color="#04007c"/><stop offset="0.6843" stop-color="#380051"/><stop offset="0.6853" stop-color="#750030"/><stop offset="0.6864" stop-color="#af0216"/><stop offset="0.6874" stop-color="#cc0a06"/><stop offset="0.6925" stop-color="#d42800"/><stop offset="0.6996" stop-color="#db4f00"/><stop offset="0.7026" stop-color="#dc6d00"/><stop offset="0.7037" stop-color="#da8000"/><stop offset="0.7098" stop-color="#d59800"/><stop offset="0.7271" stop-color="#ceb300"/><stop offset="0.8157" stop-color="#c8c500"/><stop offset="1.0000" stop-color="#c8c500"/></linearGradient></defs>
<rect x="7.5" y="602.5" width="982.0" height="3.00" fill="url(#b0)"/>
<rect x="7.5" y="604.5" width="982.0" height="3.00" fill="url(#b1)"/>
<rect x="7.5" y="606.5" width="982.0" height="3.00" fill="url(#b2)"/>
<rect x="7.5" y="608.5" width="982.0" height="3.00" fill="url(#b3)"/>
<rect x="7.5" y="610.5" width="982.0" height="3.00" fill="url(#b4)"/>
<rect x="7.5" y="612.5" width="982.0" height="3.00" fill="url(#b5)"/>
<rect x="7.5" y="614.5" width="982.0" height="3.00" fill="url(#b6)"/>
<rect x="7.5" y="616.5" width="982.0" height="3.00" fill="url(#b7)"/>
<rect x="7.5" y="618.5" width="982.0" height="3.00" fill="url(#b8)"/>
<rect x="7.5" y="620.5" width="982.0" height="3.00" fill="url(#b9)"/>
<rect x="7.5" y="622.5" width="982.0" height="3.00" fill="url(#b10)"/>
<rect x="7.5" y="624.5" width="982.0" height="3.00" fill="url(#b11)"/>
<rect x="7.5" y="626.5" width="982.0" height="3.00" fill="url(#b12)"/>
<rect x="7.5" y="628.5" width="982.0" height="3.00" fill="url(#b13)"/>
<rect x="7.5" y="630.5" width="982.0" height="3.00" fill="url(#b14)"/>
<rect x="7.5" y="632.5" width="982.0" height="3.00" fill="url(#b15)"/>
<rect x="7.5" y="634.5" width="982.0" height="3.00" fill="url(#b16)"/>
<rect x="7.5" y="636.5" width="982.0" height="3.00" fill="url(#b17)"/>
<rect x="7.5" y="638.5" width="982.0" height="3.00" fill="url(#b18)"/>
<rect x="7.5" y="640.5" width="982.0" height="3.00" fill="url(#b19)"/>
<rect x="7.5" y="642.5" width="982.0" height="3.00" fill="url(#b20)"/>
<rect x="7.5" y="644.5" width="982.0" height="3.00" fill="url(#b21)"/>
<rect x="7.5" y="646.5" width="982.0" height="3.00" fill="url(#b22)"/>
<rect x="7.5" y="648.5" width="982.0" height="3.00" fill="url(#b23)"/>
<rect x="7.5" y="650.5" width="982.0" height="3.00" fill="url(#b24)"/>
<rect x="7.5" y="652.5" width="982.0" height="3.00" fill="url(#b25)"/>
<rect x="7.5" y="654.5" width="982.0" height="3.00" fill="url(#b26)"/>
<rect x="7.5" y="656.5" width="982.0" height="3.00" fill="url(#b27)"/>
<rect x="7.5" y="658.5" width="982.0" height="3.00" fill="url(#b28)"/>
<rect x="7.5" y="660.5" width="982.0" height="3.00" fill="url(#b29)"/>
<rect x="7.5" y="662.5" width="982.0" height="3.00" fill="url(#b30)"/>
<rect x="7.5" y="664.5" width="982.0" height="3.00" fill="url(#b31)"/>
<rect x="7.5" y="666.5" width="982.0" height="3.00" fill="url(#b32)"/>
<rect x="7.5" y="668.5" width="982.0" height="3.00" fill="url(#b33)"/>
<rect x="7.5" y="670.5" width="982.0" height="3.00" fill="url(#b34)"/>
<rect x="7.5" y="672.5" width="982.0" height="3.00" fill="url(#b35)"/>
<rect x="7.5" y="674.5" width="982.0" height="3.00" fill="url(#b36)"/>
<rect x="7.5" y="676.5" width="982.0" height="3.00" fill="url(#b37)"/>
<rect x="7.5" y="678.5" width="982.0" height="3.00" fill="url(#b38)"/>
<rect x="7.5" y="680.5" width="982.0" height="3.00" fill="url(#b39)"/>
<rect x="7.5" y="682.5" width="982.0" height="3.00" fill="url(#b40)"/>
<rect x="7.5" y="684.5" width="982.0" height="3.00" fill="url(#b41)"/>
<rect x="7.5" y="686.5" width="982.0" height="3.00" fill="url(#b42)"/>
<rect x="7.5" y="688.5" width="982.0" height="3.00" fill="url(#b43)"/>
<rect x="7.5" y="690.5" width="982.0" height="3.00" fill="url(#b44)"/>
<rect x="7.5" y="692.5" width="982.0" height="3.00" fill="url(#b45)"/>
<rect x="7.5" y="694.5" width="982.0" height="3.00" fill="url(#b46)"/>
<rect x="7.5" y="696.5" width="982.0" height="3.00" fill="url(#b47)"/>
<rect x="7.5" y="698.5" width="982.0" height="3.00" fill="url(#b48)"/>
<rect x="7.5" y="700.5" width="982.0" height="3.00" fill="url(#b49)"/>
<rect x="7.5" y="702.5" width="982.0" height="3.00" fill="url(#b50)"/>
<rect x="7.5" y="704.5" width="982.0" height="3.00" fill="url(#b51)"/>
<rect x="7.5" y="706.5" width="982.0" height="3.00" fill="url(#b52)"/>
<rect x="7.5" y="708.5" width="982.0" height="3.00" fill="url(#b53)"/>
<rect x="7.5" y="710.5" width="982.0" height="2.00" fill="url(#b54)"/>
<path d="M329.4,602.5 330.1,603.5 330.5,606.9 331.5,608.4 333.5,609.3 334.5,610.5 334.8,614.5 337.2,616.5 338.6,618.5 340.2,623.5 342.4,626.5 344.5,631.2 349.5,639.5 348.3,643.5 349.0,647.5 350.5,651.5 350.8,659.5 350.1,664.5 350.7,668.5 347.3,677.5 345.1,680.5 345.4,684.5 343.3,688.5 340.5,691.2 337.8,699.5 334.5,702.6 332.3,706.5 330.9,711.5 330.0,712.5 M661.6,712.5 659.5,711.3 653.5,711.4 650.7,710.5 648.5,707.7 644.5,705.5 642.5,701.6 639.4,699.5 637.6,696.5 637.0,691.5 634.2,688.5 633.5,684.5 634.3,680.5 632.5,679.3 631.0,676.5 631.6,672.5 627.8,668.5 630.2,663.5 629.1,659.5 629.1,657.5 630.9,647.5 629.4,643.5 631.7,634.5 636.0,626.5 636.8,622.5 640.6,615.5 643.5,612.7 645.5,609.5 648.0,607.5 650.0,604.5 652.5,603.0 655.7,602.5 M324.3,602.5 323.8,606.5 325.2,610.5 324.6,618.5 326.0,623.5 326.5,631.5 328.8,635.5 328.9,639.5 327.6,647.5 329.7,651.5 328.9,669.5 328.2,673.5 326.8,676.5 326.4,680.5 327.8,688.5 325.5,692.5 324.2,700.5 325.6,709.5 324.5,712.5 M666.7,712.5 664.5,709.5 659.5,705.5 657.6,701.5 653.7,686.5 651.4,680.5 652.2,676.5 650.6,671.5 651.2,656.5 652.5,651.5 650.9,648.5 650.7,643.5 651.8,639.5 652.1,631.5 653.4,627.5 653.6,623.5 657.0,614.5 660.2,610.5 660.7,608.5 663.1,605.5 663.9,602.5 M320.9,602.5 319.3,606.5 319.7,610.5 318.6,613.5 317.3,621.5 315.5,626.6 316.2,635.5 313.3,643.5 312.6,647.5 313.8,652.5 313.2,659.5 313.3,667.5 315.3,672.5 315.0,676.5 316.7,684.5 315.8,688.5 318.4,700.5 321.3,708.5 321.0,712.5 M671.3,712.5 669.1,706.5 669.1,700.5 666.6,696.5 665.9,693.5 666.7,688.5 664.7,680.5 664.3,676.5 665.6,672.5 664.5,667.5 665.3,660.5 664.7,655.5 665.6,648.5 664.0,643.5 664.1,639.5 666.5,635.5 666.0,631.5 666.8,627.5 666.8,622.5 667.6,618.5 667.7,614.5 669.2,610.5 669.0,608.5 669.8,602.5 M316.7,602.5 313.0,616.5 311.0,619.5 310.2,622.5 307.8,626.5 306.5,630.3 304.0,635.5 301.3,639.5 298.5,645.6 296.4,654.5 294.8,657.5 295.1,660.5 297.4,664.5 297.6,667.5 301.0,674.5 303.8,677.5 305.9,683.5 308.8,688.5 309.5,692.5 311.7,696.5 314.1,704.5 316.8,709.5 317.6,712.5 M675.7,712.5 675.8,701.5 676.9,696.5 674.8,692.5 674.5,688.5 675.4,684.5 674.3,680.5 674.8,676.5 674.4,672.5 676.3,668.5 675.1,664.5 676.2,659.5 674.7,655.5 674.4,652.5 675.7,639.5 674.0,631.5 675.4,627.5 674.2,623.5 675.8,618.5 676.6,611.5 674.7,606.5 675.0,602.5 M311.1,602.5 309.6,611.5 303.3,623.5 302.1,627.5 299.5,631.9 295.9,635.5 290.5,644.0 285.5,648.3 284.8,651.5 282.0,654.5 280.8,657.5 284.1,664.5 286.2,667.5 294.5,676.5 301.2,685.5 302.7,688.5 303.4,692.5 306.3,696.5 308.2,700.5 308.4,705.5 311.4,712.5 M679.3,712.5 679.4,704.5 680.1,697.5 679.0,688.5 679.6,684.5 679.3,680.5 680.1,669.5 679.5,664.5 680.7,659.5 679.6,651.5 680.1,643.5 679.8,635.5 679.0,631.5 679.6,627.5 679.0,622.5 679.7,618.5 679.7,611.5 678.2,606.5 679.2,602.5 M7.5,666.7 13.5,668.2 25.5,666.2 31.5,668.0 37.5,668.0 43.5,667.3 49.5,668.0 55.5,667.6 67.5,668.3 73.5,667.3 85.5,668.5 115.5,666.8 122.5,668.7 128.5,668.1 134.5,668.9 140.5,667.5 145.5,667.4 152.5,668.3 170.5,668.8 176.5,667.4 182.5,666.7 188.5,668.6 194.5,667.1 206.5,668.7 224.5,665.9 230.5,665.4 233.3,663.5 236.2,659.5 239.1,657.5 238.3,655.5 237.2,654.5 230.5,650.3 224.5,649.2 218.5,647.1 202.5,647.2 188.5,646.3 182.5,648.1 164.5,647.2 158.5,645.1 152.5,648.1 146.5,646.4 140.5,647.1 127.5,646.4 116.5,647.1 110.5,648.1 104.5,648.2 97.5,646.6 92.5,646.1 86.5,647.6 80.5,648.2 73.5,647.0 61.5,646.4 37.5,647.3 25.5,646.8 19.5,647.8 13.5,647.5 7.5,646.4 M308.4,602.5 305.8,610.5 301.6,619.5 298.5,624.4 292.6,631.5 287.7,635.5 284.9,639.5 282.5,640.6 277.5,640.3 272.5,638.7 266.5,639.1 260.5,640.3 248.5,640.0 242.5,640.6 224.5,639.6 218.5,640.1 200.5,639.5 194.5,640.4 188.5,639.9 182.5,640.6 170.5,639.3 164.5,640.9 158.5,639.7 151.5,640.3 122.5,639.3 116.5,640.5 109.5,639.5 103.5,640.6 92.5,639.5 86.5,638.3 79.5,640.3 74.5,640.6 67.5,639.3 55.5,640.5 49.5,639.1 43.5,639.4 37.5,640.5 13.5,639.3 7.5,640.1 M683.4,712.5 684.0,709.5 683.8,705.5 684.5,701.5 684.1,692.5 685.4,680.5 685.7,651.5 686.1,647.5 686.1,635.5 683.9,623.5 684.8,618.5 683.3,610.5 683.8,602.5 M7.5,674.8 19.5,675.5 31.5,673.9 37.5,676.4 49.5,674.5 61.5,675.3 67.5,673.8 80.5,676.0 91.5,674.6 127.5,675.8 134.5,674.7 140.5,676.9 151.5,674.7 163.5,676.0 170.5,674.4 200.5,675.7 206.5,674.9 212.5,675.2 218.5,674.4 225.5,675.3 230.5,676.5 236.5,675.0 243.5,674.9 248.5,675.3 254.5,676.8 260.5,674.2 273.5,675.4 278.5,675.5 282.5,675.0 285.2,676.5 289.5,680.6 291.8,684.5 294.8,686.5 298.8,690.5 304.2,700.5 305.4,705.5 308.0,712.5 M305.4,602.5 300.5,613.5 295.2,619.5 291.1,622.5 288.5,626.2 284.4,630.5 281.5,632.1 272.5,632.2 260.5,631.5 254.5,632.5 249.5,632.5 242.5,631.6 236.5,632.6 218.5,632.4 206.5,631.3 188.5,630.7 176.5,631.8 170.5,631.3 158.5,632.2 152.5,631.4 146.5,631.7 134.5,631.0 127.5,632.2 122.5,631.6 116.5,632.1 109.5,631.5 86.5,632.2 79.5,630.9 73.5,631.3 67.5,632.8 61.5,632.0 49.5,632.3 31.5,631.0 19.5,632.2 13.5,631.4 7.5,632.0 M689.4,712.5 693.7,701.5 694.2,696.5 696.0,688.5 695.3,684.5 695.6,680.5 697.3,676.5 696.2,668.5 696.2,664.5 697.4,660.5 697.1,655.5 697.7,651.5 696.3,639.5 697.0,635.5 695.0,627.5 694.3,620.5 694.5,614.5 688.8,602.5 M7.5,682.1 13.5,683.7 19.5,683.0 31.5,684.4 37.5,683.4 55.5,682.7 61.5,683.5 67.5,683.1 73.5,683.6 97.5,682.5 104.5,684.0 110.5,682.9 140.5,683.8 151.5,682.5 158.5,683.7 164.5,682.4 170.5,682.0 188.5,683.7 194.5,682.5 200.5,683.5 206.5,682.3 230.5,683.8 234.5,683.0 236.5,682.0 242.5,683.2 248.5,682.5 254.5,683.5 260.5,682.7 279.5,682.9 282.5,683.7 290.1,689.5 292.2,692.5 297.9,696.5 301.5,703.3 303.8,712.5 M300.9,602.5 293.8,610.5 291.5,615.1 285.0,618.5 282.7,622.5 280.5,623.9 272.5,624.3 266.5,622.9 254.5,624.7 248.5,623.9 242.5,624.3 236.5,623.9 230.5,622.4 218.5,624.1 206.5,623.5 200.5,623.9 194.5,623.3 188.5,624.0 182.5,624.0 170.5,622.9 164.5,624.1 146.5,622.9 140.5,624.0 134.5,623.2 128.5,623.9 122.5,623.3 115.5,624.6 110.5,624.0 104.5,624.6 98.5,624.5 80.5,623.3 67.5,623.7 61.5,622.5 55.5,623.2 43.5,622.7 37.5,624.4 31.5,624.3 25.5,623.0 19.5,623.7 13.5,622.7 7.5,623.4 M693.8,712.5 695.5,710.1 700.1,706.5 703.1,701.5 706.0,692.5 706.4,688.5 708.4,684.5 708.0,680.5 709.3,676.5 708.9,672.5 709.9,667.5 709.5,664.5 708.1,660.5 710.1,656.5 710.5,651.5 709.4,643.5 709.4,635.5 707.2,630.5 706.0,623.5 702.5,615.4 701.7,610.5 700.1,608.5 697.2,606.5 694.9,602.5 M7.5,691.1 19.5,690.5 31.5,692.2 38.5,690.4 49.5,691.5 55.5,692.8 61.5,691.1 67.5,690.5 73.5,691.5 79.5,690.0 82.1,690.5 85.3,692.5 86.5,692.6 91.5,691.0 97.5,692.0 101.5,690.5 104.5,690.1 107.5,690.9 110.5,692.8 128.5,690.4 140.5,690.4 146.5,691.2 152.5,690.6 158.5,691.3 164.5,690.0 169.5,689.7 176.5,692.1 188.5,690.8 194.5,691.0 200.5,691.9 212.5,690.5 218.5,691.2 224.5,690.6 236.5,691.7 242.5,690.8 248.5,691.0 254.5,690.4 260.5,691.4 279.5,690.6 281.5,691.3 284.5,694.5 289.5,698.5 296.5,706.2 299.7,712.5 M294.2,602.5 283.1,608.5 282.2,613.5 279.5,614.5 272.5,612.6 266.5,614.0 254.5,613.7 248.5,612.9 242.5,614.7 236.5,614.2 230.5,612.4 212.5,613.6 200.5,611.7 194.5,613.6 188.5,613.3 176.5,614.4 164.5,612.9 140.5,613.8 128.5,613.1 121.5,613.6 104.5,613.2 97.5,614.7 92.5,613.9 80.5,613.2 73.5,613.5 62.5,613.1 49.5,614.6 40.5,613.2 37.5,611.6 35.5,612.5 25.5,614.6 19.5,613.2 13.5,614.0 7.5,613.1 M697.6,712.5 698.5,711.8 702.5,711.4 704.5,710.5 706.5,708.5 713.5,704.1 717.6,700.5 722.0,693.5 723.8,688.5 726.1,684.5 726.1,680.5 727.5,675.1 729.3,672.5 729.1,668.5 730.4,664.5 729.7,659.5 729.9,650.5 728.7,643.5 729.1,639.5 725.5,631.9 723.7,625.5 722.5,623.3 721.6,618.5 715.5,613.5 711.1,608.5 707.5,603.4 706.5,602.8 701.5,603.2 698.6,602.5 M7.5,701.3 13.5,702.0 19.5,701.6 31.5,702.2 43.5,700.8 49.5,702.1 55.5,701.3 61.5,701.6 67.5,700.3 74.5,701.3 85.5,700.1 91.5,702.1 97.5,701.5 104.5,702.3 109.5,702.2 116.5,701.2 128.5,701.1 140.5,701.9 146.5,701.4 164.5,702.2 176.5,701.1 182.5,702.0 188.5,701.6 200.5,702.5 206.5,701.3 212.5,702.1 218.5,701.2 224.5,701.8 230.5,701.2 237.5,702.1 254.5,701.0 260.5,701.8 267.5,701.3 272.5,702.1 281.5,701.3 282.2,701.5 283.7,706.5 286.5,707.8 290.5,711.2 293.2,712.5 M64.7,602.5 61.5,603.1 59.6,602.5 M989.5,626.3 984.5,623.3 976.5,626.8 971.5,627.0 966.5,629.9 960.5,627.4 956.5,626.8 954.5,625.6 950.5,629.5 947.5,630.4 944.4,629.5 942.5,626.3 936.5,628.2 924.5,624.7 921.1,626.5 919.7,630.5 915.5,630.9 911.5,630.5 906.5,628.3 899.5,630.0 888.5,628.2 886.9,627.5 884.5,625.0 881.5,624.1 875.5,624.7 871.5,627.8 869.5,628.3 867.5,627.9 865.3,626.5 863.5,626.3 858.5,629.2 854.5,630.5 850.5,628.8 850.4,627.5 845.5,625.2 839.5,627.6 834.5,625.9 821.5,625.6 817.1,626.5 816.0,627.5 815.5,630.6 813.5,629.2 809.5,628.8 803.5,626.9 800.2,624.5 799.4,623.5 799.5,622.4 801.5,621.0 804.5,619.9 805.5,618.9 805.7,618.5 803.5,616.8 798.5,616.2 791.5,617.7 789.5,617.1 785.5,615.0 779.5,613.1 776.5,610.5 774.1,607.5 773.5,605.7 772.5,607.5 770.5,609.2 765.5,611.4 764.7,608.5 765.0,602.5 M846.5,631.6 845.2,631.5 844.3,630.5 845.5,629.6 849.5,629.5 850.3,630.5 846.5,631.6 M984.5,631.8 982.2,631.5 980.9,630.5 984.5,629.7 985.5,630.5 985.2,631.5 984.5,631.8 M767.5,712.5 766.1,710.5 766.0,708.5 772.5,702.5 775.5,702.2 779.5,703.9 781.5,702.6 784.7,701.5 787.5,699.1 792.6,697.5 794.0,696.5 793.3,692.5 794.5,691.4 797.5,691.3 805.2,688.5 806.5,687.0 809.5,686.8 815.5,684.9 824.5,686.9 827.5,689.3 833.5,688.8 835.5,689.8 839.5,690.5 842.5,689.9 845.5,688.0 848.2,688.5 851.5,690.3 852.8,689.5 854.5,687.3 858.7,686.5 863.5,683.4 865.5,684.1 867.5,685.6 871.4,687.5 873.5,689.5 875.5,690.5 878.9,689.5 881.3,686.5 882.5,686.0 885.5,685.7 889.5,687.8 893.5,688.8 899.5,686.3 905.5,685.2 906.5,685.7 908.5,688.9 912.5,690.4 917.5,689.7 920.2,688.5 919.5,687.0 917.5,685.7 916.9,684.5 918.5,683.9 923.6,684.5 932.6,689.5 935.5,690.6 942.5,690.0 945.4,688.5 947.7,686.5 949.1,684.5 954.5,683.7 958.2,684.5 962.4,689.5 965.5,691.0 968.5,690.4 971.5,687.9 976.5,685.6 980.5,686.0 981.1,686.5 981.6,688.5 983.5,689.9 986.5,690.3 989.5,690.0 M833.5,687.5 831.8,685.5 831.5,684.5 833.5,684.0 834.2,684.5 833.5,687.5" fill="none" stroke="#f2eed8" stroke-width="0.95" stroke-linejoin="round"/>
<path d="M429.7,608.4 L438.5,617.9 L429,629.5 M429.7,608.4 L430.4,619.3 L438.5,617.9 M419.1,639.4 L426.5,640.4 L423,647.8 Z M455,640.8 L451.8,642.9 L452.2,645.7 L455.3,642.2 Z M503.3,631.8 L505.5,633 L507,639 L505.2,637.5 Z M498.2,674.4 L501.3,682.1 L495,682.1 Z M547.2,639.5 L548.1,646.7 L542.2,642.2 Z M541,648 L545,647.3 L545.5,652.8 L541.5,653 L539.9,650.5 Z M569.4,602.6 L571.2,613.2 L575.3,602.6 M571.2,613.2 L558,612.7 L568,629 L574.4,624 Z" fill="none" stroke="#eef4ee" stroke-width="0.9" stroke-linejoin="round"/>
<g fill="#eef4ee"><circle cx="468.7" cy="617.2" r="1"/><circle cx="457.1" cy="626.7" r="0.9"/><circle cx="442" cy="627" r="0.6"/></g>
<circle cx="547.2" cy="662.6" r="1.4" fill="none" stroke="#eef4ee" stroke-width="0.8"/>
<defs><linearGradient id="c0"><stop offset="0.0000" stop-color="#c9c300"/><stop offset="0.2864" stop-color="#cac100"/><stop offset="0.2926" stop-color="#ccbc00"/><stop offset="0.3028" stop-color="#d99300"/><stop offset="0.3140" stop-color="#dc6100"/><stop offset="0.3191" stop-color="#d83800"/><stop offset="0.3211" stop-color="#d62f00"/><stop offset="0.3384" stop-color="#d42800"/><stop offset="0.6616" stop-color="#d52c00"/><stop offset="0.6697" stop-color="#d63200"/><stop offset="0.6799" stop-color="#dc6300"/><stop offset="0.6983" stop-color="#d6a000"/><stop offset="0.7044" stop-color="#ccbb00"/><stop offset="0.7238" stop-color="#c9c400"/><stop offset="1.0000" stop-color="#c9c400"/></linearGradient><linearGradient id="c1"><stop offset="0.0000" stop-color="#cac100"/><stop offset="0.2875" stop-color="#cbbf00"/><stop offset="0.2926" stop-color="#ceb700"/><stop offset="0.2956" stop-color="#d3aa00"/><stop offset="0.3007" stop-color="#d79b00"/><stop offset="0.3028" stop-color="#da8f00"/><stop offset="0.3068" stop-color="#db8100"/><stop offset="0.3089" stop-color="#dc7400"/><stop offset="0.3129" stop-color="#dc6400"/><stop offset="0.3160" stop-color="#db4b00"/><stop offset="0.3170" stop-color="#da4500"/><stop offset="0.3180" stop-color="#d83a00"/><stop offset="0.3211" stop-color="#d52c00"/><stop offset="0.3405" stop-color="#d42600"/><stop offset="0.6483" stop-color="#d52900"/><stop offset="0.6677" stop-color="#d63000"/><stop offset="0.6718" stop-color="#d93f00"/><stop offset="0.6820" stop-color="#dc6900"/><stop offset="0.6993" stop-color="#d6a000"/><stop offset="0.7064" stop-color="#ccbc00"/><stop offset="0.7278" stop-color="#c9c300"/><stop offset="1.0000" stop-color="#c9c400"/></linearGradient><linearGradient id="c2"><stop offset="0.0000" stop-color="#cbbf00"/><stop offset="0.2864" stop-color="#cbbe00"/><stop offset="0.2915" stop-color="#d0b400"/><stop offset="0.2966" stop-color="#d5a300"/><stop offset="0.3007" stop-color="#d89400"/><stop offset="0.3028" stop-color="#da8a00"/><stop offset="0.3068" stop-color="#db7d00"/><stop offset="0.3078" stop-color="#dc7300"/><stop offset="0.3129" stop-color="#dc6000"/><stop offset="0.3150" stop-color="#db4c00"/><stop offset="0.3180" stop-color="#d73600"/><stop offset="0.3211" stop-color="#d52900"/><stop offset="0.3425" stop-color="#d32300"/><stop offset="0.5810" stop-color="#d42400"/><stop offset="0.6606" stop-color="#d52c00"/><stop offset="0.6687" stop-color="#d73500"/><stop offset="0.6840" stop-color="#dc6d00"/><stop offset="0.7013" stop-color="#d5a400"/><stop offset="0.7074" stop-color="#ccbc00"/><stop offset="0.7299" stop-color="#c9c300"/><stop offset="1.0000" stop-color="#c9c300"/></linearGradient><linearGradient id="c3"><stop offset="0.0000" stop-color="#ccbc00"/><stop offset="0.2834" stop-color="#cdba00"/><stop offset="0.2915" stop-color="#d3ab00"/><stop offset="0.2997" stop-color="#d99300"/><stop offset="0.3038" stop-color="#db8200"/><stop offset="0.3068" stop-color="#dc7600"/><stop offset="0.3089" stop-color="#dc6a00"/><stop offset="0.3119" stop-color="#dc5f00"/><stop offset="0.3150" stop-color="#da4700"/><stop offset="0.3180" stop-color="#d73300"/><stop offset="0.3211" stop-color="#d42700"/><stop offset="0.3486" stop-color="#d32000"/><stop offset="0.5596" stop-color="#d32000"/><stop offset="0.6585" stop-color="#d52a00"/><stop offset="0.6677" stop-color="#d73600"/><stop offset="0.6860" stop-color="#dc7200"/><stop offset="0.7023" stop-color="#d5a300"/><stop offset="0.7085" stop-color="#cdbb00"/><stop offset="0.7278" stop-color="#c9c300"/><stop offset="1.0000" stop-color="#c9c300"/></linearGradient><linearGradient id="c4"><stop offset="0.0000" stop-color="#d0b300"/><stop offset="0.2834" stop-color="#d1b100"/><stop offset="0.2946" stop-color="#d79b00"/><stop offset="0.3058" stop-color="#dc7300"/><stop offset="0.3109" stop-color="#dc5c00"/><stop offset="0.3170" stop-color="#d73200"/><stop offset="0.3211" stop-color="#d42400"/><stop offset="0.3609" stop-color="#d21b00"/><stop offset="0.5596" stop-color="#d21d00"/><stop offset="0.6565" stop-color="#d52900"/><stop offset="0.6667" stop-color="#d73500"/><stop offset="0.6860" stop-color="#dc7100"/><stop offset="0.7044" stop-color="#d4a700"/><stop offset="0.7105" stop-color="#ccbb00"/><stop offset="0.7309" stop-color="#cac200"/><stop offset="1.0000" stop-color="#c9c300"/></linearGradient><linearGradient id="c5"><stop offset="0.0000" stop-color="#d4aa00"/><stop offset="0.2824" stop-color="#d4a800"/><stop offset="0.2936" stop-color="#d89500"/><stop offset="0.3048" stop-color="#dc6f00"/><stop offset="0.3099" stop-color="#dc5500"/><stop offset="0.3150" stop-color="#d73500"/><stop offset="0.3221" stop-color="#d32100"/><stop offset="0.3812" stop-color="#d11600"/><stop offset="0.5698" stop-color="#d21c00"/><stop offset="0.6534" stop-color="#d42800"/><stop offset="0.6656" stop-color="#d73300"/><stop offset="0.6789" stop-color="#dc5900"/><stop offset="0.7034" stop-color="#d69f00"/><stop offset="0.7136" stop-color="#ccbc00"/><stop offset="0.7390" stop-color="#cac200"/><stop offset="1.0000" stop-color="#cac200"/></linearGradient><linearGradient id="c6"><stop offset="0.0000" stop-color="#d6a000"/><stop offset="0.2824" stop-color="#d69e00"/><stop offset="0.2936" stop-color="#da8a00"/><stop offset="0.3038" stop-color="#dc6900"/><stop offset="0.3089" stop-color="#db4d00"/><stop offset="0.3129" stop-color="#d73500"/><stop offset="0.3221" stop-color="#d21e00"/><stop offset="0.3823" stop-color="#d01300"/><stop offset="0.5729" stop-color="#d11900"/><stop offset="0.6473" stop-color="#d42500"/><stop offset="0.6626" stop-color="#d62e00"/><stop offset="0.6718" stop-color="#d94100"/><stop offset="0.6901" stop-color="#db7900"/><stop offset="0.7095" stop-color="#d3ad00"/><stop offset="0.7176" stop-color="#cbbe00"/><stop offset="0.7574" stop-color="#cac100"/><stop offset="1.0000" stop-color="#cac200"/></linearGradient><linearGradient id="c7"><stop offset="0.0000" stop-color="#d89700"/><stop offset="0.2813" stop-color="#d99400"/><stop offset="0.2936" stop-color="#db7f00"/><stop offset="0.3028" stop-color="#dc6100"/><stop offset="0.3109" stop-color="#d73400"/><stop offset="0.3211" stop-color="#d21c00"/><stop offset="0.3772" stop-color="#cf0f00"/><stop offset="0.5739" stop-color="#d11700"/><stop offset="0.6279" stop-color="#d32000"/><stop offset="0.6595" stop-color="#d52b00"/><stop offset="0.6697" stop-color="#d83a00"/><stop offset="0.6891" stop-color="#dc7500"/><stop offset="0.7115" stop-color="#d3ad00"/><stop offset="0.7197" stop-color="#ccbd00"/><stop offset="0.7543" stop-color="#cac100"/><stop offset="1.0000" stop-color="#cac200"/></linearGradient><linearGradient id="c8"><stop offset="0.0000" stop-color="#da8d00"/><stop offset="0.2803" stop-color="#da8a00"/><stop offset="0.2915" stop-color="#db7800"/><stop offset="0.2997" stop-color="#dc5e00"/><stop offset="0.3078" stop-color="#d73400"/><stop offset="0.3160" stop-color="#d32000"/><stop offset="0.3252" stop-color="#d11800"/><stop offset="0.3741" stop-color="#cf0c00"/><stop offset="0.5739" stop-color="#d01400"/><stop offset="0.6269" stop-color="#d21e00"/><stop offset="0.6595" stop-color="#d52a00"/><stop offset="0.6697" stop-color="#d83900"/><stop offset="0.6901" stop-color="#dc7600"/><stop offset="0.7146" stop-color="#d1af00"/><stop offset="0.7238" stop-color="#cbbe00"/><stop offset="0.9113" stop-color="#cac100"/><stop offset="1.0000" stop-color="#cac100"/></linearGradient><linearGradient id="c9"><stop offset="0.0000" stop-color="#db8300"/><stop offset="0.2783" stop-color="#db8100"/><stop offset="0.2895" stop-color="#dc6f00"/><stop offset="0.2966" stop-color="#dc5800"/><stop offset="0.3048" stop-color="#d73300"/><stop offset="0.3129" stop-color="#d31f00"/><stop offset="0.3293" stop-color="#d01200"/><stop offset="0.3772" stop-color="#ce0800"/><stop offset="0.5749" stop-color="#d01100"/><stop offset="0.6249" stop-color="#d21c00"/><stop offset="0.6585" stop-color="#d52900"/><stop offset="0.6697" stop-color="#d83800"/><stop offset="0.6901" stop-color="#dc7500"/><stop offset="0.7166" stop-color="#d1af00"/><stop offset="0.7268" stop-color="#cbbe00"/><stop offset="1.0000" stop-color="#cac100"/></linearGradient><linearGradient id="c10"><stop offset="0.0000" stop-color="#db7800"/><stop offset="0.2762" stop-color="#dc7600"/><stop offset="0.2875" stop-color="#dc6500"/><stop offset="0.3038" stop-color="#d52a00"/><stop offset="0.3129" stop-color="#d11800"/><stop offset="0.3435" stop-color="#ce0900"/><stop offset="0.4638" stop-color="#ce0800"/><stop offset="0.5780" stop-color="#cf0f00"/><stop offset="0.6249" stop-color="#d21a00"/><stop offset="0.6585" stop-color="#d52900"/><stop offset="0.6697" stop-color="#d83800"/><stop offset="0.6820" stop-color="#dc5d00"/><stop offset="0.7023" stop-color="#da8f00"/><stop offset="0.7248" stop-color="#ceb800"/><stop offset="0.7380" stop-color="#cbbf00"/><stop offset="1.0000" stop-color="#cac100"/></linearGradient><linearGradient id="c11"><stop offset="0.0000" stop-color="#dc6c00"/><stop offset="0.2752" stop-color="#dc6900"/><stop offset="0.2844" stop-color="#dc5900"/><stop offset="0.3038" stop-color="#d21d00"/><stop offset="0.3180" stop-color="#cf0f00"/><stop offset="0.3476" stop-color="#cc0600"/><stop offset="0.5678" stop-color="#cf0b00"/><stop offset="0.6249" stop-color="#d11900"/><stop offset="0.6575" stop-color="#d42800"/><stop offset="0.6707" stop-color="#d83900"/><stop offset="0.6901" stop-color="#dc7200"/><stop offset="0.7136" stop-color="#d5a300"/><stop offset="0.7339" stop-color="#ccbc00"/><stop offset="0.7890" stop-color="#cac000"/><stop offset="1.0000" stop-color="#cac000"/></linearGradient><linearGradient id="c12"><stop offset="0.0000" stop-color="#dc5d00"/><stop offset="0.2722" stop-color="#dc5b00"/><stop offset="0.2834" stop-color="#da4600"/><stop offset="0.3007" stop-color="#d11700"/><stop offset="0.3242" stop-color="#cd0700"/><stop offset="0.4006" stop-color="#ca0300"/><stop offset="0.5790" stop-color="#ce0a00"/><stop offset="0.6259" stop-color="#d11800"/><stop offset="0.6575" stop-color="#d42700"/><stop offset="0.6707" stop-color="#d83900"/><stop offset="0.6820" stop-color="#dc5a00"/><stop offset="0.6993" stop-color="#db8600"/><stop offset="0.7146" stop-color="#d5a100"/><stop offset="0.7411" stop-color="#cbbd00"/><stop offset="1.0000" stop-color="#cac000"/></linearGradient><linearGradient id="c13"><stop offset="0.0000" stop-color="#db4b00"/><stop offset="0.2701" stop-color="#da4900"/><stop offset="0.2854" stop-color="#d63000"/><stop offset="0.2946" stop-color="#d11600"/><stop offset="0.3150" stop-color="#cd0700"/><stop offset="0.3843" stop-color="#c80000"/><stop offset="0.5821" stop-color="#ce0800"/><stop offset="0.6269" stop-color="#d11700"/><stop offset="0.6565" stop-color="#d42600"/><stop offset="0.6718" stop-color="#d83a00"/><stop offset="0.6820" stop-color="#dc5900"/><stop offset="0.6952" stop-color="#db7c00"/><stop offset="0.7146" stop-color="#d69f00"/><stop offset="0.7472" stop-color="#cbbd00"/><stop offset="1.0000" stop-color="#cac000"/></linearGradient><linearGradient id="c14"><stop offset="0.0000" stop-color="#d83c00"/><stop offset="0.2671" stop-color="#d83a00"/><stop offset="0.2783" stop-color="#d62e00"/><stop offset="0.2895" stop-color="#d01200"/><stop offset="0.3089" stop-color="#cc0500"/><stop offset="0.3507" stop-color="#c20005"/><stop offset="0.3731" stop-color="#bd0008"/><stop offset="0.4302" stop-color="#c80000"/><stop offset="0.5841" stop-color="#cd0700"/><stop offset="0.6279" stop-color="#d11700"/><stop offset="0.6565" stop-color="#d42600"/><stop offset="0.6728" stop-color="#d93d00"/><stop offset="0.6820" stop-color="#dc5700"/><stop offset="0.6911" stop-color="#dc7100"/><stop offset="0.7136" stop-color="#d79d00"/><stop offset="0.7523" stop-color="#ccbd00"/><stop offset="1.0000" stop-color="#cbbf00"/></linearGradient><linearGradient id="c15"><stop offset="0.0000" stop-color="#d63200"/><stop offset="0.2640" stop-color="#d62e00"/><stop offset="0.2885" stop-color="#cf0b00"/><stop offset="0.3201" stop-color="#c50002"/><stop offset="0.3354" stop-color="#b8000a"/><stop offset="0.3578" stop-color="#970018"/><stop offset="0.3721" stop-color="#940019"/><stop offset="0.3894" stop-color="#a10014"/><stop offset="0.3945" stop-color="#a70011"/><stop offset="0.3955" stop-color="#b7000a"/><stop offset="0.4027" stop-color="#c00006"/><stop offset="0.5076" stop-color="#c80100"/><stop offset="0.5892" stop-color="#cd0700"/><stop offset="0.6279" stop-color="#d11500"/><stop offset="0.6555" stop-color="#d42400"/><stop offset="0.6738" stop-color="#d93f00"/><stop offset="0.6840" stop-color="#dc5e00"/><stop offset="0.7023" stop-color="#da8700"/><stop offset="0.7176" stop-color="#d69f00"/><stop offset="0.7574" stop-color="#ccbc00"/><stop offset="1.0000" stop-color="#cbbf00"/></linearGradient><linearGradient id="c16"><stop offset="0.0000" stop-color="#d42600"/><stop offset="0.2528" stop-color="#d21e00"/><stop offset="0.2661" stop-color="#d11600"/><stop offset="0.2915" stop-color="#cb0400"/><stop offset="0.3119" stop-color="#c10005"/><stop offset="0.3191" stop-color="#ba0009"/><stop offset="0.3374" stop-color="#84001e"/><stop offset="0.3558" stop-color="#57002b"/><stop offset="0.3741" stop-color="#5c002a"/><stop offset="0.3863" stop-color="#670027"/><stop offset="0.3945" stop-color="#7c0020"/><stop offset="0.3996" stop-color="#9b0016"/><stop offset="0.4057" stop-color="#b7000a"/><stop offset="0.4149" stop-color="#bf0007"/><stop offset="0.5515" stop-color="#c80000"/><stop offset="0.6065" stop-color="#ce0a00"/><stop offset="0.6544" stop-color="#d32200"/><stop offset="0.6728" stop-color="#d83b00"/><stop offset="0.6830" stop-color="#dc5900"/><stop offset="0.6942" stop-color="#dc7600"/><stop offset="0.7187" stop-color="#d69e00"/><stop offset="0.7625" stop-color="#ccbb00"/><stop offset="1.0000" stop-color="#cbbf00"/></linearGradient><linearGradient id="c17"><stop offset="0.0000" stop-color="#d21b00"/><stop offset="0.2589" stop-color="#cf0e00"/><stop offset="0.2946" stop-color="#c40003"/><stop offset="0.3058" stop-color="#bb0009"/><stop offset="0.3201" stop-color="#90001a"/><stop offset="0.3333" stop-color="#50002e"/><stop offset="0.3558" stop-color="#1e0048"/><stop offset="0.3863" stop-color="#32003e"/><stop offset="0.3945" stop-color="#490031"/><stop offset="0.3955" stop-color="#460033"/><stop offset="0.3986" stop-color="#51002d"/><stop offset="0.4067" stop-color="#8d001b"/><stop offset="0.4179" stop-color="#ac000f"/><stop offset="0.4281" stop-color="#bd0008"/><stop offset="0.5831" stop-color="#ca0300"/><stop offset="0.6249" stop-color="#d01100"/><stop offset="0.6555" stop-color="#d32300"/><stop offset="0.6728" stop-color="#d83a00"/><stop offset="0.6840" stop-color="#dc5b00"/><stop offset="0.7013" stop-color="#db8300"/><stop offset="0.7227" stop-color="#d69f00"/><stop offset="0.7696" stop-color="#cdba00"/><stop offset="0.8644" stop-color="#ccbd00"/><stop offset="1.0000" stop-color="#cbbe00"/></linearGradient><linearGradient id="c18"><stop offset="0.0000" stop-color="#cf0e00"/><stop offset="0.2681" stop-color="#ca0300"/><stop offset="0.2864" stop-color="#c10005"/><stop offset="0.2936" stop-color="#ba0009"/><stop offset="0.3089" stop-color="#8d001b"/><stop offset="0.3242" stop-color="#460033"/><stop offset="0.3323" stop-color="#1f0047"/><stop offset="0.3568" stop-color="#0c006a"/><stop offset="0.3874" stop-color="#150058"/><stop offset="0.3976" stop-color="#230046"/><stop offset="0.4088" stop-color="#52002d"/><stop offset="0.4241" stop-color="#8c001b"/><stop offset="0.4343" stop-color="#a90010"/><stop offset="0.4455" stop-color="#bd0008"/><stop offset="0.5882" stop-color="#ca0300"/><stop offset="0.6259" stop-color="#d01000"/><stop offset="0.6544" stop-color="#d32100"/><stop offset="0.6728" stop-color="#d83900"/><stop offset="0.6850" stop-color="#dc5e00"/><stop offset="0.7023" stop-color="#db8300"/><stop offset="0.7248" stop-color="#d69f00"/><stop offset="0.7717" stop-color="#ceb700"/><stop offset="0.8634" stop-color="#cdb900"/><stop offset="0.8716" stop-color="#cbbe00"/><stop offset="1.0000" stop-color="#cbbe00"/></linearGradient><linearGradient id="c19"><stop offset="0.0000" stop-color="#ca0300"/><stop offset="0.2661" stop-color="#c60002"/><stop offset="0.2803" stop-color="#bb0009"/><stop offset="0.2946" stop-color="#980017"/><stop offset="0.3099" stop-color="#57002c"/><stop offset="0.3231" stop-color="#1d004a"/><stop offset="0.3344" stop-color="#0c0069"/><stop offset="0.3476" stop-color="#050079"/><stop offset="0.3609" stop-color="#04007f"/><stop offset="0.3884" stop-color="#060075"/><stop offset="0.4006" stop-color="#160057"/><stop offset="0.4067" stop-color="#230045"/><stop offset="0.4169" stop-color="#400037"/><stop offset="0.4281" stop-color="#5a002b"/><stop offset="0.4373" stop-color="#7a0021"/><stop offset="0.4465" stop-color="#9c0016"/><stop offset="0.4597" stop-color="#b5000c"/><stop offset="0.4720" stop-color="#be0007"/><stop offset="0.5882" stop-color="#c90100"/><stop offset="0.6259" stop-color="#cf0f00"/><stop offset="0.6544" stop-color="#d32100"/><stop offset="0.6728" stop-color="#d83800"/><stop offset="0.6901" stop-color="#dc6a00"/><stop offset="0.7034" stop-color="#db8300"/><stop offset="0.7278" stop-color="#d69f00"/><stop offset="0.7717" stop-color="#d0b200"/><stop offset="0.8624" stop-color="#d0b400"/><stop offset="0.8685" stop-color="#ccbd00"/><stop offset="1.0000" stop-color="#ccbd00"/></linearGradient><linearGradient id="c20"><stop offset="0.0000" stop-color="#c00006"/><stop offset="0.2630" stop-color="#bd0008"/><stop offset="0.2875" stop-color="#8b001c"/><stop offset="0.3038" stop-color="#450034"/><stop offset="0.3129" stop-color="#1e0049"/><stop offset="0.3293" stop-color="#050077"/><stop offset="0.3598" stop-color="#02018d"/><stop offset="0.3904" stop-color="#040181"/><stop offset="0.4006" stop-color="#060074"/><stop offset="0.4139" stop-color="#210046"/><stop offset="0.4200" stop-color="#32003d"/><stop offset="0.4404" stop-color="#4c0030"/><stop offset="0.4587" stop-color="#80001f"/><stop offset="0.4689" stop-color="#9d0015"/><stop offset="0.4873" stop-color="#ba0009"/><stop offset="0.5087" stop-color="#bf0006"/><stop offset="0.5872" stop-color="#c70000"/><stop offset="0.6259" stop-color="#cf0e00"/><stop offset="0.6534" stop-color="#d32000"/><stop offset="0.6728" stop-color="#d73700"/><stop offset="0.6901" stop-color="#dc6900"/><stop offset="0.7044" stop-color="#db8400"/><stop offset="0.7299" stop-color="#d69f00"/><stop offset="0.7604" stop-color="#d3ad00"/><stop offset="0.8624" stop-color="#d2af00"/><stop offset="0.8675" stop-color="#ccbc00"/><stop offset="1.0000" stop-color="#ccbc00"/></linearGradient><linearGradient id="c21"><stop offset="0.0000" stop-color="#9c0016"/><stop offset="0.2630" stop-color="#950019"/><stop offset="0.2803" stop-color="#710024"/><stop offset="0.2895" stop-color="#57002b"/><stop offset="0.3038" stop-color="#1d0049"/><stop offset="0.3211" stop-color="#050078"/><stop offset="0.3415" stop-color="#02018f"/><stop offset="0.3598" stop-color="#00029c"/><stop offset="0.3914" stop-color="#02018d"/><stop offset="0.4098" stop-color="#070072"/><stop offset="0.4190" stop-color="#1e0049"/><stop offset="0.4241" stop-color="#2c0041"/><stop offset="0.4475" stop-color="#410036"/><stop offset="0.4638" stop-color="#52002d"/><stop offset="0.4771" stop-color="#730023"/><stop offset="0.4903" stop-color="#9a0017"/><stop offset="0.5087" stop-color="#b8000a"/><stop offset="0.5229" stop-color="#be0007"/><stop offset="0.5892" stop-color="#c60002"/><stop offset="0.6259" stop-color="#cf0d00"/><stop offset="0.6524" stop-color="#d21e00"/><stop offset="0.6677" stop-color="#d62f00"/><stop offset="0.6748" stop-color="#d83a00"/><stop offset="0.6891" stop-color="#dc6600"/><stop offset="0.7044" stop-color="#db8300"/><stop offset="0.7309" stop-color="#d69f00"/><stop offset="0.7574" stop-color="#d3ab00"/><stop offset="0.8624" stop-color="#d3ad00"/><stop offset="0.8675" stop-color="#ceb800"/><stop offset="1.0000" stop-color="#ceb800"/></linearGradient><linearGradient id="c22"><stop offset="0.0000" stop-color="#610028"/><stop offset="0.2640" stop-color="#5a002a"/><stop offset="0.2783" stop-color="#4a0031"/><stop offset="0.2885" stop-color="#34003c"/><stop offset="0.2946" stop-color="#1d004a"/><stop offset="0.3119" stop-color="#050078"/><stop offset="0.3394" stop-color="#01029a"/><stop offset="0.3609" stop-color="#0004a5"/><stop offset="0.3914" stop-color="#00029b"/><stop offset="0.4139" stop-color="#050079"/><stop offset="0.4190" stop-color="#100062"/><stop offset="0.4251" stop-color="#1f0048"/><stop offset="0.4332" stop-color="#2d0040"/><stop offset="0.4526" stop-color="#3d0038"/><stop offset="0.4760" stop-color="#450034"/><stop offset="0.4883" stop-color="#56002c"/><stop offset="0.4985" stop-color="#700024"/><stop offset="0.5117" stop-color="#990017"/><stop offset="0.5280" stop-color="#b6000b"/><stop offset="0.5413" stop-color="#be0007"/><stop offset="0.5923" stop-color="#c50002"/><stop offset="0.6269" stop-color="#cf0c00"/><stop offset="0.6514" stop-color="#d21c00"/><stop offset="0.6677" stop-color="#d62e00"/><stop offset="0.6738" stop-color="#d73600"/><stop offset="0.6901" stop-color="#dc6700"/><stop offset="0.7054" stop-color="#db8300"/><stop offset="0.7309" stop-color="#d69f00"/><stop offset="0.7574" stop-color="#d3aa00"/><stop offset="0.8624" stop-color="#d3ab00"/><stop offset="0.8695" stop-color="#d0b300"/><stop offset="1.0000" stop-color="#d0b300"/></linearGradient><linearGradient id="c23"><stop offset="0.0000" stop-color="#2b0041"/><stop offset="0.2722" stop-color="#270043"/><stop offset="0.2793" stop-color="#200047"/><stop offset="0.2895" stop-color="#170056"/><stop offset="0.3038" stop-color="#050078"/><stop offset="0.3344" stop-color="#0003a0"/><stop offset="0.3619" stop-color="#0006ad"/><stop offset="0.3945" stop-color="#0003a1"/><stop offset="0.4118" stop-color="#030189"/><stop offset="0.4210" stop-color="#050076"/><stop offset="0.4271" stop-color="#170055"/><stop offset="0.4332" stop-color="#220046"/><stop offset="0.4506" stop-color="#37003b"/><stop offset="0.4975" stop-color="#450034"/><stop offset="0.5107" stop-color="#5d002a"/><stop offset="0.5229" stop-color="#7e0020"/><stop offset="0.5321" stop-color="#9a0017"/><stop offset="0.5464" stop-color="#b2000c"/><stop offset="0.5617" stop-color="#be0008"/><stop offset="0.5933" stop-color="#c20004"/><stop offset="0.6116" stop-color="#cb0400"/><stop offset="0.6504" stop-color="#d21b00"/><stop offset="0.6667" stop-color="#d52d00"/><stop offset="0.6738" stop-color="#d73400"/><stop offset="0.6901" stop-color="#dc6600"/><stop offset="0.7064" stop-color="#db8400"/><stop offset="0.7309" stop-color="#d69f00"/><stop offset="0.7574" stop-color="#d4a900"/><stop offset="0.8644" stop-color="#d3ab00"/><stop offset="1.0000" stop-color="#d2ae00"/></linearGradient><linearGradient id="c24"><stop offset="0.0000" stop-color="#14005a"/><stop offset="0.2752" stop-color="#13005c"/><stop offset="0.2905" stop-color="#070072"/><stop offset="0.3282" stop-color="#0003a3"/><stop offset="0.3609" stop-color="#0008b6"/><stop offset="0.3945" stop-color="#0005a9"/><stop offset="0.4108" stop-color="#010298"/><stop offset="0.4261" stop-color="#050076"/><stop offset="0.4353" stop-color="#1a004f"/><stop offset="0.4444" stop-color="#2b0041"/><stop offset="0.4536" stop-color="#32003d"/><stop offset="0.5046" stop-color="#450034"/><stop offset="0.5219" stop-color="#52002d"/><stop offset="0.5382" stop-color="#7a0021"/><stop offset="0.5505" stop-color="#9a0016"/><stop offset="0.5668" stop-color="#b5000b"/><stop offset="0.5831" stop-color="#be0007"/><stop offset="0.5933" stop-color="#bf0006"/><stop offset="0.5973" stop-color="#c50002"/><stop offset="0.6279" stop-color="#cf0b00"/><stop offset="0.6514" stop-color="#d21b00"/><stop offset="0.6667" stop-color="#d52d00"/><stop offset="0.6738" stop-color="#d73300"/><stop offset="0.6901" stop-color="#dc6600"/><stop offset="0.7064" stop-color="#db8300"/><stop offset="0.7309" stop-color="#d69e00"/><stop offset="0.7574" stop-color="#d4a900"/><stop offset="1.0000" stop-color="#d3ab00"/></linearGradient><linearGradient id="c25"><stop offset="0.0000" stop-color="#080070"/><stop offset="0.2712" stop-color="#070072"/><stop offset="0.2997" stop-color="#030188"/><stop offset="0.3211" stop-color="#0003a4"/><stop offset="0.3537" stop-color="#000bba"/><stop offset="0.3823" stop-color="#0009b7"/><stop offset="0.3986" stop-color="#0006ae"/><stop offset="0.4169" stop-color="#010299"/><stop offset="0.4322" stop-color="#060074"/><stop offset="0.4424" stop-color="#1e0049"/><stop offset="0.4495" stop-color="#2b0041"/><stop offset="0.5087" stop-color="#430035"/><stop offset="0.5280" stop-color="#52002d"/><stop offset="0.5464" stop-color="#6f0024"/><stop offset="0.5556" stop-color="#85001d"/><stop offset="0.5647" stop-color="#9e0015"/><stop offset="0.5821" stop-color="#b9000a"/><stop offset="0.5933" stop-color="#be0007"/><stop offset="0.5994" stop-color="#c40003"/><stop offset="0.6290" stop-color="#ce0a00"/><stop offset="0.6524" stop-color="#d21c00"/><stop offset="0.6656" stop-color="#d52c00"/><stop offset="0.6738" stop-color="#d63100"/><stop offset="0.6901" stop-color="#dc6500"/><stop offset="0.7074" stop-color="#db8400"/><stop offset="0.7309" stop-color="#d69e00"/><stop offset="0.7574" stop-color="#d4a800"/><stop offset="1.0000" stop-color="#d4a900"/></linearGradient><linearGradient id="c26"><stop offset="0.0000" stop-color="#04007d"/><stop offset="0.2732" stop-color="#040080"/><stop offset="0.3007" stop-color="#010194"/><stop offset="0.3201" stop-color="#0005aa"/><stop offset="0.3425" stop-color="#000bba"/><stop offset="0.3639" stop-color="#0010c0"/><stop offset="0.3986" stop-color="#0008b5"/><stop offset="0.4220" stop-color="#00029b"/><stop offset="0.4373" stop-color="#080071"/><stop offset="0.4455" stop-color="#1e0048"/><stop offset="0.4506" stop-color="#260044"/><stop offset="0.5178" stop-color="#430035"/><stop offset="0.5413" stop-color="#5d002a"/><stop offset="0.5556" stop-color="#740023"/><stop offset="0.5719" stop-color="#9d0015"/><stop offset="0.5882" stop-color="#bd0008"/><stop offset="0.6167" stop-color="#cb0300"/><stop offset="0.6514" stop-color="#d21a00"/><stop offset="0.6656" stop-color="#d52c00"/><stop offset="0.6748" stop-color="#d73400"/><stop offset="0.6911" stop-color="#dc6600"/><stop offset="0.7085" stop-color="#db8400"/><stop offset="0.7309" stop-color="#d69e00"/><stop offset="0.7574" stop-color="#d4a700"/><stop offset="1.0000" stop-color="#d4a700"/></linearGradient><linearGradient id="c27"><stop offset="0.0000" stop-color="#030186"/><stop offset="0.2712" stop-color="#030188"/><stop offset="0.3007" stop-color="#00029d"/><stop offset="0.3323" stop-color="#000bb9"/><stop offset="0.3629" stop-color="#0014c5"/><stop offset="0.3996" stop-color="#000ab9"/><stop offset="0.4230" stop-color="#0003a2"/><stop offset="0.4404" stop-color="#070072"/><stop offset="0.4475" stop-color="#1d0049"/><stop offset="0.4638" stop-color="#260044"/><stop offset="0.5260" stop-color="#450034"/><stop offset="0.5545" stop-color="#690026"/><stop offset="0.5770" stop-color="#9c0016"/><stop offset="0.5912" stop-color="#bd0008"/><stop offset="0.6188" stop-color="#cb0400"/><stop offset="0.6524" stop-color="#d21b00"/><stop offset="0.6656" stop-color="#d52c00"/><stop offset="0.6748" stop-color="#d73400"/><stop offset="0.6911" stop-color="#dc6500"/><stop offset="0.7095" stop-color="#db8500"/><stop offset="0.7319" stop-color="#d69e00"/><stop offset="0.7574" stop-color="#d4a600"/><stop offset="1.0000" stop-color="#d5a600"/></linearGradient><linearGradient id="c28"><stop offset="0.0000" stop-color="#030184"/><stop offset="0.2722" stop-color="#030186"/><stop offset="0.3007" stop-color="#00029b"/><stop offset="0.3333" stop-color="#000ab9"/><stop offset="0.3629" stop-color="#0013c4"/><stop offset="0.3996" stop-color="#000ab8"/><stop offset="0.4241" stop-color="#00029f"/><stop offset="0.4393" stop-color="#060074"/><stop offset="0.4465" stop-color="#1c004c"/><stop offset="0.4506" stop-color="#220046"/><stop offset="0.5229" stop-color="#420035"/><stop offset="0.5545" stop-color="#6a0026"/><stop offset="0.5759" stop-color="#9c0015"/><stop offset="0.5912" stop-color="#be0007"/><stop offset="0.6188" stop-color="#cb0400"/><stop offset="0.6524" stop-color="#d21b00"/><stop offset="0.6656" stop-color="#d52c00"/><stop offset="0.6748" stop-color="#d73400"/><stop offset="0.6911" stop-color="#dc6600"/><stop offset="0.7095" stop-color="#db8500"/><stop offset="0.7319" stop-color="#d69e00"/><stop offset="0.7574" stop-color="#d4a600"/><stop offset="1.0000" stop-color="#d4a600"/></linearGradient><linearGradient id="c29"><stop offset="0.0000" stop-color="#04007a"/><stop offset="0.2732" stop-color="#04007c"/><stop offset="0.2997" stop-color="#02018f"/><stop offset="0.3170" stop-color="#0004a5"/><stop offset="0.3445" stop-color="#000bb9"/><stop offset="0.3649" stop-color="#000ebe"/><stop offset="0.3965" stop-color="#0008b5"/><stop offset="0.4210" stop-color="#00029a"/><stop offset="0.4363" stop-color="#080070"/><stop offset="0.4444" stop-color="#1e0049"/><stop offset="0.4506" stop-color="#280043"/><stop offset="0.5138" stop-color="#420035"/><stop offset="0.5311" stop-color="#51002d"/><stop offset="0.5545" stop-color="#740023"/><stop offset="0.5688" stop-color="#9a0016"/><stop offset="0.5882" stop-color="#bd0008"/><stop offset="0.6167" stop-color="#cb0400"/><stop offset="0.6514" stop-color="#d21a00"/><stop offset="0.6656" stop-color="#d52c00"/><stop offset="0.6738" stop-color="#d63100"/><stop offset="0.6911" stop-color="#dc6600"/><stop offset="0.7085" stop-color="#db8500"/><stop offset="0.7309" stop-color="#d69e00"/><stop offset="0.7574" stop-color="#d4a700"/><stop offset="1.0000" stop-color="#d4a800"/></linearGradient><linearGradient id="c30"><stop offset="0.0000" stop-color="#0c0069"/><stop offset="0.2722" stop-color="#0a006c"/><stop offset="0.2946" stop-color="#040080"/><stop offset="0.3242" stop-color="#0004a4"/><stop offset="0.3578" stop-color="#000bba"/><stop offset="0.3925" stop-color="#0007b1"/><stop offset="0.4149" stop-color="#010299"/><stop offset="0.4302" stop-color="#050076"/><stop offset="0.4393" stop-color="#1a004f"/><stop offset="0.4455" stop-color="#280043"/><stop offset="0.4546" stop-color="#2f003f"/><stop offset="0.5076" stop-color="#430035"/><stop offset="0.5270" stop-color="#52002d"/><stop offset="0.5413" stop-color="#6b0025"/><stop offset="0.5657" stop-color="#a60011"/><stop offset="0.5831" stop-color="#bb0009"/><stop offset="0.5933" stop-color="#be0007"/><stop offset="0.5963" stop-color="#c30004"/><stop offset="0.6239" stop-color="#ce0700"/><stop offset="0.6514" stop-color="#d21b00"/><stop offset="0.6656" stop-color="#d52c00"/><stop offset="0.6738" stop-color="#d63200"/><stop offset="0.6901" stop-color="#dc6500"/><stop offset="0.7074" stop-color="#db8400"/><stop offset="0.7309" stop-color="#d69e00"/><stop offset="0.7574" stop-color="#d4a800"/><stop offset="1.0000" stop-color="#d4a900"/></linearGradient><linearGradient id="c31"><stop offset="0.0000" stop-color="#180053"/><stop offset="0.2762" stop-color="#170055"/><stop offset="0.2895" stop-color="#0d0068"/><stop offset="0.2977" stop-color="#050078"/><stop offset="0.3303" stop-color="#0003a2"/><stop offset="0.3619" stop-color="#0007b4"/><stop offset="0.3945" stop-color="#0004a7"/><stop offset="0.4098" stop-color="#010296"/><stop offset="0.4241" stop-color="#050077"/><stop offset="0.4332" stop-color="#1a0050"/><stop offset="0.4393" stop-color="#240045"/><stop offset="0.4506" stop-color="#33003d"/><stop offset="0.5036" stop-color="#450034"/><stop offset="0.5168" stop-color="#52002d"/><stop offset="0.5260" stop-color="#640027"/><stop offset="0.5454" stop-color="#9b0016"/><stop offset="0.5627" stop-color="#b6000b"/><stop offset="0.5780" stop-color="#be0007"/><stop offset="0.5933" stop-color="#c00006"/><stop offset="0.6004" stop-color="#c70001"/><stop offset="0.6340" stop-color="#cf0f00"/><stop offset="0.6514" stop-color="#d21b00"/><stop offset="0.6667" stop-color="#d52d00"/><stop offset="0.6738" stop-color="#d73300"/><stop offset="0.6901" stop-color="#dc6600"/><stop offset="0.7064" stop-color="#db8300"/><stop offset="0.7309" stop-color="#d69e00"/><stop offset="0.7574" stop-color="#d4a900"/><stop offset="1.0000" stop-color="#d3ab00"/></linearGradient><linearGradient id="c32"><stop offset="0.0000" stop-color="#39003a"/><stop offset="0.2681" stop-color="#35003c"/><stop offset="0.2773" stop-color="#2f003f"/><stop offset="0.2895" stop-color="#1b004e"/><stop offset="0.3058" stop-color="#050078"/><stop offset="0.3364" stop-color="#00029f"/><stop offset="0.3619" stop-color="#0005ab"/><stop offset="0.3945" stop-color="#00029f"/><stop offset="0.4149" stop-color="#04007f"/><stop offset="0.4200" stop-color="#070072"/><stop offset="0.4261" stop-color="#190052"/><stop offset="0.4322" stop-color="#240045"/><stop offset="0.4516" stop-color="#39003a"/><stop offset="0.4924" stop-color="#460033"/><stop offset="0.5025" stop-color="#56002c"/><stop offset="0.5168" stop-color="#7e0020"/><stop offset="0.5280" stop-color="#9e0015"/><stop offset="0.5433" stop-color="#b6000b"/><stop offset="0.5586" stop-color="#be0007"/><stop offset="0.5933" stop-color="#c30003"/><stop offset="0.6167" stop-color="#cd0600"/><stop offset="0.6504" stop-color="#d21b00"/><stop offset="0.6677" stop-color="#d62e00"/><stop offset="0.6738" stop-color="#d73500"/><stop offset="0.6901" stop-color="#dc6700"/><stop offset="0.7054" stop-color="#db8300"/><stop offset="0.7309" stop-color="#d69f00"/><stop offset="0.7574" stop-color="#d4aa00"/><stop offset="0.8634" stop-color="#d3ab00"/><stop offset="0.8756" stop-color="#d2af00"/><stop offset="1.0000" stop-color="#d2af00"/></linearGradient><linearGradient id="c33"><stop offset="0.0000" stop-color="#740023"/><stop offset="0.2640" stop-color="#6b0025"/><stop offset="0.2783" stop-color="#56002c"/><stop offset="0.2895" stop-color="#3c0039"/><stop offset="0.2977" stop-color="#1d004a"/><stop offset="0.3140" stop-color="#050077"/><stop offset="0.3394" stop-color="#010296"/><stop offset="0.3598" stop-color="#0003a3"/><stop offset="0.3904" stop-color="#010298"/><stop offset="0.4128" stop-color="#050077"/><stop offset="0.4230" stop-color="#1e0048"/><stop offset="0.4281" stop-color="#290042"/><stop offset="0.4516" stop-color="#3f0037"/><stop offset="0.4699" stop-color="#460033"/><stop offset="0.4811" stop-color="#55002c"/><stop offset="0.4924" stop-color="#710024"/><stop offset="0.5056" stop-color="#9a0017"/><stop offset="0.5219" stop-color="#b6000b"/><stop offset="0.5362" stop-color="#be0007"/><stop offset="0.5912" stop-color="#c50002"/><stop offset="0.6269" stop-color="#cf0d00"/><stop offset="0.6524" stop-color="#d21e00"/><stop offset="0.6677" stop-color="#d62e00"/><stop offset="0.6748" stop-color="#d83900"/><stop offset="0.6891" stop-color="#dc6500"/><stop offset="0.7044" stop-color="#db8200"/><stop offset="0.7309" stop-color="#d69f00"/><stop offset="0.7574" stop-color="#d3aa00"/><stop offset="0.8624" stop-color="#d3ac00"/><stop offset="0.8685" stop-color="#cfb500"/><stop offset="1.0000" stop-color="#cfb500"/></linearGradient><linearGradient id="c34"><stop offset="0.0000" stop-color="#a90010"/><stop offset="0.2630" stop-color="#a10014"/><stop offset="0.2783" stop-color="#84001e"/><stop offset="0.2895" stop-color="#640027"/><stop offset="0.3048" stop-color="#230045"/><stop offset="0.3119" stop-color="#150059"/><stop offset="0.3231" stop-color="#050077"/><stop offset="0.3425" stop-color="#02018c"/><stop offset="0.3598" stop-color="#010297"/><stop offset="0.3904" stop-color="#02018a"/><stop offset="0.4067" stop-color="#060074"/><stop offset="0.4128" stop-color="#14005b"/><stop offset="0.4179" stop-color="#210047"/><stop offset="0.4251" stop-color="#31003e"/><stop offset="0.4516" stop-color="#4b0031"/><stop offset="0.4618" stop-color="#5d002a"/><stop offset="0.4720" stop-color="#780021"/><stop offset="0.4842" stop-color="#9b0016"/><stop offset="0.5025" stop-color="#b9000a"/><stop offset="0.5189" stop-color="#bf0007"/><stop offset="0.5882" stop-color="#c60001"/><stop offset="0.6259" stop-color="#cf0d00"/><stop offset="0.6524" stop-color="#d21e00"/><stop offset="0.6687" stop-color="#d62f00"/><stop offset="0.6769" stop-color="#d94000"/><stop offset="0.6891" stop-color="#dc6600"/><stop offset="0.7044" stop-color="#db8300"/><stop offset="0.7309" stop-color="#d69f00"/><stop offset="0.7584" stop-color="#d3ab00"/><stop offset="0.8624" stop-color="#d2ad00"/><stop offset="0.8675" stop-color="#cdba00"/><stop offset="1.0000" stop-color="#cdba00"/></linearGradient><linearGradient id="c35"><stop offset="0.0000" stop-color="#c40003"/><stop offset="0.2661" stop-color="#be0007"/><stop offset="0.2824" stop-color="#a10014"/><stop offset="0.2895" stop-color="#90001a"/><stop offset="0.3068" stop-color="#440034"/><stop offset="0.3160" stop-color="#1e0049"/><stop offset="0.3323" stop-color="#050077"/><stop offset="0.3598" stop-color="#030189"/><stop offset="0.3904" stop-color="#04007d"/><stop offset="0.3986" stop-color="#070072"/><stop offset="0.4118" stop-color="#200047"/><stop offset="0.4169" stop-color="#31003e"/><stop offset="0.4373" stop-color="#51002e"/><stop offset="0.4475" stop-color="#710023"/><stop offset="0.4608" stop-color="#9a0017"/><stop offset="0.4791" stop-color="#b8000a"/><stop offset="0.4934" stop-color="#bf0007"/><stop offset="0.5861" stop-color="#c80000"/><stop offset="0.6259" stop-color="#cf0e00"/><stop offset="0.6534" stop-color="#d32000"/><stop offset="0.6728" stop-color="#d83700"/><stop offset="0.6901" stop-color="#dc6900"/><stop offset="0.7034" stop-color="#db8300"/><stop offset="0.7288" stop-color="#d69f00"/><stop offset="0.7635" stop-color="#d2ae00"/><stop offset="0.8624" stop-color="#d1b100"/><stop offset="0.8675" stop-color="#ccbc00"/><stop offset="1.0000" stop-color="#ccbc00"/></linearGradient><linearGradient id="c36"><stop offset="0.0000" stop-color="#cc0500"/><stop offset="0.2691" stop-color="#c70001"/><stop offset="0.2854" stop-color="#b9000a"/><stop offset="0.3007" stop-color="#8e001b"/><stop offset="0.3170" stop-color="#450034"/><stop offset="0.3262" stop-color="#1d004a"/><stop offset="0.3344" stop-color="#110060"/><stop offset="0.3527" stop-color="#050079"/><stop offset="0.3721" stop-color="#050077"/><stop offset="0.3874" stop-color="#09006e"/><stop offset="0.4006" stop-color="#1a004f"/><stop offset="0.4047" stop-color="#260044"/><stop offset="0.4169" stop-color="#490031"/><stop offset="0.4292" stop-color="#6e0024"/><stop offset="0.4404" stop-color="#9a0017"/><stop offset="0.4526" stop-color="#b4000c"/><stop offset="0.4648" stop-color="#be0007"/><stop offset="0.5902" stop-color="#ca0200"/><stop offset="0.6259" stop-color="#d01000"/><stop offset="0.6544" stop-color="#d32100"/><stop offset="0.6728" stop-color="#d83800"/><stop offset="0.6850" stop-color="#dc5d00"/><stop offset="0.7023" stop-color="#db8200"/><stop offset="0.7268" stop-color="#d69f00"/><stop offset="0.7717" stop-color="#d0b400"/><stop offset="0.8624" stop-color="#cfb500"/><stop offset="0.8685" stop-color="#cbbd00"/><stop offset="1.0000" stop-color="#cbbd00"/></linearGradient><linearGradient id="c37"><stop offset="0.0000" stop-color="#d01200"/><stop offset="0.2661" stop-color="#cc0600"/><stop offset="0.2875" stop-color="#c30004"/><stop offset="0.2977" stop-color="#b9000a"/><stop offset="0.3119" stop-color="#8f001a"/><stop offset="0.3272" stop-color="#460033"/><stop offset="0.3333" stop-color="#2a0042"/><stop offset="0.3415" stop-color="#1c004c"/><stop offset="0.3568" stop-color="#110060"/><stop offset="0.3874" stop-color="#1a004f"/><stop offset="0.3925" stop-color="#240045"/><stop offset="0.3945" stop-color="#2a0042"/><stop offset="0.3976" stop-color="#2e0040"/><stop offset="0.4047" stop-color="#51002e"/><stop offset="0.4088" stop-color="#640028"/><stop offset="0.4230" stop-color="#9a0016"/><stop offset="0.4383" stop-color="#bb0009"/><stop offset="0.4709" stop-color="#c10005"/><stop offset="0.5872" stop-color="#ca0300"/><stop offset="0.6259" stop-color="#d01100"/><stop offset="0.6544" stop-color="#d32200"/><stop offset="0.6728" stop-color="#d83900"/><stop offset="0.6840" stop-color="#dc5a00"/><stop offset="0.6993" stop-color="#db7f00"/><stop offset="0.7238" stop-color="#d69e00"/><stop offset="0.7717" stop-color="#ceb800"/><stop offset="0.8634" stop-color="#cdba00"/><stop offset="0.8736" stop-color="#cbbe00"/><stop offset="1.0000" stop-color="#cbbe00"/></linearGradient><linearGradient id="c38"><stop offset="0.0000" stop-color="#d31f00"/><stop offset="0.2538" stop-color="#d01300"/><stop offset="0.2936" stop-color="#c80000"/><stop offset="0.3099" stop-color="#ba0009"/><stop offset="0.3242" stop-color="#8d001b"/><stop offset="0.3333" stop-color="#620028"/><stop offset="0.3558" stop-color="#2e0040"/><stop offset="0.3863" stop-color="#410036"/><stop offset="0.3945" stop-color="#58002b"/><stop offset="0.3955" stop-color="#55002c"/><stop offset="0.3996" stop-color="#6b0025"/><stop offset="0.4057" stop-color="#9a0016"/><stop offset="0.4179" stop-color="#b7000a"/><stop offset="0.4271" stop-color="#bf0007"/><stop offset="0.5821" stop-color="#ca0300"/><stop offset="0.6249" stop-color="#d01100"/><stop offset="0.6555" stop-color="#d32300"/><stop offset="0.6728" stop-color="#d83a00"/><stop offset="0.6830" stop-color="#dc5800"/><stop offset="0.6922" stop-color="#dc7100"/><stop offset="0.7064" stop-color="#da8b00"/><stop offset="0.7227" stop-color="#d6a000"/><stop offset="0.7666" stop-color="#ccbb00"/><stop offset="0.8644" stop-color="#cbbd00"/><stop offset="1.0000" stop-color="#cbbe00"/></linearGradient><linearGradient id="c39"><stop offset="0.0000" stop-color="#d52a00"/><stop offset="0.2569" stop-color="#d32300"/><stop offset="0.2915" stop-color="#cc0500"/><stop offset="0.3140" stop-color="#c30004"/><stop offset="0.3231" stop-color="#b9000a"/><stop offset="0.3344" stop-color="#9b0016"/><stop offset="0.3496" stop-color="#7a0021"/><stop offset="0.3558" stop-color="#6b0025"/><stop offset="0.3731" stop-color="#6d0025"/><stop offset="0.3874" stop-color="#7b0021"/><stop offset="0.3945" stop-color="#8b001c"/><stop offset="0.3955" stop-color="#980017"/><stop offset="0.4047" stop-color="#bd0008"/><stop offset="0.4811" stop-color="#c60001"/><stop offset="0.5821" stop-color="#cb0400"/><stop offset="0.6279" stop-color="#d11500"/><stop offset="0.6555" stop-color="#d42400"/><stop offset="0.6738" stop-color="#d93e00"/><stop offset="0.6840" stop-color="#dc5d00"/><stop offset="0.7013" stop-color="#db8400"/><stop offset="0.7197" stop-color="#d69f00"/><stop offset="0.7615" stop-color="#ccbc00"/><stop offset="1.0000" stop-color="#cbbf00"/></linearGradient><linearGradient id="c40"><stop offset="0.0000" stop-color="#d73400"/><stop offset="0.2661" stop-color="#d63200"/><stop offset="0.2803" stop-color="#d21a00"/><stop offset="0.2915" stop-color="#ce0a00"/><stop offset="0.3262" stop-color="#c40003"/><stop offset="0.3435" stop-color="#b90009"/><stop offset="0.3588" stop-color="#a40012"/><stop offset="0.3721" stop-color="#a00014"/><stop offset="0.3904" stop-color="#ad000e"/><stop offset="0.3945" stop-color="#b2000d"/><stop offset="0.3955" stop-color="#be0007"/><stop offset="0.4414" stop-color="#c70001"/><stop offset="0.5821" stop-color="#cc0600"/><stop offset="0.6279" stop-color="#d11600"/><stop offset="0.6555" stop-color="#d42400"/><stop offset="0.6738" stop-color="#d93f00"/><stop offset="0.6840" stop-color="#dc5e00"/><stop offset="0.7023" stop-color="#da8800"/><stop offset="0.7176" stop-color="#d6a000"/><stop offset="0.7564" stop-color="#ccbc00"/><stop offset="1.0000" stop-color="#cbbf00"/></linearGradient><linearGradient id="c41"><stop offset="0.0000" stop-color="#d94000"/><stop offset="0.2681" stop-color="#d93e00"/><stop offset="0.2813" stop-color="#d52c00"/><stop offset="0.2915" stop-color="#d01300"/><stop offset="0.3119" stop-color="#cc0500"/><stop offset="0.3588" stop-color="#c20004"/><stop offset="0.3843" stop-color="#c20005"/><stop offset="0.4404" stop-color="#c90100"/><stop offset="0.5841" stop-color="#ce0800"/><stop offset="0.6269" stop-color="#d11600"/><stop offset="0.6565" stop-color="#d42600"/><stop offset="0.6718" stop-color="#d83a00"/><stop offset="0.6820" stop-color="#dc5800"/><stop offset="0.6922" stop-color="#dc7400"/><stop offset="0.7146" stop-color="#d69e00"/><stop offset="0.7503" stop-color="#ccbc00"/><stop offset="1.0000" stop-color="#cbbf00"/></linearGradient><linearGradient id="c42"><stop offset="0.0000" stop-color="#dc5000"/><stop offset="0.2712" stop-color="#db4d00"/><stop offset="0.2864" stop-color="#d73200"/><stop offset="0.2966" stop-color="#d11600"/><stop offset="0.3180" stop-color="#cd0700"/><stop offset="0.3925" stop-color="#c90100"/><stop offset="0.5810" stop-color="#ce0900"/><stop offset="0.6269" stop-color="#d11800"/><stop offset="0.6565" stop-color="#d42600"/><stop offset="0.6707" stop-color="#d83800"/><stop offset="0.6820" stop-color="#dc5900"/><stop offset="0.6962" stop-color="#db7f00"/><stop offset="0.7146" stop-color="#d6a000"/><stop offset="0.7441" stop-color="#ccbc00"/><stop offset="1.0000" stop-color="#cac000"/></linearGradient><linearGradient id="c43"><stop offset="0.0000" stop-color="#dc6200"/><stop offset="0.2732" stop-color="#dc6000"/><stop offset="0.2834" stop-color="#db4c00"/><stop offset="0.3017" stop-color="#d11900"/><stop offset="0.3221" stop-color="#ce0900"/><stop offset="0.3904" stop-color="#ca0300"/><stop offset="0.5780" stop-color="#ce0a00"/><stop offset="0.6249" stop-color="#d11800"/><stop offset="0.6575" stop-color="#d42700"/><stop offset="0.6707" stop-color="#d83900"/><stop offset="0.6830" stop-color="#dc5e00"/><stop offset="0.7023" stop-color="#da8c00"/><stop offset="0.7166" stop-color="#d5a500"/><stop offset="0.7390" stop-color="#cbbd00"/><stop offset="1.0000" stop-color="#cac000"/></linearGradient><linearGradient id="c44"><stop offset="0.0000" stop-color="#dc6f00"/><stop offset="0.2752" stop-color="#dc6e00"/><stop offset="0.2844" stop-color="#dc6000"/><stop offset="0.3028" stop-color="#d32300"/><stop offset="0.3119" stop-color="#d11500"/><stop offset="0.3415" stop-color="#cd0700"/><stop offset="0.5046" stop-color="#ce0800"/><stop offset="0.5810" stop-color="#cf0e00"/><stop offset="0.6249" stop-color="#d11900"/><stop offset="0.6585" stop-color="#d52900"/><stop offset="0.6707" stop-color="#d83900"/><stop offset="0.6901" stop-color="#dc7300"/><stop offset="0.7136" stop-color="#d5a300"/><stop offset="0.7329" stop-color="#ccbd00"/><stop offset="0.8267" stop-color="#cac000"/><stop offset="1.0000" stop-color="#cac000"/></linearGradient><linearGradient id="c45"><stop offset="0.0000" stop-color="#db7b00"/><stop offset="0.2773" stop-color="#db7900"/><stop offset="0.2885" stop-color="#dc6800"/><stop offset="0.2977" stop-color="#da4400"/><stop offset="0.3058" stop-color="#d42800"/><stop offset="0.3160" stop-color="#d11700"/><stop offset="0.3496" stop-color="#ce0900"/><stop offset="0.5331" stop-color="#cf0b00"/><stop offset="0.6228" stop-color="#d21a00"/><stop offset="0.6585" stop-color="#d52900"/><stop offset="0.6697" stop-color="#d83800"/><stop offset="0.6901" stop-color="#dc7400"/><stop offset="0.7156" stop-color="#d3aa00"/><stop offset="0.7278" stop-color="#ccbc00"/><stop offset="0.7747" stop-color="#cac000"/><stop offset="1.0000" stop-color="#cac100"/></linearGradient><linearGradient id="c46"><stop offset="0.0000" stop-color="#db8600"/><stop offset="0.2793" stop-color="#db8400"/><stop offset="0.2905" stop-color="#dc7100"/><stop offset="0.2977" stop-color="#dc5900"/><stop offset="0.3058" stop-color="#d73300"/><stop offset="0.3140" stop-color="#d31f00"/><stop offset="0.3282" stop-color="#d01400"/><stop offset="0.3741" stop-color="#ce0a00"/><stop offset="0.5749" stop-color="#d01200"/><stop offset="0.6259" stop-color="#d21d00"/><stop offset="0.6585" stop-color="#d52900"/><stop offset="0.6697" stop-color="#d83900"/><stop offset="0.6901" stop-color="#dc7500"/><stop offset="0.7156" stop-color="#d2af00"/><stop offset="0.7258" stop-color="#cbbe00"/><stop offset="1.0000" stop-color="#cac100"/></linearGradient><linearGradient id="c47"><stop offset="0.0000" stop-color="#da9000"/><stop offset="0.2803" stop-color="#da8d00"/><stop offset="0.2915" stop-color="#db7c00"/><stop offset="0.3007" stop-color="#dc5f00"/><stop offset="0.3089" stop-color="#d73400"/><stop offset="0.3170" stop-color="#d32000"/><stop offset="0.3252" stop-color="#d11800"/><stop offset="0.3761" stop-color="#cf0d00"/><stop offset="0.5749" stop-color="#d11500"/><stop offset="0.6269" stop-color="#d31f00"/><stop offset="0.6595" stop-color="#d52a00"/><stop offset="0.6697" stop-color="#d83900"/><stop offset="0.6901" stop-color="#dc7700"/><stop offset="0.7136" stop-color="#d2af00"/><stop offset="0.7227" stop-color="#cbbe00"/><stop offset="0.8012" stop-color="#cac100"/><stop offset="1.0000" stop-color="#cac100"/></linearGradient><linearGradient id="c48"><stop offset="0.0000" stop-color="#d79a00"/><stop offset="0.2813" stop-color="#d89700"/><stop offset="0.2936" stop-color="#db8300"/><stop offset="0.3038" stop-color="#dc6000"/><stop offset="0.3109" stop-color="#d73600"/><stop offset="0.3191" stop-color="#d32100"/><stop offset="0.3262" stop-color="#d21b00"/><stop offset="0.3823" stop-color="#d01000"/><stop offset="0.5759" stop-color="#d11800"/><stop offset="0.6290" stop-color="#d32100"/><stop offset="0.6595" stop-color="#d52b00"/><stop offset="0.6687" stop-color="#d83800"/><stop offset="0.6891" stop-color="#dc7500"/><stop offset="0.7115" stop-color="#d2ae00"/><stop offset="0.7197" stop-color="#cbbe00"/><stop offset="0.7655" stop-color="#cac100"/><stop offset="1.0000" stop-color="#cac200"/></linearGradient><linearGradient id="c49"><stop offset="0.0000" stop-color="#d5a300"/><stop offset="0.2824" stop-color="#d6a100"/><stop offset="0.2936" stop-color="#da8d00"/><stop offset="0.3038" stop-color="#dc6c00"/><stop offset="0.3078" stop-color="#dc5900"/><stop offset="0.3140" stop-color="#d73300"/><stop offset="0.3221" stop-color="#d31f00"/><stop offset="0.3833" stop-color="#d01400"/><stop offset="0.5708" stop-color="#d21a00"/><stop offset="0.6483" stop-color="#d42600"/><stop offset="0.6636" stop-color="#d62f00"/><stop offset="0.6728" stop-color="#da4400"/><stop offset="0.6901" stop-color="#db7900"/><stop offset="0.7095" stop-color="#d2ae00"/><stop offset="0.7166" stop-color="#cbbd00"/><stop offset="0.7543" stop-color="#cac200"/><stop offset="1.0000" stop-color="#cac200"/></linearGradient><linearGradient id="c50"><stop offset="0.0000" stop-color="#d3ad00"/><stop offset="0.2824" stop-color="#d3ab00"/><stop offset="0.2936" stop-color="#d89800"/><stop offset="0.3048" stop-color="#dc7200"/><stop offset="0.3099" stop-color="#dc5a00"/><stop offset="0.3160" stop-color="#d73300"/><stop offset="0.3221" stop-color="#d32200"/><stop offset="0.3792" stop-color="#d11700"/><stop offset="0.5708" stop-color="#d21c00"/><stop offset="0.6544" stop-color="#d42800"/><stop offset="0.6667" stop-color="#d73500"/><stop offset="0.6860" stop-color="#dc7000"/><stop offset="0.7054" stop-color="#d4a700"/><stop offset="0.7136" stop-color="#cbbd00"/><stop offset="0.7431" stop-color="#cac200"/><stop offset="1.0000" stop-color="#cac200"/></linearGradient><linearGradient id="c51"><stop offset="0.0000" stop-color="#cfb600"/><stop offset="0.2834" stop-color="#d0b400"/><stop offset="0.2936" stop-color="#d6a000"/><stop offset="0.3007" stop-color="#da8900"/><stop offset="0.3068" stop-color="#dc7000"/><stop offset="0.3089" stop-color="#dc6700"/><stop offset="0.3109" stop-color="#dc5f00"/><stop offset="0.3170" stop-color="#d73400"/><stop offset="0.3211" stop-color="#d42500"/><stop offset="0.3558" stop-color="#d21d00"/><stop offset="0.5566" stop-color="#d21e00"/><stop offset="0.6565" stop-color="#d52900"/><stop offset="0.6667" stop-color="#d73500"/><stop offset="0.6860" stop-color="#dc7100"/><stop offset="0.7034" stop-color="#d5a400"/><stop offset="0.7105" stop-color="#ccbc00"/><stop offset="0.7339" stop-color="#cac200"/><stop offset="1.0000" stop-color="#c9c300"/></linearGradient><linearGradient id="c52"><stop offset="0.0000" stop-color="#cbbe00"/><stop offset="0.2844" stop-color="#ccbb00"/><stop offset="0.2915" stop-color="#d2ae00"/><stop offset="0.2997" stop-color="#d89500"/><stop offset="0.3028" stop-color="#da8700"/><stop offset="0.3068" stop-color="#db7800"/><stop offset="0.3078" stop-color="#dc6f00"/><stop offset="0.3119" stop-color="#dc6100"/><stop offset="0.3150" stop-color="#db4900"/><stop offset="0.3180" stop-color="#d73400"/><stop offset="0.3211" stop-color="#d42700"/><stop offset="0.3466" stop-color="#d32100"/><stop offset="0.5627" stop-color="#d32100"/><stop offset="0.6585" stop-color="#d52a00"/><stop offset="0.6677" stop-color="#d73500"/><stop offset="0.6850" stop-color="#dc6f00"/><stop offset="0.7023" stop-color="#d5a500"/><stop offset="0.7085" stop-color="#ccbb00"/><stop offset="0.7309" stop-color="#c9c300"/><stop offset="1.0000" stop-color="#c9c300"/></linearGradient><linearGradient id="c53"><stop offset="0.0000" stop-color="#cac000"/><stop offset="0.2875" stop-color="#cbbe00"/><stop offset="0.2926" stop-color="#d0b200"/><stop offset="0.3007" stop-color="#d89700"/><stop offset="0.3028" stop-color="#da8b00"/><stop offset="0.3068" stop-color="#db7e00"/><stop offset="0.3078" stop-color="#dc7400"/><stop offset="0.3129" stop-color="#dc6200"/><stop offset="0.3150" stop-color="#db4e00"/><stop offset="0.3170" stop-color="#d94200"/><stop offset="0.3180" stop-color="#d83700"/><stop offset="0.3211" stop-color="#d52a00"/><stop offset="0.3415" stop-color="#d42400"/><stop offset="0.5984" stop-color="#d42600"/><stop offset="0.6616" stop-color="#d52c00"/><stop offset="0.6687" stop-color="#d73400"/><stop offset="0.6830" stop-color="#dc6b00"/><stop offset="0.7003" stop-color="#d6a100"/><stop offset="0.7074" stop-color="#ccbd00"/><stop offset="0.7309" stop-color="#c9c300"/><stop offset="1.0000" stop-color="#c9c300"/></linearGradient><linearGradient id="c54"><stop offset="0.0000" stop-color="#cac200"/><stop offset="0.2875" stop-color="#cbbf00"/><stop offset="0.2926" stop-color="#cdb900"/><stop offset="0.2977" stop-color="#d5a600"/><stop offset="0.3007" stop-color="#d79c00"/><stop offset="0.3028" stop-color="#d99000"/><stop offset="0.3068" stop-color="#db8100"/><stop offset="0.3099" stop-color="#dc7100"/><stop offset="0.3140" stop-color="#dc5e00"/><stop offset="0.3160" stop-color="#db4c00"/><stop offset="0.3170" stop-color="#da4600"/><stop offset="0.3180" stop-color="#d83c00"/><stop offset="0.3211" stop-color="#d52d00"/><stop offset="0.3394" stop-color="#d42700"/><stop offset="0.6575" stop-color="#d52a00"/><stop offset="0.6687" stop-color="#d63200"/><stop offset="0.6718" stop-color="#d93d00"/><stop offset="0.6809" stop-color="#dc6600"/><stop offset="0.6993" stop-color="#d6a100"/><stop offset="0.7054" stop-color="#ccbc00"/><stop offset="0.7268" stop-color="#c9c400"/><stop offset="1.0000" stop-color="#c9c400"/></linearGradient><linearGradient id="c55"><stop offset="0.0000" stop-color="#c9c300"/><stop offset="0.2864" stop-color="#cac100"/><stop offset="0.2926" stop-color="#ccbc00"/><stop offset="0.3038" stop-color="#da8f00"/><stop offset="0.3140" stop-color="#dc6200"/><stop offset="0.3191" stop-color="#d83800"/><stop offset="0.3211" stop-color="#d62f00"/><stop offset="0.3384" stop-color="#d52900"/><stop offset="0.6616" stop-color="#d52c00"/><stop offset="0.6697" stop-color="#d63100"/><stop offset="0.6799" stop-color="#dc6400"/><stop offset="0.6972" stop-color="#d79b00"/><stop offset="0.7044" stop-color="#ccbb00"/><stop offset="0.7248" stop-color="#c9c400"/><stop offset="1.0000" stop-color="#c9c400"/></linearGradient></defs>
<rect x="7.5" y="810.5" width="981.0" height="3.00" fill="url(#c0)"/>
<rect x="7.5" y="812.5" width="981.0" height="3.00" fill="url(#c1)"/>
<rect x="7.5" y="814.5" width="981.0" height="3.00" fill="url(#c2)"/>
<rect x="7.5" y="816.5" width="981.0" height="3.00" fill="url(#c3)"/>
<rect x="7.5" y="818.5" width="981.0" height="3.00" fill="url(#c4)"/>
<rect x="7.5" y="820.5" width="981.0" height="3.00" fill="url(#c5)"/>
<rect x="7.5" y="822.5" width="981.0" height="3.00" fill="url(#c6)"/>
<rect x="7.5" y="824.5" width="981.0" height="3.00" fill="url(#c7)"/>
<rect x="7.5" y="826.5" width="981.0" height="3.00" fill="url(#c8)"/>
<rect x="7.5" y="828.5" width="981.0" height="3.00" fill="url(#c9)"/>
<rect x="7.5" y="830.5" width="981.0" height="3.00" fill="url(#c10)"/>
<rect x="7.5" y="832.5" width="981.0" height="3.00" fill="url(#c11)"/>
<rect x="7.5" y="834.5" width="981.0" height="3.00" fill="url(#c12)"/>
<rect x="7.5" y="836.5" width="981.0" height="3.00" fill="url(#c13)"/>
<rect x="7.5" y="838.5" width="981.0" height="3.00" fill="url(#c14)"/>
<rect x="7.5" y="840.5" width="981.0" height="3.00" fill="url(#c15)"/>
<rect x="7.5" y="842.5" width="981.0" height="3.00" fill="url(#c16)"/>
<rect x="7.5" y="844.5" width="981.0" height="3.00" fill="url(#c17)"/>
<rect x="7.5" y="846.5" width="981.0" height="3.00" fill="url(#c18)"/>
<rect x="7.5" y="848.5" width="981.0" height="3.00" fill="url(#c19)"/>
<rect x="7.5" y="850.5" width="981.0" height="3.00" fill="url(#c20)"/>
<rect x="7.5" y="852.5" width="981.0" height="3.00" fill="url(#c21)"/>
<rect x="7.5" y="854.5" width="981.0" height="3.00" fill="url(#c22)"/>
<rect x="7.5" y="856.5" width="981.0" height="3.00" fill="url(#c23)"/>
<rect x="7.5" y="858.5" width="981.0" height="3.00" fill="url(#c24)"/>
<rect x="7.5" y="860.5" width="981.0" height="3.00" fill="url(#c25)"/>
<rect x="7.5" y="862.5" width="981.0" height="3.00" fill="url(#c26)"/>
<rect x="7.5" y="864.5" width="981.0" height="3.00" fill="url(#c27)"/>
<rect x="7.5" y="866.5" width="981.0" height="3.00" fill="url(#c28)"/>
<rect x="7.5" y="868.5" width="981.0" height="3.00" fill="url(#c29)"/>
<rect x="7.5" y="870.5" width="981.0" height="3.00" fill="url(#c30)"/>
<rect x="7.5" y="872.5" width="981.0" height="3.00" fill="url(#c31)"/>
<rect x="7.5" y="874.5" width="981.0" height="3.00" fill="url(#c32)"/>
<rect x="7.5" y="876.5" width="981.0" height="3.00" fill="url(#c33)"/>
<rect x="7.5" y="878.5" width="981.0" height="3.00" fill="url(#c34)"/>
<rect x="7.5" y="880.5" width="981.0" height="3.00" fill="url(#c35)"/>
<rect x="7.5" y="882.5" width="981.0" height="3.00" fill="url(#c36)"/>
<rect x="7.5" y="884.5" width="981.0" height="3.00" fill="url(#c37)"/>
<rect x="7.5" y="886.5" width="981.0" height="3.00" fill="url(#c38)"/>
<rect x="7.5" y="888.5" width="981.0" height="3.00" fill="url(#c39)"/>
<rect x="7.5" y="890.5" width="981.0" height="3.00" fill="url(#c40)"/>
<rect x="7.5" y="892.5" width="981.0" height="3.00" fill="url(#c41)"/>
<rect x="7.5" y="894.5" width="981.0" height="3.00" fill="url(#c42)"/>
<rect x="7.5" y="896.5" width="981.0" height="3.00" fill="url(#c43)"/>
<rect x="7.5" y="898.5" width="981.0" height="3.00" fill="url(#c44)"/>
<rect x="7.5" y="900.5" width="981.0" height="3.00" fill="url(#c45)"/>
<rect x="7.5" y="902.5" width="981.0" height="3.00" fill="url(#c46)"/>
<rect x="7.5" y="904.5" width="981.0" height="3.00" fill="url(#c47)"/>
<rect x="7.5" y="906.5" width="981.0" height="3.00" fill="url(#c48)"/>
<rect x="7.5" y="908.5" width="981.0" height="3.00" fill="url(#c49)"/>
<rect x="7.5" y="910.5" width="981.0" height="3.00" fill="url(#c50)"/>
<rect x="7.5" y="912.5" width="981.0" height="3.00" fill="url(#c51)"/>
<rect x="7.5" y="914.5" width="981.0" height="3.00" fill="url(#c52)"/>
<rect x="7.5" y="916.5" width="981.0" height="3.00" fill="url(#c53)"/>
<rect x="7.5" y="918.5" width="981.0" height="3.00" fill="url(#c54)"/>
<rect x="7.5" y="920.5" width="981.0" height="1.00" fill="url(#c55)"/>
<path d="M7.5,873.9 25.5,874.1 31.5,874.8 37.5,874.3 55.5,874.5 67.5,874.1 79.5,874.9 85.5,874.1 92.5,875.5 109.5,873.8 115.5,874.4 133.5,874.2 145.5,875.2 158.5,874.1 164.5,875.5 170.5,874.5 177.5,874.7 182.5,873.8 188.5,875.4 193.5,875.4 200.5,873.8 206.5,874.3 218.5,873.8 224.5,874.8 236.5,874.7 242.5,873.8 254.5,874.5 260.5,875.5 267.5,874.7 272.5,875.8 285.5,874.8 289.5,875.3 296.5,877.5 305.6,879.5 325.5,883.1 335.9,885.5 339.5,886.0 345.5,884.9 351.5,886.4 357.5,887.0 363.5,885.9 369.5,886.5 381.5,886.2 399.5,884.6 405.5,882.5 414.5,881.0 420.8,877.5 426.6,875.5 435.5,874.2 441.5,871.3 448.3,866.5 446.5,864.6 442.5,862.9 438.5,859.7 435.5,858.7 429.5,858.1 424.6,856.5 419.5,853.6 411.5,850.8 399.5,848.9 389.5,845.9 387.5,844.9 381.5,847.2 369.5,844.9 363.5,845.6 356.5,845.1 345.5,846.9 339.5,846.0 333.5,848.2 327.5,848.2 320.5,851.2 302.5,854.0 296.5,856.2 291.5,856.6 284.5,858.0 278.5,858.0 272.5,856.9 266.5,857.1 260.5,858.1 248.5,857.4 242.5,858.7 237.5,858.7 230.5,857.4 224.5,858.6 218.5,857.8 212.5,858.2 206.5,857.8 200.5,858.8 194.5,858.3 188.5,859.1 170.5,857.7 157.5,858.8 140.5,857.6 134.5,857.7 127.5,858.6 116.5,857.8 109.5,858.3 103.5,857.3 86.5,857.1 79.5,858.1 74.5,857.6 67.5,858.1 43.5,857.3 37.5,857.9 31.5,856.5 27.5,857.3 19.5,857.6 13.5,859.8 7.5,858.1 M7.5,883.6 13.5,882.7 25.5,883.1 37.5,882.6 49.5,882.9 61.5,882.0 68.5,883.4 73.5,883.7 79.5,882.4 91.5,881.8 98.5,883.1 104.5,881.7 110.5,882.9 121.5,883.3 139.5,881.7 146.5,882.5 152.5,881.9 158.5,882.7 164.5,882.4 170.5,883.7 176.4,883.5 182.5,882.2 188.5,883.6 200.5,882.6 212.5,883.1 218.5,881.5 221.5,882.7 224.5,884.6 228.5,882.8 236.5,881.5 248.5,882.8 261.5,882.5 267.5,884.1 272.5,884.1 290.5,886.7 302.5,887.4 308.5,889.7 315.5,889.6 321.5,891.6 332.5,893.1 339.5,892.3 363.5,896.3 375.5,894.8 381.5,895.3 393.5,894.9 399.5,893.6 405.5,894.2 411.5,893.4 417.5,894.5 423.5,893.1 441.5,892.6 447.5,891.7 453.5,893.2 459.5,891.8 465.5,892.6 471.5,890.9 478.5,892.6 483.5,891.8 489.5,892.0 496.5,889.9 502.5,890.8 507.5,890.4 520.5,891.3 531.5,889.7 538.5,890.3 544.5,889.0 568.5,887.0 575.2,885.5 586.5,880.1 598.5,876.0 604.5,870.6 607.6,866.5 606.6,864.5 602.5,861.7 599.5,858.3 596.5,857.0 592.5,854.4 586.5,853.3 581.5,849.5 566.4,845.5 562.5,844.9 556.5,845.2 544.5,842.3 538.5,842.7 532.5,841.2 526.5,843.0 514.5,842.0 508.5,842.7 502.5,842.1 490.5,842.5 484.5,841.3 477.5,841.4 471.5,840.7 465.5,841.1 453.5,839.2 447.5,840.4 423.5,839.9 405.5,837.7 393.5,837.8 387.5,838.6 375.5,836.5 363.5,838.3 356.5,837.1 338.5,838.5 332.5,840.0 324.5,840.9 320.5,842.0 309.5,842.5 302.5,842.2 290.5,846.4 279.5,846.3 273.5,848.7 266.5,849.8 260.5,849.1 254.5,850.1 248.5,848.3 242.5,850.1 230.5,849.0 224.5,850.1 206.5,849.1 188.5,850.1 182.5,848.6 176.5,850.2 170.5,849.2 164.5,849.8 134.5,849.0 122.5,850.4 116.5,850.0 104.5,851.1 98.5,849.2 91.5,851.0 80.5,849.6 61.5,850.5 49.5,850.1 43.5,849.1 37.5,850.3 19.5,849.9 7.5,850.5 M7.5,887.0 13.5,885.9 31.5,886.3 43.5,885.9 55.5,886.7 61.5,885.1 65.5,886.3 73.5,887.3 79.5,886.2 85.5,885.9 91.5,886.5 103.5,886.3 121.5,887.2 140.5,886.0 146.5,886.6 152.5,886.4 164.5,887.8 170.5,887.4 176.5,887.8 182.5,886.5 188.5,887.4 194.5,886.6 212.5,887.3 218.5,886.9 224.5,887.5 230.5,886.8 236.5,887.6 248.5,886.7 254.5,887.8 266.5,889.1 272.5,890.6 279.5,889.9 290.4,893.5 302.5,896.2 314.5,900.7 321.5,901.2 338.5,905.4 345.5,907.8 351.5,909.0 357.5,908.6 369.5,909.9 375.5,911.3 381.5,909.0 384.5,910.9 387.5,911.9 399.5,910.1 406.5,910.7 411.5,910.4 417.5,909.2 447.5,910.9 483.5,909.7 489.5,910.5 498.1,908.5 507.5,908.1 513.5,909.4 520.5,909.9 526.5,908.8 532.5,909.2 538.5,908.2 544.5,908.7 556.5,906.8 562.5,908.2 574.5,904.5 580.5,905.7 586.5,905.4 592.5,903.5 604.5,901.6 615.5,898.8 622.1,892.5 625.5,888.5 636.8,879.5 639.9,875.5 642.5,873.3 643.1,871.5 643.5,866.5 641.5,858.2 637.5,854.6 635.5,851.4 628.5,846.5 625.1,843.5 622.5,840.0 617.5,836.7 615.5,834.2 608.5,832.1 604.5,830.1 598.5,831.1 586.5,828.0 580.5,827.5 574.5,828.4 567.5,825.7 544.5,824.3 532.5,822.8 508.5,824.1 496.5,822.4 490.5,823.5 483.5,822.0 471.5,820.7 465.5,822.2 459.5,821.1 447.5,822.5 441.5,821.3 435.5,822.3 423.5,822.8 417.5,822.4 411.5,821.0 399.5,822.3 381.5,821.7 357.5,823.4 351.5,823.1 345.5,824.9 333.5,826.8 328.5,828.7 321.5,829.4 315.5,832.6 309.5,833.6 303.5,835.9 294.3,837.5 284.5,841.1 278.5,841.6 272.5,843.4 268.5,843.9 260.5,843.9 254.5,845.0 247.1,844.5 244.5,845.0 242.5,846.1 236.5,844.1 224.5,845.3 218.5,844.3 212.5,844.3 200.5,846.0 194.5,845.6 188.5,846.4 183.5,845.3 170.5,844.6 164.5,845.9 152.5,845.3 146.5,844.4 140.5,845.1 134.5,844.4 128.5,846.1 116.5,845.4 109.5,846.8 104.5,846.6 97.5,845.0 91.5,847.8 86.5,846.6 80.5,846.0 73.5,847.1 67.5,846.7 61.5,847.5 55.5,846.2 49.5,847.4 43.5,845.4 37.5,846.3 25.5,846.9 13.5,846.4 7.5,845.5 M322.9,810.5 320.9,814.5 320.6,818.5 315.5,822.3 312.2,826.5 309.5,828.7 300.5,833.3 290.5,835.4 288.1,837.5 285.5,838.8 272.5,840.9 266.5,841.4 260.5,840.7 254.5,841.9 236.5,840.7 230.5,842.1 218.5,841.2 206.5,841.9 200.5,843.1 194.5,841.9 188.5,841.5 182.5,842.5 170.5,841.3 167.5,841.8 164.5,843.1 158.5,841.8 152.5,841.8 146.5,840.4 140.5,841.2 128.5,841.5 121.5,841.0 104.5,841.7 98.5,840.4 91.5,841.9 80.5,841.3 73.5,842.3 55.5,841.3 49.5,842.6 43.5,841.0 31.5,842.7 25.5,842.0 19.5,843.7 7.5,841.0 M664.7,921.5 663.2,920.5 659.2,915.5 658.6,913.5 658.6,909.5 660.2,904.5 660.5,901.8 660.7,888.5 662.9,880.5 666.5,875.2 667.1,871.5 666.7,867.5 667.1,860.5 665.7,855.5 663.4,851.5 661.7,843.5 659.9,841.5 659.8,839.5 660.7,834.5 658.6,827.5 659.8,822.5 659.5,818.5 661.2,814.5 662.5,813.3 663.2,811.5 664.7,810.5 M7.5,891.1 25.5,889.7 31.5,890.6 39.5,889.9 49.5,890.1 61.5,891.2 73.5,891.4 80.5,890.3 91.5,891.3 98.5,889.5 109.5,891.6 115.5,890.2 122.5,890.8 140.5,889.7 146.5,890.6 152.5,889.8 158.5,891.3 170.5,890.4 176.5,891.4 182.5,890.3 188.5,890.5 194.5,889.2 200.5,890.8 212.5,890.3 224.5,891.1 230.5,890.1 238.5,890.7 248.5,888.8 254.5,890.3 266.5,891.1 272.5,892.4 278.5,892.9 285.5,894.9 290.5,895.3 294.7,896.5 301.0,900.5 307.5,902.7 314.5,907.9 320.2,913.5 320.9,917.5 323.4,921.5 M318.6,810.5 317.1,816.5 308.5,826.5 298.9,831.5 289.5,834.1 284.5,836.9 274.5,837.9 260.5,837.5 242.5,838.3 236.5,837.9 230.5,838.7 218.5,838.0 212.5,839.1 200.5,839.0 188.5,838.2 182.5,838.6 163.5,837.2 158.5,837.2 152.5,838.1 146.5,837.3 128.5,838.2 122.5,836.9 115.5,837.9 97.5,837.3 91.5,839.1 86.5,837.8 79.5,837.2 61.5,838.6 49.5,838.3 43.5,837.5 31.5,838.5 25.5,837.4 7.5,838.1 M668.4,921.5 666.5,908.5 670.9,896.5 670.9,892.5 673.5,884.5 673.0,880.5 674.0,876.5 673.7,868.5 674.9,864.5 673.5,859.5 674.0,855.5 672.5,844.5 669.5,831.5 669.4,823.5 667.3,818.5 667.2,814.5 668.0,810.5 M7.5,894.7 13.5,895.6 19.5,894.7 25.5,895.2 37.5,893.7 67.5,894.7 79.5,894.1 86.5,894.9 98.5,894.1 109.5,894.6 116.5,893.0 122.5,894.4 134.5,895.0 139.5,894.3 148.5,894.5 152.5,893.3 153.5,894.0 156.5,894.5 169.5,894.1 179.5,894.8 191.5,893.5 194.5,892.4 196.5,893.9 200.5,894.7 206.5,893.8 218.5,894.1 224.5,894.8 254.5,893.6 266.5,893.8 272.5,895.7 278.5,896.2 284.5,897.6 291.5,897.8 297.5,901.4 304.5,903.9 311.1,908.5 317.0,914.5 320.0,921.5 M314.7,810.5 314.5,815.0 310.5,820.6 307.7,823.5 303.6,826.5 294.5,831.3 287.5,833.2 284.5,834.7 279.5,834.3 272.5,835.6 266.5,834.9 260.5,835.3 254.5,834.5 236.5,835.9 218.5,834.8 212.5,835.4 206.5,834.1 200.5,835.7 194.5,834.6 188.5,836.0 182.5,834.4 176.5,834.1 158.5,834.2 152.5,835.2 134.5,834.5 128.5,835.3 121.5,833.8 116.5,834.8 109.5,834.2 103.5,834.9 86.5,835.3 73.5,834.6 61.5,836.2 55.5,835.4 49.5,836.2 43.5,834.7 31.5,835.3 25.5,834.4 19.5,835.3 13.5,834.7 7.5,835.7 M673.7,921.5 675.0,917.5 674.5,912.5 677.7,904.5 676.9,900.5 678.2,896.5 678.4,892.5 680.8,883.5 680.9,876.5 683.4,871.5 683.3,865.5 681.2,848.5 680.1,842.5 678.4,839.5 678.3,834.5 677.1,830.5 677.1,826.5 675.4,818.5 676.1,814.5 673.2,810.5 M7.5,897.5 25.5,898.4 31.5,897.0 37.5,897.4 43.5,896.6 55.5,897.9 61.5,897.1 79.5,897.0 85.5,897.9 92.5,897.2 103.5,897.8 115.5,896.0 121.5,897.2 128.5,897.4 134.5,898.2 140.5,897.4 152.5,898.3 158.5,897.2 164.5,897.0 170.5,898.5 176.5,897.5 182.5,897.8 188.5,896.7 194.5,898.0 198.5,897.7 206.5,896.0 212.5,897.5 218.5,897.1 224.5,897.8 242.5,897.2 248.5,897.9 260.5,896.4 266.5,896.4 272.5,898.3 290.5,899.9 296.5,903.2 302.5,905.2 308.2,909.5 311.5,913.3 315.4,916.5 315.7,921.5 M309.9,810.5 308.5,814.3 306.4,817.5 299.5,823.3 291.5,828.0 290.5,828.4 285.5,828.3 282.5,829.3 272.5,830.9 266.5,830.7 260.5,831.3 254.5,830.3 236.5,829.7 230.5,830.0 224.5,831.2 206.5,830.0 194.5,831.8 188.5,830.2 182.5,829.7 176.5,830.8 170.5,830.1 164.5,831.0 158.5,830.5 152.5,831.3 145.5,829.8 134.5,829.7 128.5,830.7 121.5,829.7 104.5,830.9 92.5,829.5 79.5,830.5 67.5,829.1 61.5,829.2 55.5,830.1 43.5,829.6 32.5,830.2 25.5,829.7 19.5,830.9 13.5,830.1 7.5,830.3 M684.7,921.5 684.3,916.5 689.3,903.5 689.9,900.5 689.8,896.5 693.1,888.5 694.2,879.5 696.9,872.5 698.6,864.5 698.1,861.5 695.5,855.6 694.7,851.5 693.0,847.5 692.7,843.5 690.5,835.5 684.5,818.5 683.7,810.5 M7.5,901.7 13.5,901.1 19.5,902.4 25.5,903.0 31.5,901.2 37.5,902.9 43.5,900.5 49.5,901.9 55.5,902.2 67.5,900.9 73.5,902.5 79.5,901.2 85.5,902.2 91.5,901.0 98.5,902.3 103.5,902.5 122.5,900.5 138.5,901.7 170.5,903.0 176.5,901.9 182.5,902.3 188.5,900.2 200.5,903.1 206.5,902.1 212.5,903.3 215.5,903.1 225.5,902.4 230.5,901.2 242.5,902.3 260.5,901.6 278.5,902.4 294.5,906.5 299.4,908.5 304.6,912.5 310.0,921.5 M304.4,810.5 302.5,813.8 299.7,816.5 296.5,819.1 293.7,820.5 286.5,822.8 280.5,824.0 266.5,825.0 260.5,825.0 254.5,822.7 248.5,824.3 236.5,823.6 230.5,824.2 224.5,823.3 218.5,825.2 206.5,823.9 194.5,824.9 188.5,823.7 164.5,824.5 158.5,823.5 140.5,824.2 127.5,823.7 115.5,825.1 91.5,823.5 79.5,824.4 61.5,822.9 55.5,823.8 37.5,824.8 25.5,823.2 19.5,824.1 13.5,824.2 7.5,825.8 M692.9,921.5 693.4,917.5 694.6,913.5 701.1,905.5 706.5,894.2 708.3,892.5 710.4,888.5 715.5,884.5 719.0,880.5 719.5,875.5 722.3,867.5 722.4,865.5 720.5,859.5 721.1,855.5 720.8,851.5 719.5,850.0 714.5,847.4 713.5,846.5 712.0,843.5 706.3,839.5 704.8,834.5 701.4,827.5 698.5,824.1 695.1,818.5 691.6,810.5 M7.5,907.1 13.5,909.1 25.5,907.8 43.5,909.2 49.5,907.7 55.5,907.4 67.5,908.1 73.5,907.5 79.5,908.8 85.5,908.1 92.5,908.4 104.5,907.5 110.5,907.7 116.5,908.8 122.5,907.8 133.5,908.8 140.5,907.9 146.5,909.1 152.5,908.0 164.5,908.4 170.5,907.9 182.5,908.3 188.5,909.0 194.5,908.3 200.5,908.9 218.5,908.2 224.5,909.2 231.5,909.0 242.5,907.6 254.5,907.8 261.5,907.2 281.5,909.0 291.5,910.7 299.8,915.5 301.6,917.5 303.2,921.5 M294.7,810.5 293.7,812.5 292.5,813.5 284.5,816.5 279.5,817.5 272.5,817.9 266.5,819.3 254.5,816.9 225.5,818.4 212.5,816.6 206.5,818.1 200.5,816.9 182.5,819.1 170.5,817.7 158.5,817.9 152.5,817.3 145.5,817.8 128.5,818.0 110.5,817.2 103.9,818.5 98.5,818.8 85.5,817.1 73.5,817.6 67.5,819.1 61.5,817.9 56.5,817.7 49.5,818.8 43.5,818.5 37.5,817.4 31.5,818.6 25.5,817.2 19.5,817.1 13.5,818.0 7.5,816.7 M988.5,853.4 981.5,852.6 978.5,850.8 976.5,851.7 974.9,855.5 972.5,855.7 971.4,855.5 967.5,851.7 966.5,851.4 959.9,853.5 954.5,854.0 947.5,852.2 942.5,853.1 936.5,855.6 930.5,851.8 924.5,851.4 918.5,853.2 911.5,851.6 906.5,853.8 900.5,851.8 894.5,853.2 888.5,853.4 876.5,851.4 869.5,853.8 863.5,850.7 858.5,851.7 857.5,848.4 856.5,847.1 853.5,846.7 851.5,847.2 845.5,845.3 826.5,844.9 815.5,843.3 811.5,845.1 803.5,844.4 797.5,845.5 791.5,843.7 788.5,845.0 779.5,846.6 777.3,845.5 773.5,842.0 761.5,845.2 755.5,842.7 750.5,844.0 743.5,840.7 738.5,839.2 735.5,837.4 724.5,833.5 721.5,831.5 717.5,829.9 714.5,827.5 712.5,824.6 706.5,821.8 705.5,819.9 703.5,818.5 701.4,814.5 698.3,810.5 M817.5,847.7 815.5,848.1 813.1,847.5 813.2,846.5 814.5,845.8 816.5,845.8 817.8,846.5 818.4,847.5 817.5,847.7 M698.1,921.5 699.5,918.8 703.5,914.0 706.1,912.5 709.2,909.5 710.5,907.3 715.5,904.1 717.5,902.2 723.4,899.5 727.5,898.7 735.5,895.9 738.5,894.2 743.5,892.7 745.5,891.2 750.5,890.7 755.5,886.5 761.5,888.4 766.5,886.3 773.5,887.6 779.5,886.4 785.5,888.3 791.5,889.2 802.5,888.0 803.2,887.5 801.6,884.5 803.5,883.5 806.3,884.5 803.9,887.5 806.7,888.5 809.5,888.7 815.5,886.6 826.5,887.2 833.5,888.7 839.5,887.2 845.5,888.3 850.5,886.4 853.5,886.1 856.5,884.7 857.0,883.5 856.8,880.5 857.9,879.5 869.5,880.2 876.5,878.1 881.5,878.0 887.5,881.4 889.5,881.1 893.5,879.0 899.5,878.7 911.6,879.5 915.5,881.0 918.5,881.4 924.5,881.2 927.1,879.5 929.5,878.8 942.5,881.2 948.5,879.9 957.5,881.3 966.5,881.9 974.5,881.1 978.5,879.6 988.5,880.4 M7.5,914.8 13.5,915.3 19.5,914.3 25.5,914.3 31.5,915.0 37.5,913.7 43.5,915.0 49.5,915.1 61.5,915.3 67.5,914.5 85.5,914.4 98.5,915.2 104.5,914.9 109.5,913.2 116.5,915.3 122.5,915.4 128.5,914.0 134.5,915.1 139.5,915.3 152.5,914.1 158.5,914.1 164.5,915.0 170.5,914.5 176.5,915.2 188.5,913.9 194.9,914.5 200.5,915.7 212.5,913.3 218.5,914.3 224.5,914.5 230.5,913.0 236.5,915.1 242.5,914.0 248.5,914.9 266.5,913.6 272.5,914.9 286.5,915.7 292.5,918.6 294.4,920.5 294.7,921.5" fill="none" stroke="#f2eed8" stroke-width="0.95" stroke-linejoin="round"/>
</svg></body></html>
